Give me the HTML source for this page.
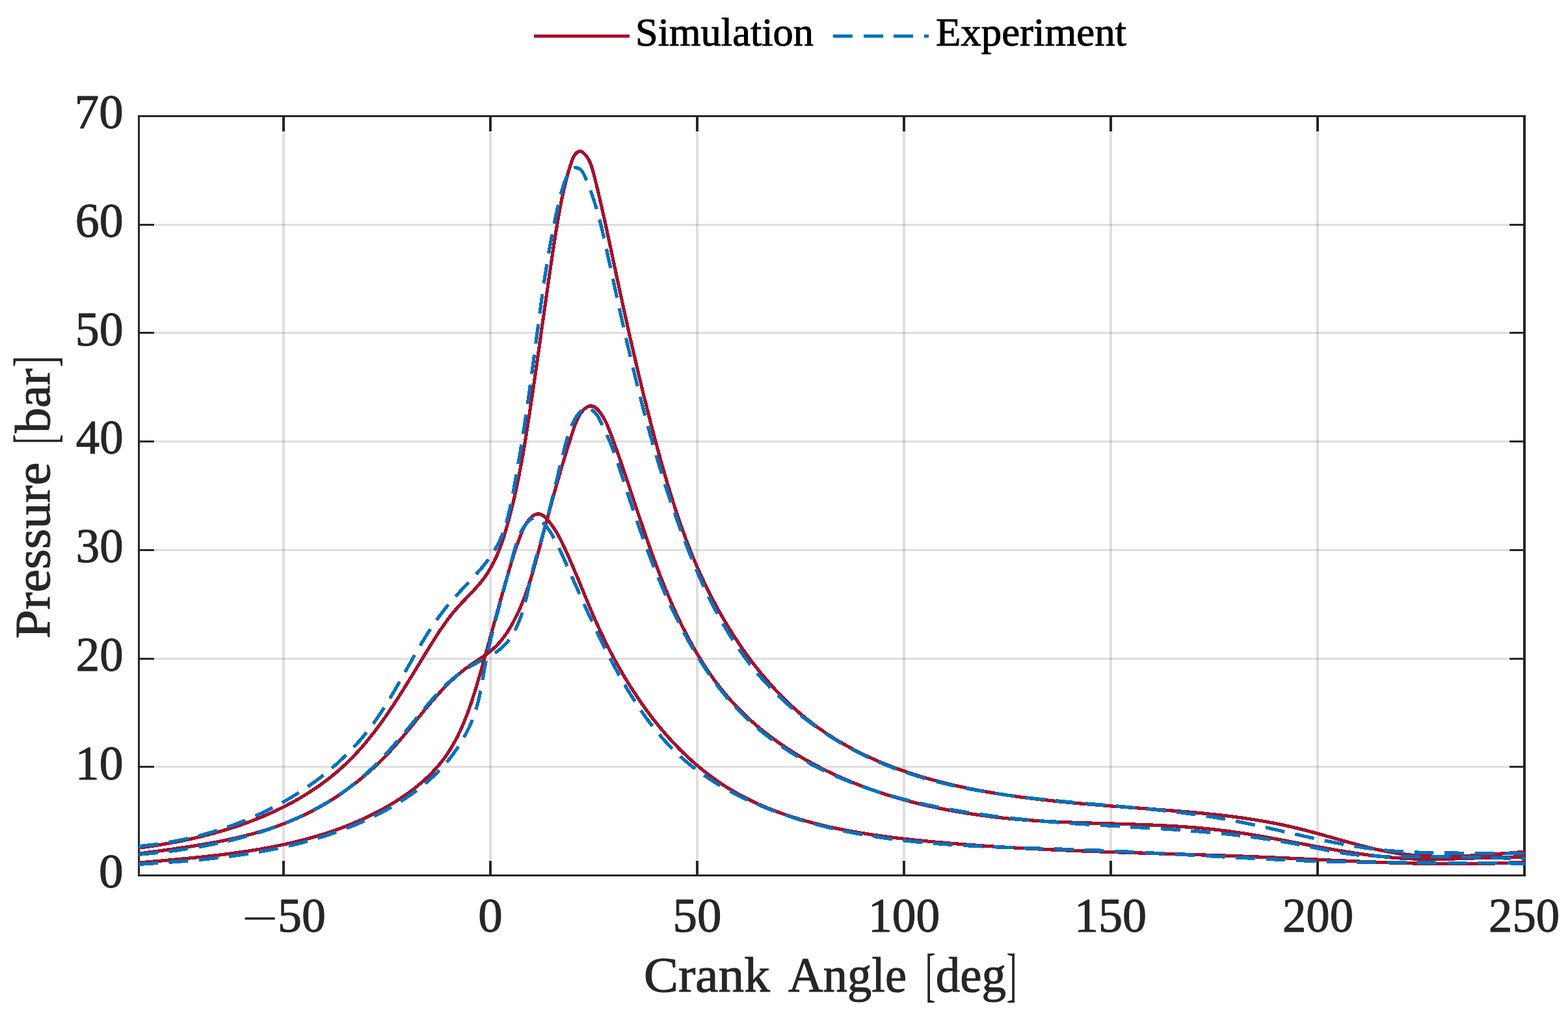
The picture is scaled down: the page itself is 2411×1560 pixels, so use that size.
<!DOCTYPE html>
<html lang="en"><head><meta charset="utf-8"><title>Pressure vs Crank Angle</title>
<style>
html,body{margin:0;padding:0;background:#fff;}
body{width:2411px;height:1560px;overflow:hidden;}
svg{display:block;}
text{font-family:'Liberation Serif', 'DejaVu Serif', serif;}
.tk{font-size:73.4px;fill:#262626;stroke:#262626;stroke-width:1.1px;stroke-linejoin:round;}
.mn{stroke:none;}
.br{font-size:90.6px;stroke:none;}
.lb{font-size:77px;fill:#262626;stroke:#262626;stroke-width:1.1px;stroke-linejoin:round;}
.lg{font-size:60.5px;fill:#000;stroke:#000;stroke-width:1.0px;stroke-linejoin:round;}
</style></head><body>
<svg width="2411" height="1560" viewBox="0 0 2411 1560">
<rect width="2411" height="1560" fill="#fff"/>
<defs><clipPath id="cp"><rect x="213" y="180" width="2132.2" height="1164"/></clipPath></defs>

<g fill="#dedede" shape-rendering="crispEdges">
<rect x="434" y="203" width="4" height="1119"/>
<rect x="752" y="203" width="4" height="1119"/>
<rect x="1070" y="203" width="4" height="1119"/>
<rect x="1388" y="203" width="4" height="1119"/>
<rect x="1706" y="203" width="4" height="1119"/>
<rect x="2024" y="203" width="4" height="1119"/>
<rect x="238" y="1177" width="2082" height="3"/>
<rect x="238" y="1011" width="2082" height="3"/>
<rect x="238" y="844" width="2082" height="3"/>
<rect x="238" y="677" width="2082" height="3"/>
<rect x="238" y="510" width="2082" height="3"/>
<rect x="238" y="344" width="2082" height="3"/>
</g>
<g fill="#eeeeee" shape-rendering="crispEdges">
<rect x="434" y="202" width="4" height="1"/>
<rect x="434" y="1322" width="4" height="1"/>
<rect x="752" y="202" width="4" height="1"/>
<rect x="752" y="1322" width="4" height="1"/>
<rect x="1070" y="202" width="4" height="1"/>
<rect x="1070" y="1322" width="4" height="1"/>
<rect x="1388" y="202" width="4" height="1"/>
<rect x="1388" y="1322" width="4" height="1"/>
<rect x="1706" y="202" width="4" height="1"/>
<rect x="1706" y="1322" width="4" height="1"/>
<rect x="2024" y="202" width="4" height="1"/>
<rect x="2024" y="1322" width="4" height="1"/>
<rect x="237" y="1177" width="1" height="3"/>
<rect x="2320" y="1177" width="1" height="3"/>
<rect x="237" y="1011" width="1" height="3"/>
<rect x="2320" y="1011" width="1" height="3"/>
<rect x="237" y="844" width="1" height="3"/>
<rect x="2320" y="844" width="1" height="3"/>
<rect x="237" y="677" width="1" height="3"/>
<rect x="2320" y="677" width="1" height="3"/>
<rect x="237" y="510" width="1" height="3"/>
<rect x="2320" y="510" width="1" height="3"/>
<rect x="237" y="344" width="1" height="3"/>
<rect x="2320" y="344" width="1" height="3"/>
</g>
<g fill="#c3c3c3" shape-rendering="crispEdges">
<rect x="434" y="1177" width="4" height="3"/>
<rect x="434" y="1011" width="4" height="3"/>
<rect x="434" y="844" width="4" height="3"/>
<rect x="434" y="677" width="4" height="3"/>
<rect x="434" y="510" width="4" height="3"/>
<rect x="434" y="344" width="4" height="3"/>
<rect x="752" y="1177" width="4" height="3"/>
<rect x="752" y="1011" width="4" height="3"/>
<rect x="752" y="844" width="4" height="3"/>
<rect x="752" y="677" width="4" height="3"/>
<rect x="752" y="510" width="4" height="3"/>
<rect x="752" y="344" width="4" height="3"/>
<rect x="1070" y="1177" width="4" height="3"/>
<rect x="1070" y="1011" width="4" height="3"/>
<rect x="1070" y="844" width="4" height="3"/>
<rect x="1070" y="677" width="4" height="3"/>
<rect x="1070" y="510" width="4" height="3"/>
<rect x="1070" y="344" width="4" height="3"/>
<rect x="1388" y="1177" width="4" height="3"/>
<rect x="1388" y="1011" width="4" height="3"/>
<rect x="1388" y="844" width="4" height="3"/>
<rect x="1388" y="677" width="4" height="3"/>
<rect x="1388" y="510" width="4" height="3"/>
<rect x="1388" y="344" width="4" height="3"/>
<rect x="1706" y="1177" width="4" height="3"/>
<rect x="1706" y="1011" width="4" height="3"/>
<rect x="1706" y="844" width="4" height="3"/>
<rect x="1706" y="677" width="4" height="3"/>
<rect x="1706" y="510" width="4" height="3"/>
<rect x="1706" y="344" width="4" height="3"/>
<rect x="2024" y="1177" width="4" height="3"/>
<rect x="2024" y="1011" width="4" height="3"/>
<rect x="2024" y="844" width="4" height="3"/>
<rect x="2024" y="677" width="4" height="3"/>
<rect x="2024" y="510" width="4" height="3"/>
<rect x="2024" y="344" width="4" height="3"/>
</g>
<g fill="#262626" shape-rendering="crispEdges">
<rect x="212" y="177" width="2134" height="3"/>
<rect x="212" y="1344" width="2134" height="3"/>
<rect x="212" y="177" width="3" height="1170"/>
<rect x="2342" y="177" width="4" height="1170"/>
<rect x="434" y="177" width="4" height="25"/>
<rect x="434" y="1323" width="4" height="24"/>
<rect x="752" y="177" width="4" height="25"/>
<rect x="752" y="1323" width="4" height="24"/>
<rect x="1070" y="177" width="4" height="25"/>
<rect x="1070" y="1323" width="4" height="24"/>
<rect x="1388" y="177" width="4" height="25"/>
<rect x="1388" y="1323" width="4" height="24"/>
<rect x="1706" y="177" width="4" height="25"/>
<rect x="1706" y="1323" width="4" height="24"/>
<rect x="2024" y="177" width="4" height="25"/>
<rect x="2024" y="1323" width="4" height="24"/>
<rect x="212" y="1177" width="25" height="3"/>
<rect x="2321" y="1177" width="25" height="3"/>
<rect x="212" y="1011" width="25" height="3"/>
<rect x="2321" y="1011" width="25" height="3"/>
<rect x="212" y="844" width="25" height="3"/>
<rect x="2321" y="844" width="25" height="3"/>
<rect x="212" y="677" width="25" height="3"/>
<rect x="2321" y="677" width="25" height="3"/>
<rect x="212" y="510" width="25" height="3"/>
<rect x="2321" y="510" width="25" height="3"/>
<rect x="212" y="344" width="25" height="3"/>
<rect x="2321" y="344" width="25" height="3"/>
</g>
<g clip-path="url(#cp)" fill="none" stroke-width="5.2" stroke-linejoin="round" stroke-linecap="butt" shape-rendering="crispEdges">
<path stroke="#a2142f" stroke-width="3.8000000000000003" shape-rendering="geometricPrecision" d="M178.6 1307.0 L181.0 1306.8 L183.4 1306.5 L185.8 1306.3 L188.3 1306.0 L190.7 1305.8 L193.1 1305.5 L195.6 1305.2 L198.0 1305.0 L200.5 1304.7 L202.9 1304.4 L205.4 1304.1 L207.8 1303.8 L210.3 1303.5 L212.7 1303.2 L215.2 1302.9 L217.6 1302.6 L220.1 1302.2 L222.6 1301.9 L225.0 1301.6 L227.5 1301.2 L229.9 1300.9 L232.4 1300.5 L234.9 1300.1 L237.3 1299.8 L239.8 1299.4 L242.3 1299.0 L244.7 1298.6 L247.2 1298.2 L249.7 1297.8 L252.2 1297.4 L254.6 1296.9 L257.1 1296.5 L259.6 1296.1 L262.0 1295.6 L264.5 1295.2 L267.0 1294.7 L269.4 1294.3 L271.9 1293.8 L274.4 1293.3 L276.8 1292.8 L279.3 1292.3 L281.8 1291.8 L284.2 1291.3 L286.7 1290.8 L289.2 1290.3 L291.6 1289.7 L294.1 1289.2 L296.6 1288.6 L299.0 1288.1 L301.5 1287.5 L303.9 1286.9 L306.4 1286.3 L308.8 1285.8 L311.3 1285.2 L313.7 1284.5 L316.2 1283.9 L318.6 1283.3 L321.1 1282.7 L323.5 1282.0 L325.9 1281.4 L328.4 1280.7 L330.8 1280.1 L333.2 1279.4 L335.7 1278.7 L338.1 1278.0 L340.5 1277.3 L342.9 1276.6 L345.3 1275.9 L347.7 1275.1 L350.1 1274.4 L352.6 1273.7 L355.0 1272.9 L357.3 1272.1 L359.7 1271.4 L362.1 1270.6 L364.5 1269.8 L366.9 1269.0 L369.3 1268.2 L371.6 1267.3 L374.0 1266.5 L376.4 1265.7 L378.7 1264.8 L381.1 1264.0 L383.4 1263.1 L385.8 1262.2 L388.1 1261.3 L390.5 1260.4 L392.8 1259.5 L395.1 1258.6 L397.4 1257.7 L399.8 1256.7 L402.1 1255.8 L404.4 1254.8 L406.7 1253.8 L409.0 1252.9 L411.3 1251.9 L413.5 1250.9 L415.8 1249.8 L418.1 1248.8 L420.3 1247.8 L422.6 1246.7 L424.9 1245.7 L427.1 1244.6 L429.3 1243.5 L431.6 1242.5 L433.8 1241.4 L436.0 1240.2 L438.2 1239.1 L440.4 1238.0 L442.6 1236.8 L444.8 1235.7 L447.0 1234.5 L449.2 1233.4 L451.4 1232.2 L453.5 1231.0 L455.7 1229.8 L457.8 1228.5 L460.0 1227.3 L462.1 1226.1 L464.2 1224.8 L466.3 1223.5 L468.4 1222.2 L470.5 1221.0 L472.6 1219.6 L474.7 1218.3 L476.8 1217.0 L478.8 1215.7 L480.9 1214.3 L482.9 1212.9 L485.0 1211.6 L487.0 1210.2 L489.0 1208.8 L491.0 1207.4 L493.0 1205.9 L495.0 1204.5 L497.0 1203.1 L499.0 1201.6 L501.0 1200.1 L502.9 1198.6 L504.9 1197.1 L506.8 1195.6 L508.7 1194.1 L510.6 1192.5 L512.5 1191.0 L514.4 1189.4 L516.3 1187.9 L518.2 1186.3 L520.1 1184.7 L521.9 1183.0 L523.8 1181.4 L525.6 1179.8 L527.4 1178.1 L529.2 1176.4 L531.0 1174.8 L532.8 1173.1 L534.6 1171.4 L536.4 1169.6 L538.1 1167.9 L539.9 1166.1 L541.6 1164.4 L543.3 1162.6 L545.0 1160.8 L546.7 1159.0 L548.4 1157.2 L550.1 1155.4 L551.8 1153.5 L553.4 1151.7 L555.1 1149.8 L556.7 1148.0 L558.3 1146.1 L560.0 1144.2 L561.6 1142.3 L563.2 1140.4 L564.8 1138.4 L566.4 1136.5 L567.9 1134.6 L569.5 1132.6 L571.1 1130.7 L572.6 1128.7 L574.1 1126.7 L575.7 1124.7 L577.2 1122.7 L578.7 1120.7 L580.2 1118.7 L581.7 1116.7 L583.2 1114.7 L584.7 1112.6 L586.2 1110.6 L587.7 1108.6 L589.1 1106.5 L590.6 1104.4 L592.1 1102.4 L593.5 1100.3 L595.0 1098.2 L596.4 1096.2 L597.8 1094.1 L599.2 1092.0 L600.7 1089.9 L602.1 1087.8 L603.5 1085.7 L604.9 1083.6 L606.3 1081.4 L607.7 1079.3 L609.1 1077.2 L610.4 1075.1 L611.8 1072.9 L613.2 1070.8 L614.5 1068.7 L615.9 1066.5 L617.3 1064.4 L618.6 1062.3 L620.0 1060.1 L621.3 1058.0 L622.7 1055.8 L624.0 1053.7 L625.3 1051.5 L626.7 1049.4 L628.0 1047.2 L629.3 1045.1 L630.7 1042.9 L632.0 1040.8 L633.3 1038.6 L634.6 1036.5 L635.9 1034.3 L637.2 1032.2 L638.6 1030.0 L639.9 1027.9 L641.2 1025.7 L642.5 1023.6 L643.8 1021.5 L645.1 1019.3 L646.4 1017.2 L647.7 1015.0 L649.0 1012.9 L650.3 1010.8 L651.6 1008.7 L652.9 1006.5 L654.2 1004.4 L655.5 1002.3 L656.8 1000.2 L658.1 998.1 L659.4 996.0 L660.7 993.9 L662.0 991.8 L663.3 989.7 L664.6 987.6 L665.9 985.6 L667.2 983.5 L668.5 981.4 L669.8 979.4 L671.1 977.3 L672.5 975.3 L673.8 973.2 L675.1 971.2 L676.5 969.2 L677.8 967.2 L679.2 965.2 L680.6 963.2 L682.0 961.2 L683.4 959.2 L684.8 957.2 L686.2 955.2 L687.7 953.2 L689.1 951.3 L690.6 949.3 L692.1 947.4 L693.6 945.5 L695.2 943.5 L696.7 941.6 L698.3 939.7 L699.9 937.8 L701.6 935.9 L703.2 934.1 L704.9 932.2 L706.6 930.3 L708.3 928.5 L710.0 926.6 L711.8 924.8 L713.5 922.9 L715.3 921.1 L717.0 919.3 L718.8 917.4 L720.6 915.6 L722.3 913.7 L724.1 911.9 L725.9 910.0 L727.6 908.2 L729.3 906.3 L731.1 904.4 L732.8 902.5 L734.4 900.6 L736.1 898.7 L737.7 896.8 L739.4 894.8 L740.9 892.9 L742.5 890.9 L744.0 888.9 L745.5 886.9 L746.9 884.8 L748.3 882.8 L749.7 880.7 L751.0 878.6 L752.3 876.5 L753.6 874.4 L754.8 872.2 L756.0 870.0 L757.2 867.9 L758.3 865.7 L759.5 863.4 L760.6 861.2 L761.6 859.0 L762.7 856.7 L763.7 854.5 L764.7 852.2 L765.6 849.9 L766.6 847.6 L767.5 845.3 L768.4 843.0 L769.3 840.6 L770.1 838.3 L771.0 835.9 L771.8 833.6 L772.6 831.2 L773.4 828.8 L774.2 826.5 L775.0 824.1 L775.7 821.7 L776.4 819.3 L777.2 816.9 L777.9 814.5 L778.6 812.1 L779.3 809.7 L780.0 807.3 L780.6 804.9 L781.3 802.5 L782.0 800.1 L782.6 797.6 L783.3 795.2 L783.9 792.8 L784.6 790.4 L785.2 788.0 L785.8 785.5 L786.4 783.1 L787.0 780.7 L787.6 778.3 L788.2 775.8 L788.8 773.4 L789.4 771.0 L789.9 768.5 L790.5 766.1 L791.1 763.7 L791.6 761.2 L792.2 758.8 L792.7 756.4 L793.2 753.9 L793.8 751.5 L794.3 749.1 L794.8 746.6 L795.3 744.2 L795.8 741.7 L796.3 739.3 L796.8 736.8 L797.3 734.4 L797.8 731.9 L798.3 729.5 L798.8 727.0 L799.2 724.6 L799.7 722.1 L800.2 719.7 L800.6 717.2 L801.1 714.8 L801.6 712.3 L802.0 709.9 L802.4 707.4 L802.9 705.0 L803.3 702.5 L803.8 700.1 L804.2 697.6 L804.6 695.2 L805.0 692.7 L805.5 690.3 L805.9 687.8 L806.3 685.3 L806.7 682.9 L807.1 680.4 L807.5 678.0 L807.9 675.5 L808.3 673.1 L808.7 670.6 L809.1 668.1 L809.5 665.7 L809.9 663.2 L810.3 660.8 L810.7 658.3 L811.1 655.8 L811.4 653.4 L811.8 650.9 L812.2 648.5 L812.6 646.0 L813.0 643.6 L813.3 641.1 L813.7 638.6 L814.1 636.2 L814.5 633.7 L814.8 631.3 L815.2 628.8 L815.6 626.4 L815.9 623.9 L816.3 621.4 L816.7 619.0 L817.0 616.5 L817.4 614.1 L817.8 611.6 L818.1 609.2 L818.5 606.7 L818.9 604.3 L819.2 601.8 L819.6 599.4 L819.9 596.9 L820.3 594.4 L820.7 592.0 L821.0 589.5 L821.4 587.1 L821.7 584.6 L822.1 582.2 L822.4 579.7 L822.8 577.3 L823.2 574.8 L823.5 572.4 L823.9 569.9 L824.2 567.4 L824.6 565.0 L824.9 562.5 L825.3 560.1 L825.6 557.6 L826.0 555.2 L826.3 552.7 L826.7 550.3 L827.0 547.8 L827.4 545.3 L827.7 542.9 L828.1 540.4 L828.4 538.0 L828.8 535.5 L829.1 533.1 L829.5 530.6 L829.8 528.1 L830.2 525.7 L830.5 523.2 L830.9 520.8 L831.2 518.3 L831.6 515.8 L831.9 513.4 L832.3 510.9 L832.6 508.5 L832.9 506.0 L833.3 503.5 L833.6 501.1 L834.0 498.6 L834.3 496.2 L834.7 493.7 L835.0 491.2 L835.4 488.8 L835.7 486.3 L836.1 483.8 L836.4 481.4 L836.8 478.9 L837.1 476.4 L837.5 474.0 L837.8 471.5 L838.2 469.0 L838.5 466.6 L838.9 464.1 L839.2 461.6 L839.6 459.1 L839.9 456.7 L840.3 454.2 L840.6 451.7 L841.0 449.2 L841.3 446.8 L841.7 444.3 L842.1 441.8 L842.4 439.3 L842.8 436.9 L843.1 434.4 L843.5 431.9 L843.8 429.4 L844.2 426.9 L844.6 424.5 L844.9 422.0 L845.3 419.5 L845.6 417.0 L846.0 414.5 L846.4 412.0 L846.7 409.5 L847.1 407.1 L847.5 404.6 L847.8 402.1 L848.2 399.6 L848.6 397.1 L848.9 394.6 L849.3 392.1 L849.7 389.6 L850.0 387.1 L850.4 384.6 L850.8 382.1 L851.2 379.6 L851.6 377.1 L851.9 374.6 L852.3 372.1 L852.7 369.6 L853.1 367.1 L853.5 364.6 L853.9 362.1 L854.3 359.7 L854.7 357.2 L855.1 354.7 L855.5 352.2 L855.9 349.7 L856.3 347.2 L856.7 344.7 L857.1 342.3 L857.5 339.8 L858.0 337.3 L858.4 334.8 L858.8 332.4 L859.3 329.9 L859.7 327.5 L860.2 325.0 L860.6 322.6 L861.1 320.1 L861.5 317.7 L862.0 315.3 L862.5 312.8 L863.0 310.4 L863.4 308.0 L863.9 305.6 L864.4 303.2 L864.9 300.8 L865.5 298.4 L866.0 296.0 L866.5 293.7 L867.0 291.3 L867.6 288.9 L868.1 286.6 L868.7 284.2 L869.3 281.9 L869.9 279.5 L870.5 277.2 L871.1 274.8 L871.7 272.5 L872.3 270.1 L873.0 267.7 L873.7 265.3 L874.4 262.9 L875.1 260.4 L875.9 258.0 L876.6 255.5 L877.4 253.0 L878.3 250.4 L879.1 247.9 L880.1 245.3 L881.1 242.9 L882.2 240.5 L883.6 238.3 L885.1 236.3 L886.8 234.6 L888.8 233.3 L890.9 232.7 L893.0 232.7 L895.0 233.4 L897.0 234.7 L898.8 236.5 L900.4 238.4 L901.9 240.3 L903.3 242.4 L904.6 244.5 L905.8 246.7 L906.9 248.9 L907.8 251.2 L908.8 253.5 L909.6 255.9 L910.4 258.3 L911.1 260.7 L911.8 263.2 L912.5 265.6 L913.1 268.1 L913.8 270.6 L914.4 273.0 L915.0 275.5 L915.6 278.0 L916.2 280.4 L916.8 282.9 L917.4 285.3 L918.0 287.8 L918.6 290.3 L919.2 292.7 L919.8 295.2 L920.4 297.6 L920.9 300.1 L921.5 302.5 L922.1 304.9 L922.7 307.4 L923.2 309.8 L923.8 312.3 L924.3 314.7 L924.9 317.1 L925.5 319.6 L926.0 322.0 L926.6 324.4 L927.1 326.9 L927.7 329.3 L928.2 331.7 L928.7 334.2 L929.3 336.6 L929.8 339.0 L930.3 341.4 L930.9 343.9 L931.4 346.3 L931.9 348.7 L932.5 351.1 L933.0 353.5 L933.5 356.0 L934.0 358.4 L934.6 360.8 L935.1 363.2 L935.6 365.6 L936.1 368.1 L936.7 370.5 L937.2 372.9 L937.7 375.3 L938.2 377.7 L938.7 380.2 L939.2 382.6 L939.8 385.0 L940.3 387.4 L940.8 389.9 L941.3 392.3 L941.8 394.7 L942.3 397.1 L942.8 399.5 L943.4 402.0 L943.9 404.4 L944.4 406.8 L944.9 409.3 L945.4 411.7 L946.0 414.1 L946.5 416.6 L947.0 419.0 L947.5 421.4 L948.0 423.9 L948.6 426.3 L949.1 428.7 L949.6 431.2 L950.1 433.6 L950.7 436.0 L951.2 438.5 L951.7 440.9 L952.2 443.4 L952.8 445.8 L953.3 448.2 L953.8 450.7 L954.4 453.1 L954.9 455.6 L955.4 458.0 L956.0 460.5 L956.5 462.9 L957.0 465.4 L957.6 467.8 L958.1 470.3 L958.6 472.7 L959.2 475.2 L959.7 477.6 L960.3 480.1 L960.8 482.5 L961.3 485.0 L961.9 487.4 L962.4 489.9 L963.0 492.3 L963.5 494.8 L964.1 497.2 L964.6 499.7 L965.2 502.1 L965.7 504.6 L966.3 507.0 L966.8 509.5 L967.4 511.9 L967.9 514.4 L968.5 516.8 L969.0 519.3 L969.6 521.8 L970.1 524.2 L970.7 526.7 L971.3 529.1 L971.8 531.6 L972.4 534.0 L973.0 536.5 L973.5 538.9 L974.1 541.4 L974.7 543.8 L975.2 546.3 L975.8 548.7 L976.4 551.2 L976.9 553.7 L977.5 556.1 L978.1 558.6 L978.7 561.0 L979.2 563.5 L979.8 565.9 L980.4 568.4 L981.0 570.8 L981.6 573.3 L982.1 575.7 L982.7 578.2 L983.3 580.6 L983.9 583.0 L984.5 585.5 L985.1 587.9 L985.7 590.4 L986.3 592.8 L986.9 595.3 L987.4 597.7 L988.0 600.2 L988.6 602.6 L989.2 605.0 L989.8 607.5 L990.4 609.9 L991.0 612.4 L991.7 614.8 L992.3 617.2 L992.9 619.7 L993.5 622.1 L994.1 624.6 L994.7 627.0 L995.3 629.4 L995.9 631.8 L996.5 634.3 L997.2 636.7 L997.8 639.1 L998.4 641.6 L999.0 644.0 L999.6 646.4 L1000.3 648.8 L1000.9 651.3 L1001.5 653.7 L1002.2 656.1 L1002.8 658.5 L1003.4 660.9 L1004.1 663.4 L1004.7 665.8 L1005.3 668.2 L1006.0 670.6 L1006.6 673.0 L1007.3 675.4 L1007.9 677.8 L1008.6 680.2 L1009.2 682.7 L1009.9 685.1 L1010.5 687.5 L1011.2 689.9 L1011.8 692.3 L1012.5 694.7 L1013.1 697.1 L1013.8 699.5 L1014.5 701.8 L1015.1 704.2 L1015.8 706.6 L1016.5 709.0 L1017.1 711.4 L1017.8 713.8 L1018.5 716.2 L1019.2 718.6 L1019.8 720.9 L1020.5 723.3 L1021.2 725.7 L1021.9 728.1 L1022.6 730.4 L1023.3 732.8 L1024.0 735.2 L1024.6 737.5 L1025.3 739.9 L1026.0 742.3 L1026.7 744.6 L1027.5 747.0 L1028.2 749.4 L1028.9 751.7 L1029.6 754.1 L1030.3 756.4 L1031.0 758.8 L1031.8 761.1 L1032.5 763.5 L1033.2 765.8 L1034.0 768.2 L1034.7 770.5 L1035.5 772.9 L1036.2 775.2 L1037.0 777.5 L1037.7 779.9 L1038.5 782.2 L1039.2 784.6 L1040.0 786.9 L1040.8 789.2 L1041.6 791.5 L1042.4 793.9 L1043.1 796.2 L1043.9 798.5 L1044.7 800.9 L1045.5 803.2 L1046.4 805.5 L1047.2 807.8 L1048.0 810.1 L1048.8 812.5 L1049.6 814.8 L1050.5 817.1 L1051.3 819.4 L1052.2 821.7 L1053.0 824.0 L1053.9 826.3 L1054.7 828.6 L1055.6 830.9 L1056.5 833.2 L1057.4 835.5 L1058.3 837.8 L1059.2 840.1 L1060.1 842.4 L1061.0 844.7 L1061.9 847.0 L1062.8 849.3 L1063.7 851.6 L1064.7 853.9 L1065.6 856.2 L1066.5 858.5 L1067.5 860.8 L1068.5 863.0 L1069.4 865.3 L1070.4 867.6 L1071.4 869.9 L1072.4 872.2 L1073.4 874.5 L1074.4 876.7 L1075.4 879.0 L1076.4 881.3 L1077.5 883.5 L1078.5 885.8 L1079.5 888.1 L1080.6 890.4 L1081.7 892.6 L1082.7 894.9 L1083.8 897.2 L1084.9 899.4 L1086.0 901.7 L1087.1 903.9 L1088.2 906.2 L1089.3 908.5 L1090.5 910.7 L1091.6 913.0 L1092.7 915.2 L1093.9 917.5 L1095.1 919.7 L1096.2 921.9 L1097.4 924.2 L1098.6 926.4 L1099.8 928.7 L1101.0 930.9 L1102.2 933.1 L1103.4 935.3 L1104.7 937.6 L1105.9 939.8 L1107.1 942.0 L1108.4 944.2 L1109.7 946.4 L1110.9 948.6 L1112.2 950.8 L1113.5 953.0 L1114.8 955.2 L1116.1 957.4 L1117.4 959.6 L1118.7 961.8 L1120.0 964.0 L1121.4 966.1 L1122.7 968.3 L1124.1 970.5 L1125.4 972.6 L1126.8 974.8 L1128.2 976.9 L1129.6 979.0 L1130.9 981.2 L1132.3 983.3 L1133.8 985.4 L1135.2 987.6 L1136.6 989.7 L1138.0 991.8 L1139.5 993.9 L1140.9 996.0 L1142.4 998.1 L1143.8 1000.1 L1145.3 1002.2 L1146.8 1004.3 L1148.3 1006.4 L1149.8 1008.4 L1151.3 1010.5 L1152.8 1012.5 L1154.3 1014.5 L1155.8 1016.6 L1157.4 1018.6 L1158.9 1020.6 L1160.4 1022.6 L1162.0 1024.6 L1163.6 1026.6 L1165.1 1028.6 L1166.7 1030.5 L1168.3 1032.5 L1169.9 1034.5 L1171.5 1036.4 L1173.1 1038.4 L1174.8 1040.3 L1176.4 1042.2 L1178.0 1044.1 L1179.7 1046.0 L1181.3 1047.9 L1183.0 1049.8 L1184.6 1051.7 L1186.3 1053.6 L1188.0 1055.4 L1189.7 1057.3 L1191.4 1059.1 L1193.1 1060.9 L1194.8 1062.8 L1196.5 1064.6 L1198.3 1066.4 L1200.0 1068.2 L1201.8 1069.9 L1203.5 1071.7 L1205.3 1073.5 L1207.0 1075.2 L1208.8 1077.0 L1210.6 1078.7 L1212.4 1080.4 L1214.2 1082.1 L1216.0 1083.8 L1217.8 1085.5 L1219.6 1087.2 L1221.5 1088.8 L1223.3 1090.5 L1225.1 1092.1 L1227.0 1093.7 L1228.8 1095.4 L1230.7 1097.0 L1232.6 1098.5 L1234.5 1100.1 L1236.4 1101.7 L1238.3 1103.2 L1240.2 1104.8 L1242.1 1106.3 L1244.0 1107.8 L1245.9 1109.3 L1247.8 1110.8 L1249.8 1112.3 L1251.7 1113.8 L1253.7 1115.2 L1255.7 1116.7 L1257.6 1118.1 L1259.6 1119.5 L1261.6 1120.9 L1263.6 1122.3 L1265.6 1123.7 L1267.6 1125.1 L1269.6 1126.4 L1271.6 1127.8 L1273.6 1129.1 L1275.7 1130.4 L1277.7 1131.7 L1279.8 1133.0 L1281.8 1134.3 L1283.9 1135.6 L1285.9 1136.9 L1288.0 1138.1 L1290.1 1139.4 L1292.2 1140.6 L1294.3 1141.8 L1296.4 1143.1 L1298.5 1144.3 L1300.6 1145.5 L1302.7 1146.6 L1304.8 1147.8 L1306.9 1149.0 L1309.1 1150.1 L1311.2 1151.3 L1313.4 1152.4 L1315.5 1153.5 L1317.7 1154.6 L1319.8 1155.7 L1322.0 1156.8 L1324.2 1157.9 L1326.3 1158.9 L1328.5 1160.0 L1330.7 1161.0 L1332.9 1162.1 L1335.1 1163.1 L1337.3 1164.1 L1339.5 1165.1 L1341.8 1166.1 L1344.0 1167.1 L1346.2 1168.1 L1348.5 1169.1 L1350.7 1170.0 L1352.9 1171.0 L1355.2 1171.9 L1357.5 1172.8 L1359.7 1173.8 L1362.0 1174.7 L1364.2 1175.6 L1366.5 1176.5 L1368.8 1177.4 L1371.1 1178.2 L1373.4 1179.1 L1375.7 1180.0 L1378.0 1180.8 L1380.3 1181.7 L1382.6 1182.5 L1384.9 1183.3 L1387.2 1184.1 L1389.5 1184.9 L1391.9 1185.7 L1394.2 1186.5 L1396.5 1187.3 L1398.9 1188.1 L1401.2 1188.8 L1403.6 1189.6 L1405.9 1190.4 L1408.3 1191.1 L1410.6 1191.8 L1413.0 1192.6 L1415.4 1193.3 L1417.7 1194.0 L1420.1 1194.7 L1422.5 1195.4 L1424.9 1196.1 L1427.3 1196.8 L1429.7 1197.4 L1432.1 1198.1 L1434.5 1198.7 L1436.9 1199.4 L1439.3 1200.0 L1441.7 1200.7 L1444.1 1201.3 L1446.5 1201.9 L1448.9 1202.5 L1451.4 1203.1 L1453.8 1203.7 L1456.2 1204.3 L1458.7 1204.9 L1461.1 1205.5 L1463.5 1206.1 L1466.0 1206.6 L1468.4 1207.2 L1470.9 1207.8 L1473.3 1208.3 L1475.8 1208.8 L1478.2 1209.4 L1480.7 1209.9 L1483.2 1210.4 L1485.6 1210.9 L1488.1 1211.5 L1490.6 1212.0 L1493.1 1212.5 L1495.5 1212.9 L1498.0 1213.4 L1500.5 1213.9 L1503.0 1214.4 L1505.5 1214.9 L1508.0 1215.3 L1510.4 1215.8 L1512.9 1216.2 L1515.4 1216.7 L1517.9 1217.1 L1520.4 1217.5 L1522.9 1218.0 L1525.4 1218.4 L1528.0 1218.8 L1530.5 1219.2 L1533.0 1219.6 L1535.5 1220.0 L1538.0 1220.4 L1540.5 1220.8 L1543.0 1221.2 L1545.6 1221.6 L1548.1 1222.0 L1550.6 1222.4 L1553.1 1222.7 L1555.7 1223.1 L1558.2 1223.5 L1560.7 1223.8 L1563.3 1224.2 L1565.8 1224.5 L1568.3 1224.9 L1570.9 1225.2 L1573.4 1225.5 L1575.9 1225.9 L1578.5 1226.2 L1581.0 1226.5 L1583.5 1226.8 L1586.1 1227.2 L1588.6 1227.5 L1591.2 1227.8 L1593.7 1228.1 L1596.3 1228.4 L1598.8 1228.7 L1601.4 1229.0 L1603.9 1229.3 L1606.5 1229.5 L1609.0 1229.8 L1611.6 1230.1 L1614.1 1230.4 L1616.7 1230.7 L1619.2 1230.9 L1621.8 1231.2 L1624.3 1231.5 L1626.9 1231.7 L1629.4 1232.0 L1632.0 1232.2 L1634.5 1232.5 L1637.1 1232.7 L1639.7 1233.0 L1642.2 1233.2 L1644.8 1233.5 L1647.3 1233.7 L1649.9 1234.0 L1652.4 1234.2 L1655.0 1234.4 L1657.5 1234.6 L1660.1 1234.9 L1662.6 1235.1 L1665.2 1235.3 L1667.7 1235.5 L1670.3 1235.8 L1672.9 1236.0 L1675.4 1236.2 L1678.0 1236.4 L1680.5 1236.6 L1683.1 1236.8 L1685.6 1237.0 L1688.2 1237.3 L1690.7 1237.5 L1693.3 1237.7 L1695.8 1237.9 L1698.3 1238.1 L1700.9 1238.3 L1703.4 1238.5 L1706.0 1238.7 L1708.5 1238.9 L1711.1 1239.1 L1713.6 1239.3 L1716.1 1239.5 L1718.7 1239.6 L1721.2 1239.8 L1723.8 1240.0 L1726.3 1240.2 L1728.8 1240.4 L1731.4 1240.6 L1733.9 1240.8 L1736.4 1241.0 L1738.9 1241.2 L1741.5 1241.4 L1744.0 1241.5 L1746.5 1241.7 L1749.0 1241.9 L1751.5 1242.1 L1754.1 1242.3 L1756.6 1242.5 L1759.1 1242.7 L1761.6 1242.8 L1764.1 1243.0 L1766.6 1243.2 L1769.1 1243.4 L1771.6 1243.6 L1774.1 1243.8 L1776.6 1244.0 L1779.1 1244.2 L1781.6 1244.4 L1784.1 1244.5 L1786.6 1244.7 L1789.1 1244.9 L1791.6 1245.1 L1794.1 1245.3 L1796.5 1245.5 L1799.0 1245.7 L1801.5 1245.9 L1804.0 1246.1 L1806.4 1246.3 L1808.9 1246.5 L1811.4 1246.7 L1813.8 1246.9 L1816.3 1247.1 L1818.7 1247.3 L1821.2 1247.5 L1823.6 1247.7 L1826.1 1247.9 L1828.5 1248.1 L1831.0 1248.4 L1833.4 1248.6 L1835.8 1248.8 L1838.3 1249.0 L1840.7 1249.2 L1843.1 1249.5 L1845.6 1249.7 L1848.0 1249.9 L1850.4 1250.1 L1852.8 1250.4 L1855.3 1250.6 L1857.7 1250.9 L1860.1 1251.1 L1862.5 1251.4 L1864.9 1251.6 L1867.3 1251.9 L1869.7 1252.1 L1872.1 1252.4 L1874.5 1252.6 L1876.9 1252.9 L1879.3 1253.2 L1881.8 1253.5 L1884.2 1253.7 L1886.6 1254.0 L1888.9 1254.3 L1891.3 1254.6 L1893.7 1254.9 L1896.1 1255.2 L1898.5 1255.5 L1900.9 1255.8 L1903.3 1256.2 L1905.7 1256.5 L1908.1 1256.8 L1910.5 1257.1 L1912.9 1257.5 L1915.3 1257.8 L1917.7 1258.2 L1920.1 1258.5 L1922.5 1258.9 L1924.9 1259.3 L1927.2 1259.6 L1929.6 1260.0 L1932.0 1260.4 L1934.4 1260.8 L1936.8 1261.2 L1939.2 1261.6 L1941.6 1262.0 L1944.0 1262.4 L1946.4 1262.8 L1948.8 1263.3 L1951.2 1263.7 L1953.6 1264.2 L1956.0 1264.6 L1958.4 1265.1 L1960.8 1265.5 L1963.2 1266.0 L1965.6 1266.5 L1968.0 1267.0 L1970.4 1267.5 L1972.8 1268.0 L1975.2 1268.5 L1977.6 1269.0 L1980.0 1269.5 L1982.4 1270.1 L1984.8 1270.6 L1987.2 1271.2 L1989.7 1271.8 L1992.1 1272.3 L1994.5 1272.9 L1996.9 1273.5 L1999.3 1274.1 L2001.8 1274.7 L2004.2 1275.3 L2006.6 1275.9 L2009.1 1276.6 L2011.5 1277.2 L2013.9 1277.9 L2016.4 1278.5 L2018.8 1279.2 L2021.2 1279.8 L2023.7 1280.5 L2026.1 1281.2 L2028.6 1281.9 L2031.0 1282.5 L2033.5 1283.2 L2035.9 1283.9 L2038.4 1284.6 L2040.8 1285.3 L2043.3 1286.0 L2045.8 1286.7 L2048.2 1287.4 L2050.7 1288.1 L2053.1 1288.8 L2055.6 1289.5 L2058.1 1290.2 L2060.5 1290.9 L2063.0 1291.6 L2065.5 1292.3 L2067.9 1293.0 L2070.4 1293.6 L2072.9 1294.3 L2075.3 1295.0 L2077.8 1295.7 L2080.3 1296.4 L2082.8 1297.0 L2085.2 1297.7 L2087.7 1298.3 L2090.2 1299.0 L2092.7 1299.6 L2095.1 1300.3 L2097.6 1300.9 L2100.1 1301.5 L2102.6 1302.1 L2105.0 1302.7 L2107.5 1303.3 L2110.0 1303.9 L2112.5 1304.5 L2115.0 1305.1 L2117.4 1305.6 L2119.9 1306.2 L2122.4 1306.7 L2124.9 1307.2 L2127.4 1307.7 L2129.9 1308.2 L2132.3 1308.7 L2134.8 1309.2 L2137.3 1309.6 L2139.8 1310.1 L2142.3 1310.5 L2144.7 1310.9 L2147.2 1311.3 L2149.7 1311.7 L2152.2 1312.0 L2154.7 1312.4 L2157.1 1312.7 L2159.6 1313.0 L2162.1 1313.3 L2164.6 1313.6 L2167.1 1313.9 L2169.5 1314.1 L2172.0 1314.3 L2174.5 1314.6 L2177.0 1314.8 L2179.5 1315.0 L2181.9 1315.1 L2184.4 1315.3 L2186.9 1315.5 L2189.4 1315.6 L2191.9 1315.7 L2194.3 1315.8 L2196.8 1315.9 L2199.3 1316.0 L2201.8 1316.1 L2204.3 1316.2 L2206.7 1316.2 L2209.2 1316.3 L2211.7 1316.3 L2214.2 1316.3 L2216.6 1316.4 L2219.1 1316.4 L2221.6 1316.3 L2224.1 1316.3 L2226.6 1316.3 L2229.0 1316.3 L2231.5 1316.2 L2234.0 1316.2 L2236.5 1316.1 L2239.0 1316.0 L2241.4 1316.0 L2243.9 1315.9 L2246.4 1315.8 L2248.9 1315.7 L2251.4 1315.6 L2253.9 1315.5 L2256.3 1315.4 L2258.8 1315.3 L2261.3 1315.1 L2263.8 1315.0 L2266.3 1314.9 L2268.8 1314.7 L2271.2 1314.6 L2273.7 1314.4 L2276.2 1314.3 L2278.7 1314.1 L2281.2 1313.9 L2283.7 1313.8 L2286.2 1313.6 L2288.7 1313.4 L2291.1 1313.3 L2293.6 1313.1 L2296.1 1312.9 L2298.6 1312.7 L2301.1 1312.5 L2303.6 1312.3 L2306.1 1312.2 L2308.6 1312.0 L2311.1 1311.8 L2313.6 1311.6 L2316.1 1311.4 L2318.6 1311.2 L2321.1 1311.1 L2323.6 1310.9 L2326.1 1310.7 L2328.6 1310.5 L2331.1 1310.3 L2333.6 1310.1 L2336.1 1310.0 L2338.6 1309.8 L2341.1 1309.6 L2343.6 1309.5 L2346.1 1309.3 L2348.6 1309.1 L2351.1 1309.0 L2353.6 1308.8 L2356.1 1308.7 L2358.6 1308.5 L2361.1 1308.4 L2363.6 1308.2 L2366.2 1308.1 L2368.7 1308.0 L2371.2 1307.9 L2373.7 1307.7 L2376.2 1307.6 L2378.7 1307.5 L2379.6 1307.5"/>
<path id="redA" stroke="#a2142f" d="M178.6 1307.0 L181.0 1306.8 L183.4 1306.5 L185.8 1306.3 L188.3 1306.0 L190.7 1305.8 L193.1 1305.5 L195.6 1305.2 L198.0 1305.0 L200.5 1304.7 L202.9 1304.4 L205.4 1304.1 L207.8 1303.8 L210.3 1303.5 L212.7 1303.2 L215.2 1302.9 L217.6 1302.6 L220.1 1302.2 L222.6 1301.9 L225.0 1301.6 L227.5 1301.2 L229.9 1300.9 L232.4 1300.5 L234.9 1300.1 L237.3 1299.8 L239.8 1299.4 L242.3 1299.0 L244.7 1298.6 L247.2 1298.2 L249.7 1297.8 L252.2 1297.4 L254.6 1296.9 L257.1 1296.5 L259.6 1296.1 L262.0 1295.6 L264.5 1295.2 L267.0 1294.7 L269.4 1294.3 L271.9 1293.8 L274.4 1293.3 L276.8 1292.8 L279.3 1292.3 L281.8 1291.8 L284.2 1291.3 L286.7 1290.8 L289.2 1290.3 L291.6 1289.7 L294.1 1289.2 L296.6 1288.6 L299.0 1288.1 L301.5 1287.5 L303.9 1286.9 L306.4 1286.3 L308.8 1285.8 L311.3 1285.2 L313.7 1284.5 L316.2 1283.9 L318.6 1283.3 L321.1 1282.7 L323.5 1282.0 L325.9 1281.4 L328.4 1280.7 L330.8 1280.1 L333.2 1279.4 L335.7 1278.7 L338.1 1278.0 L340.5 1277.3 L342.9 1276.6 L345.3 1275.9 L347.7 1275.1 L350.1 1274.4 L352.6 1273.7 L355.0 1272.9 L357.3 1272.1 L359.7 1271.4 L362.1 1270.6 L364.5 1269.8 L366.9 1269.0 L369.3 1268.2 L371.6 1267.3 L374.0 1266.5 L376.4 1265.7 L378.7 1264.8 L381.1 1264.0 L383.4 1263.1 L385.8 1262.2 L388.1 1261.3 L390.5 1260.4 L392.8 1259.5 L395.1 1258.6 L397.4 1257.7 L399.8 1256.7 L402.1 1255.8 L404.4 1254.8 L406.7 1253.8 L409.0 1252.9 L411.3 1251.9 L413.5 1250.9 L415.8 1249.8 L418.1 1248.8 L420.3 1247.8 L422.6 1246.7 L424.9 1245.7 L427.1 1244.6 L429.3 1243.5 L431.6 1242.5 L433.8 1241.4 L436.0 1240.2 L438.2 1239.1 L440.4 1238.0 L442.6 1236.8 L444.8 1235.7 L447.0 1234.5 L449.2 1233.4 L451.4 1232.2 L453.5 1231.0 L455.7 1229.8 L457.8 1228.5 L460.0 1227.3 L462.1 1226.1 L464.2 1224.8 L466.3 1223.5 L468.4 1222.2 L470.5 1221.0 L472.6 1219.6 L474.7 1218.3 L476.8 1217.0 L478.8 1215.7 L480.9 1214.3 L482.9 1212.9 L485.0 1211.6 L487.0 1210.2 L489.0 1208.8 L491.0 1207.4 L493.0 1205.9 L495.0 1204.5 L497.0 1203.1 L499.0 1201.6 L501.0 1200.1 L502.9 1198.6 L504.9 1197.1 L506.8 1195.6 L508.7 1194.1 L510.6 1192.5 L512.5 1191.0 L514.4 1189.4 L516.3 1187.9 L518.2 1186.3 L520.1 1184.7 L521.9 1183.0 L523.8 1181.4 L525.6 1179.8 L527.4 1178.1 L529.2 1176.4 L531.0 1174.8 L532.8 1173.1 L534.6 1171.4 L536.4 1169.6 L538.1 1167.9 L539.9 1166.1 L541.6 1164.4 L543.3 1162.6 L545.0 1160.8 L546.7 1159.0 L548.4 1157.2 L550.1 1155.4 L551.8 1153.5 L553.4 1151.7 L555.1 1149.8 L556.7 1148.0 L558.3 1146.1 L560.0 1144.2 L561.6 1142.3 L563.2 1140.4 L564.8 1138.4 L566.4 1136.5 L567.9 1134.6 L569.5 1132.6 L571.1 1130.7 L572.6 1128.7 L574.1 1126.7 L575.7 1124.7 L577.2 1122.7 L578.7 1120.7 L580.2 1118.7 L581.7 1116.7 L583.2 1114.7 L584.7 1112.6 L586.2 1110.6 L587.7 1108.6 L589.1 1106.5 L590.6 1104.4 L592.1 1102.4 L593.5 1100.3 L595.0 1098.2 L596.4 1096.2 L597.8 1094.1 L599.2 1092.0 L600.7 1089.9 L602.1 1087.8 L603.5 1085.7 L604.9 1083.6 L606.3 1081.4 L607.7 1079.3 L609.1 1077.2 L610.4 1075.1 L611.8 1072.9 L613.2 1070.8 L614.5 1068.7 L615.9 1066.5 L617.3 1064.4 L618.6 1062.3 L620.0 1060.1 L621.3 1058.0 L622.7 1055.8 L624.0 1053.7 L625.3 1051.5 L626.7 1049.4 L628.0 1047.2 L629.3 1045.1 L630.7 1042.9 L632.0 1040.8 L633.3 1038.6 L634.6 1036.5 L635.9 1034.3 L637.2 1032.2 L638.6 1030.0 L639.9 1027.9 L641.2 1025.7 L642.5 1023.6 L643.8 1021.5 L645.1 1019.3 L646.4 1017.2 L647.7 1015.0 L649.0 1012.9 L650.3 1010.8 L651.6 1008.7 L652.9 1006.5 L654.2 1004.4 L655.5 1002.3 L656.8 1000.2 L658.1 998.1 L659.4 996.0 L660.7 993.9 L662.0 991.8 L663.3 989.7 L664.6 987.6 L665.9 985.6 L667.2 983.5 L668.5 981.4 L669.8 979.4 L671.1 977.3 L672.5 975.3 L673.8 973.2 L675.1 971.2 L676.5 969.2 L677.8 967.2 L679.2 965.2 L680.6 963.2 L682.0 961.2 L683.4 959.2 L684.8 957.2 L686.2 955.2 L687.7 953.2 L689.1 951.3 L690.6 949.3 L692.1 947.4 L693.6 945.5 L695.2 943.5 L696.7 941.6 L698.3 939.7 L699.9 937.8 L701.6 935.9 L703.2 934.1 L704.9 932.2 L706.6 930.3 L708.3 928.5 L710.0 926.6 L711.8 924.8 L713.5 922.9 L715.3 921.1 L717.0 919.3 L718.8 917.4 L720.6 915.6 L722.3 913.7 L724.1 911.9 L725.9 910.0 L727.6 908.2 L729.3 906.3 L731.1 904.4 L732.8 902.5 L734.4 900.6 L736.1 898.7 L737.7 896.8 L739.4 894.8 L740.9 892.9 L742.5 890.9 L744.0 888.9 L745.5 886.9 L746.9 884.8 L748.3 882.8 L749.7 880.7 L751.0 878.6 L752.3 876.5 L753.6 874.4 L754.8 872.2 L756.0 870.0 L757.2 867.9 L758.3 865.7 L759.5 863.4 L760.6 861.2 L761.6 859.0 L762.7 856.7 L763.7 854.5 L764.7 852.2 L765.6 849.9 L766.6 847.6 L767.5 845.3 L768.4 843.0 L769.3 840.6 L770.1 838.3 L771.0 835.9 L771.8 833.6 L772.6 831.2 L773.4 828.8 L774.2 826.5 L775.0 824.1 L775.7 821.7 L776.4 819.3 L777.2 816.9 L777.9 814.5 L778.6 812.1 L779.3 809.7 L780.0 807.3 L780.6 804.9 L781.3 802.5 L782.0 800.1 L782.6 797.6 L783.3 795.2 L783.9 792.8 L784.6 790.4 L785.2 788.0 L785.8 785.5 L786.4 783.1 L787.0 780.7 L787.6 778.3 L788.2 775.8 L788.8 773.4 L789.4 771.0 L789.9 768.5 L790.5 766.1 L791.1 763.7 L791.6 761.2 L792.2 758.8 L792.7 756.4 L793.2 753.9 L793.8 751.5 L794.3 749.1 L794.8 746.6 L795.3 744.2 L795.8 741.7 L796.3 739.3 L796.8 736.8 L797.3 734.4 L797.8 731.9 L798.3 729.5 L798.8 727.0 L799.2 724.6 L799.7 722.1 L800.2 719.7 L800.6 717.2 L801.1 714.8 L801.6 712.3 L802.0 709.9 L802.4 707.4 L802.9 705.0 L803.3 702.5 L803.8 700.1 L804.2 697.6 L804.6 695.2 L805.0 692.7 L805.5 690.3 L805.9 687.8 L806.3 685.3 L806.7 682.9 L807.1 680.4 L807.5 678.0 L807.9 675.5 L808.3 673.1 L808.7 670.6 L809.1 668.1 L809.5 665.7 L809.9 663.2 L810.3 660.8 L810.7 658.3 L811.1 655.8 L811.4 653.4 L811.8 650.9 L812.2 648.5 L812.6 646.0 L813.0 643.6 L813.3 641.1 L813.7 638.6 L814.1 636.2 L814.5 633.7 L814.8 631.3 L815.2 628.8 L815.6 626.4 L815.9 623.9 L816.3 621.4 L816.7 619.0 L817.0 616.5 L817.4 614.1 L817.8 611.6 L818.1 609.2 L818.5 606.7 L818.9 604.3 L819.2 601.8 L819.6 599.4 L819.9 596.9 L820.3 594.4 L820.7 592.0 L821.0 589.5 L821.4 587.1 L821.7 584.6 L822.1 582.2 L822.4 579.7 L822.8 577.3 L823.2 574.8 L823.5 572.4 L823.9 569.9 L824.2 567.4 L824.6 565.0 L824.9 562.5 L825.3 560.1 L825.6 557.6 L826.0 555.2 L826.3 552.7 L826.7 550.3 L827.0 547.8 L827.4 545.3 L827.7 542.9 L828.1 540.4 L828.4 538.0 L828.8 535.5 L829.1 533.1 L829.5 530.6 L829.8 528.1 L830.2 525.7 L830.5 523.2 L830.9 520.8 L831.2 518.3 L831.6 515.8 L831.9 513.4 L832.3 510.9 L832.6 508.5 L832.9 506.0 L833.3 503.5 L833.6 501.1 L834.0 498.6 L834.3 496.2 L834.7 493.7 L835.0 491.2 L835.4 488.8 L835.7 486.3 L836.1 483.8 L836.4 481.4 L836.8 478.9 L837.1 476.4 L837.5 474.0 L837.8 471.5 L838.2 469.0 L838.5 466.6 L838.9 464.1 L839.2 461.6 L839.6 459.1 L839.9 456.7 L840.3 454.2 L840.6 451.7 L841.0 449.2 L841.3 446.8 L841.7 444.3 L842.1 441.8 L842.4 439.3 L842.8 436.9 L843.1 434.4 L843.5 431.9 L843.8 429.4 L844.2 426.9 L844.6 424.5 L844.9 422.0 L845.3 419.5 L845.6 417.0 L846.0 414.5 L846.4 412.0 L846.7 409.5 L847.1 407.1 L847.5 404.6 L847.8 402.1 L848.2 399.6 L848.6 397.1 L848.9 394.6 L849.3 392.1 L849.7 389.6 L850.0 387.1 L850.4 384.6 L850.8 382.1 L851.2 379.6 L851.6 377.1 L851.9 374.6 L852.3 372.1 L852.7 369.6 L853.1 367.1 L853.5 364.6 L853.9 362.1 L854.3 359.7 L854.7 357.2 L855.1 354.7 L855.5 352.2 L855.9 349.7 L856.3 347.2 L856.7 344.7 L857.1 342.3 L857.5 339.8 L858.0 337.3 L858.4 334.8 L858.8 332.4 L859.3 329.9 L859.7 327.5 L860.2 325.0 L860.6 322.6 L861.1 320.1 L861.5 317.7 L862.0 315.3 L862.5 312.8 L863.0 310.4 L863.4 308.0 L863.9 305.6 L864.4 303.2 L864.9 300.8 L865.5 298.4 L866.0 296.0 L866.5 293.7 L867.0 291.3 L867.6 288.9 L868.1 286.6 L868.7 284.2 L869.3 281.9 L869.9 279.5 L870.5 277.2 L871.1 274.8 L871.7 272.5 L872.3 270.1 L873.0 267.7 L873.7 265.3 L874.4 262.9 L875.1 260.4 L875.9 258.0 L876.6 255.5 L877.4 253.0 L878.3 250.4 L879.1 247.9 L880.1 245.3 L881.1 242.9 L882.2 240.5 L883.6 238.3 L885.1 236.3 L886.8 234.6 L888.8 233.3 L890.9 232.7 L893.0 232.7 L895.0 233.4 L897.0 234.7 L898.8 236.5 L900.4 238.4 L901.9 240.3 L903.3 242.4 L904.6 244.5 L905.8 246.7 L906.9 248.9 L907.8 251.2 L908.8 253.5 L909.6 255.9 L910.4 258.3 L911.1 260.7 L911.8 263.2 L912.5 265.6 L913.1 268.1 L913.8 270.6 L914.4 273.0 L915.0 275.5 L915.6 278.0 L916.2 280.4 L916.8 282.9 L917.4 285.3 L918.0 287.8 L918.6 290.3 L919.2 292.7 L919.8 295.2 L920.4 297.6 L920.9 300.1 L921.5 302.5 L922.1 304.9 L922.7 307.4 L923.2 309.8 L923.8 312.3 L924.3 314.7 L924.9 317.1 L925.5 319.6 L926.0 322.0 L926.6 324.4 L927.1 326.9 L927.7 329.3 L928.2 331.7 L928.7 334.2 L929.3 336.6 L929.8 339.0 L930.3 341.4 L930.9 343.9 L931.4 346.3 L931.9 348.7 L932.5 351.1 L933.0 353.5 L933.5 356.0 L934.0 358.4 L934.6 360.8 L935.1 363.2 L935.6 365.6 L936.1 368.1 L936.7 370.5 L937.2 372.9 L937.7 375.3 L938.2 377.7 L938.7 380.2 L939.2 382.6 L939.8 385.0 L940.3 387.4 L940.8 389.9 L941.3 392.3 L941.8 394.7 L942.3 397.1 L942.8 399.5 L943.4 402.0 L943.9 404.4 L944.4 406.8 L944.9 409.3 L945.4 411.7 L946.0 414.1 L946.5 416.6 L947.0 419.0 L947.5 421.4 L948.0 423.9 L948.6 426.3 L949.1 428.7 L949.6 431.2 L950.1 433.6 L950.7 436.0 L951.2 438.5 L951.7 440.9 L952.2 443.4 L952.8 445.8 L953.3 448.2 L953.8 450.7 L954.4 453.1 L954.9 455.6 L955.4 458.0 L956.0 460.5 L956.5 462.9 L957.0 465.4 L957.6 467.8 L958.1 470.3 L958.6 472.7 L959.2 475.2 L959.7 477.6 L960.3 480.1 L960.8 482.5 L961.3 485.0 L961.9 487.4 L962.4 489.9 L963.0 492.3 L963.5 494.8 L964.1 497.2 L964.6 499.7 L965.2 502.1 L965.7 504.6 L966.3 507.0 L966.8 509.5 L967.4 511.9 L967.9 514.4 L968.5 516.8 L969.0 519.3 L969.6 521.8 L970.1 524.2 L970.7 526.7 L971.3 529.1 L971.8 531.6 L972.4 534.0 L973.0 536.5 L973.5 538.9 L974.1 541.4 L974.7 543.8 L975.2 546.3 L975.8 548.7 L976.4 551.2 L976.9 553.7 L977.5 556.1 L978.1 558.6 L978.7 561.0 L979.2 563.5 L979.8 565.9 L980.4 568.4 L981.0 570.8 L981.6 573.3 L982.1 575.7 L982.7 578.2 L983.3 580.6 L983.9 583.0 L984.5 585.5 L985.1 587.9 L985.7 590.4 L986.3 592.8 L986.9 595.3 L987.4 597.7 L988.0 600.2 L988.6 602.6 L989.2 605.0 L989.8 607.5 L990.4 609.9 L991.0 612.4 L991.7 614.8 L992.3 617.2 L992.9 619.7 L993.5 622.1 L994.1 624.6 L994.7 627.0 L995.3 629.4 L995.9 631.8 L996.5 634.3 L997.2 636.7 L997.8 639.1 L998.4 641.6 L999.0 644.0 L999.6 646.4 L1000.3 648.8 L1000.9 651.3 L1001.5 653.7 L1002.2 656.1 L1002.8 658.5 L1003.4 660.9 L1004.1 663.4 L1004.7 665.8 L1005.3 668.2 L1006.0 670.6 L1006.6 673.0 L1007.3 675.4 L1007.9 677.8 L1008.6 680.2 L1009.2 682.7 L1009.9 685.1 L1010.5 687.5 L1011.2 689.9 L1011.8 692.3 L1012.5 694.7 L1013.1 697.1 L1013.8 699.5 L1014.5 701.8 L1015.1 704.2 L1015.8 706.6 L1016.5 709.0 L1017.1 711.4 L1017.8 713.8 L1018.5 716.2 L1019.2 718.6 L1019.8 720.9 L1020.5 723.3 L1021.2 725.7 L1021.9 728.1 L1022.6 730.4 L1023.3 732.8 L1024.0 735.2 L1024.6 737.5 L1025.3 739.9 L1026.0 742.3 L1026.7 744.6 L1027.5 747.0 L1028.2 749.4 L1028.9 751.7 L1029.6 754.1 L1030.3 756.4 L1031.0 758.8 L1031.8 761.1 L1032.5 763.5 L1033.2 765.8 L1034.0 768.2 L1034.7 770.5 L1035.5 772.9 L1036.2 775.2 L1037.0 777.5 L1037.7 779.9 L1038.5 782.2 L1039.2 784.6 L1040.0 786.9 L1040.8 789.2 L1041.6 791.5 L1042.4 793.9 L1043.1 796.2 L1043.9 798.5 L1044.7 800.9 L1045.5 803.2 L1046.4 805.5 L1047.2 807.8 L1048.0 810.1 L1048.8 812.5 L1049.6 814.8 L1050.5 817.1 L1051.3 819.4 L1052.2 821.7 L1053.0 824.0 L1053.9 826.3 L1054.7 828.6 L1055.6 830.9 L1056.5 833.2 L1057.4 835.5 L1058.3 837.8 L1059.2 840.1 L1060.1 842.4 L1061.0 844.7 L1061.9 847.0 L1062.8 849.3 L1063.7 851.6 L1064.7 853.9 L1065.6 856.2 L1066.5 858.5 L1067.5 860.8 L1068.5 863.0 L1069.4 865.3 L1070.4 867.6 L1071.4 869.9 L1072.4 872.2 L1073.4 874.5 L1074.4 876.7 L1075.4 879.0 L1076.4 881.3 L1077.5 883.5 L1078.5 885.8 L1079.5 888.1 L1080.6 890.4 L1081.7 892.6 L1082.7 894.9 L1083.8 897.2 L1084.9 899.4 L1086.0 901.7 L1087.1 903.9 L1088.2 906.2 L1089.3 908.5 L1090.5 910.7 L1091.6 913.0 L1092.7 915.2 L1093.9 917.5 L1095.1 919.7 L1096.2 921.9 L1097.4 924.2 L1098.6 926.4 L1099.8 928.7 L1101.0 930.9 L1102.2 933.1 L1103.4 935.3 L1104.7 937.6 L1105.9 939.8 L1107.1 942.0 L1108.4 944.2 L1109.7 946.4 L1110.9 948.6 L1112.2 950.8 L1113.5 953.0 L1114.8 955.2 L1116.1 957.4 L1117.4 959.6 L1118.7 961.8 L1120.0 964.0 L1121.4 966.1 L1122.7 968.3 L1124.1 970.5 L1125.4 972.6 L1126.8 974.8 L1128.2 976.9 L1129.6 979.0 L1130.9 981.2 L1132.3 983.3 L1133.8 985.4 L1135.2 987.6 L1136.6 989.7 L1138.0 991.8 L1139.5 993.9 L1140.9 996.0 L1142.4 998.1 L1143.8 1000.1 L1145.3 1002.2 L1146.8 1004.3 L1148.3 1006.4 L1149.8 1008.4 L1151.3 1010.5 L1152.8 1012.5 L1154.3 1014.5 L1155.8 1016.6 L1157.4 1018.6 L1158.9 1020.6 L1160.4 1022.6 L1162.0 1024.6 L1163.6 1026.6 L1165.1 1028.6 L1166.7 1030.5 L1168.3 1032.5 L1169.9 1034.5 L1171.5 1036.4 L1173.1 1038.4 L1174.8 1040.3 L1176.4 1042.2 L1178.0 1044.1 L1179.7 1046.0 L1181.3 1047.9 L1183.0 1049.8 L1184.6 1051.7 L1186.3 1053.6 L1188.0 1055.4 L1189.7 1057.3 L1191.4 1059.1 L1193.1 1060.9 L1194.8 1062.8 L1196.5 1064.6 L1198.3 1066.4 L1200.0 1068.2 L1201.8 1069.9 L1203.5 1071.7 L1205.3 1073.5 L1207.0 1075.2 L1208.8 1077.0 L1210.6 1078.7 L1212.4 1080.4 L1214.2 1082.1 L1216.0 1083.8 L1217.8 1085.5 L1219.6 1087.2 L1221.5 1088.8 L1223.3 1090.5 L1225.1 1092.1 L1227.0 1093.7 L1228.8 1095.4 L1230.7 1097.0 L1232.6 1098.5 L1234.5 1100.1 L1236.4 1101.7 L1238.3 1103.2 L1240.2 1104.8 L1242.1 1106.3 L1244.0 1107.8 L1245.9 1109.3 L1247.8 1110.8 L1249.8 1112.3 L1251.7 1113.8 L1253.7 1115.2 L1255.7 1116.7 L1257.6 1118.1 L1259.6 1119.5 L1261.6 1120.9 L1263.6 1122.3 L1265.6 1123.7 L1267.6 1125.1 L1269.6 1126.4 L1271.6 1127.8 L1273.6 1129.1 L1275.7 1130.4 L1277.7 1131.7 L1279.8 1133.0 L1281.8 1134.3 L1283.9 1135.6 L1285.9 1136.9 L1288.0 1138.1 L1290.1 1139.4 L1292.2 1140.6 L1294.3 1141.8 L1296.4 1143.1 L1298.5 1144.3 L1300.6 1145.5 L1302.7 1146.6 L1304.8 1147.8 L1306.9 1149.0 L1309.1 1150.1 L1311.2 1151.3 L1313.4 1152.4 L1315.5 1153.5 L1317.7 1154.6 L1319.8 1155.7 L1322.0 1156.8 L1324.2 1157.9 L1326.3 1158.9 L1328.5 1160.0 L1330.7 1161.0 L1332.9 1162.1 L1335.1 1163.1 L1337.3 1164.1 L1339.5 1165.1 L1341.8 1166.1 L1344.0 1167.1 L1346.2 1168.1 L1348.5 1169.1 L1350.7 1170.0 L1352.9 1171.0 L1355.2 1171.9 L1357.5 1172.8 L1359.7 1173.8 L1362.0 1174.7 L1364.2 1175.6 L1366.5 1176.5 L1368.8 1177.4 L1371.1 1178.2 L1373.4 1179.1 L1375.7 1180.0 L1378.0 1180.8 L1380.3 1181.7 L1382.6 1182.5 L1384.9 1183.3 L1387.2 1184.1 L1389.5 1184.9 L1391.9 1185.7 L1394.2 1186.5 L1396.5 1187.3 L1398.9 1188.1 L1401.2 1188.8 L1403.6 1189.6 L1405.9 1190.4 L1408.3 1191.1 L1410.6 1191.8 L1413.0 1192.6 L1415.4 1193.3 L1417.7 1194.0 L1420.1 1194.7 L1422.5 1195.4 L1424.9 1196.1 L1427.3 1196.8 L1429.7 1197.4 L1432.1 1198.1 L1434.5 1198.7 L1436.9 1199.4 L1439.3 1200.0 L1441.7 1200.7 L1444.1 1201.3 L1446.5 1201.9 L1448.9 1202.5 L1451.4 1203.1 L1453.8 1203.7 L1456.2 1204.3 L1458.7 1204.9 L1461.1 1205.5 L1463.5 1206.1 L1466.0 1206.6 L1468.4 1207.2 L1470.9 1207.8 L1473.3 1208.3 L1475.8 1208.8 L1478.2 1209.4 L1480.7 1209.9 L1483.2 1210.4 L1485.6 1210.9 L1488.1 1211.5 L1490.6 1212.0 L1493.1 1212.5 L1495.5 1212.9 L1498.0 1213.4 L1500.5 1213.9 L1503.0 1214.4 L1505.5 1214.9 L1508.0 1215.3 L1510.4 1215.8 L1512.9 1216.2 L1515.4 1216.7 L1517.9 1217.1 L1520.4 1217.5 L1522.9 1218.0 L1525.4 1218.4 L1528.0 1218.8 L1530.5 1219.2 L1533.0 1219.6 L1535.5 1220.0 L1538.0 1220.4 L1540.5 1220.8 L1543.0 1221.2 L1545.6 1221.6 L1548.1 1222.0 L1550.6 1222.4 L1553.1 1222.7 L1555.7 1223.1 L1558.2 1223.5 L1560.7 1223.8 L1563.3 1224.2 L1565.8 1224.5 L1568.3 1224.9 L1570.9 1225.2 L1573.4 1225.5 L1575.9 1225.9 L1578.5 1226.2 L1581.0 1226.5 L1583.5 1226.8 L1586.1 1227.2 L1588.6 1227.5 L1591.2 1227.8 L1593.7 1228.1 L1596.3 1228.4 L1598.8 1228.7 L1601.4 1229.0 L1603.9 1229.3 L1606.5 1229.5 L1609.0 1229.8 L1611.6 1230.1 L1614.1 1230.4 L1616.7 1230.7 L1619.2 1230.9 L1621.8 1231.2 L1624.3 1231.5 L1626.9 1231.7 L1629.4 1232.0 L1632.0 1232.2 L1634.5 1232.5 L1637.1 1232.7 L1639.7 1233.0 L1642.2 1233.2 L1644.8 1233.5 L1647.3 1233.7 L1649.9 1234.0 L1652.4 1234.2 L1655.0 1234.4 L1657.5 1234.6 L1660.1 1234.9 L1662.6 1235.1 L1665.2 1235.3 L1667.7 1235.5 L1670.3 1235.8 L1672.9 1236.0 L1675.4 1236.2 L1678.0 1236.4 L1680.5 1236.6 L1683.1 1236.8 L1685.6 1237.0 L1688.2 1237.3 L1690.7 1237.5 L1693.3 1237.7 L1695.8 1237.9 L1698.3 1238.1 L1700.9 1238.3 L1703.4 1238.5 L1706.0 1238.7 L1708.5 1238.9 L1711.1 1239.1 L1713.6 1239.3 L1716.1 1239.5 L1718.7 1239.6 L1721.2 1239.8 L1723.8 1240.0 L1726.3 1240.2 L1728.8 1240.4 L1731.4 1240.6 L1733.9 1240.8 L1736.4 1241.0 L1738.9 1241.2 L1741.5 1241.4 L1744.0 1241.5 L1746.5 1241.7 L1749.0 1241.9 L1751.5 1242.1 L1754.1 1242.3 L1756.6 1242.5 L1759.1 1242.7 L1761.6 1242.8 L1764.1 1243.0 L1766.6 1243.2 L1769.1 1243.4 L1771.6 1243.6 L1774.1 1243.8 L1776.6 1244.0 L1779.1 1244.2 L1781.6 1244.4 L1784.1 1244.5 L1786.6 1244.7 L1789.1 1244.9 L1791.6 1245.1 L1794.1 1245.3 L1796.5 1245.5 L1799.0 1245.7 L1801.5 1245.9 L1804.0 1246.1 L1806.4 1246.3 L1808.9 1246.5 L1811.4 1246.7 L1813.8 1246.9 L1816.3 1247.1 L1818.7 1247.3 L1821.2 1247.5 L1823.6 1247.7 L1826.1 1247.9 L1828.5 1248.1 L1831.0 1248.4 L1833.4 1248.6 L1835.8 1248.8 L1838.3 1249.0 L1840.7 1249.2 L1843.1 1249.5 L1845.6 1249.7 L1848.0 1249.9 L1850.4 1250.1 L1852.8 1250.4 L1855.3 1250.6 L1857.7 1250.9 L1860.1 1251.1 L1862.5 1251.4 L1864.9 1251.6 L1867.3 1251.9 L1869.7 1252.1 L1872.1 1252.4 L1874.5 1252.6 L1876.9 1252.9 L1879.3 1253.2 L1881.8 1253.5 L1884.2 1253.7 L1886.6 1254.0 L1888.9 1254.3 L1891.3 1254.6 L1893.7 1254.9 L1896.1 1255.2 L1898.5 1255.5 L1900.9 1255.8 L1903.3 1256.2 L1905.7 1256.5 L1908.1 1256.8 L1910.5 1257.1 L1912.9 1257.5 L1915.3 1257.8 L1917.7 1258.2 L1920.1 1258.5 L1922.5 1258.9 L1924.9 1259.3 L1927.2 1259.6 L1929.6 1260.0 L1932.0 1260.4 L1934.4 1260.8 L1936.8 1261.2 L1939.2 1261.6 L1941.6 1262.0 L1944.0 1262.4 L1946.4 1262.8 L1948.8 1263.3 L1951.2 1263.7 L1953.6 1264.2 L1956.0 1264.6 L1958.4 1265.1 L1960.8 1265.5 L1963.2 1266.0 L1965.6 1266.5 L1968.0 1267.0 L1970.4 1267.5 L1972.8 1268.0 L1975.2 1268.5 L1977.6 1269.0 L1980.0 1269.5 L1982.4 1270.1 L1984.8 1270.6 L1987.2 1271.2 L1989.7 1271.8 L1992.1 1272.3 L1994.5 1272.9 L1996.9 1273.5 L1999.3 1274.1 L2001.8 1274.7 L2004.2 1275.3 L2006.6 1275.9 L2009.1 1276.6 L2011.5 1277.2 L2013.9 1277.9 L2016.4 1278.5 L2018.8 1279.2 L2021.2 1279.8 L2023.7 1280.5 L2026.1 1281.2 L2028.6 1281.9 L2031.0 1282.5 L2033.5 1283.2 L2035.9 1283.9 L2038.4 1284.6 L2040.8 1285.3 L2043.3 1286.0 L2045.8 1286.7 L2048.2 1287.4 L2050.7 1288.1 L2053.1 1288.8 L2055.6 1289.5 L2058.1 1290.2 L2060.5 1290.9 L2063.0 1291.6 L2065.5 1292.3 L2067.9 1293.0 L2070.4 1293.6 L2072.9 1294.3 L2075.3 1295.0 L2077.8 1295.7 L2080.3 1296.4 L2082.8 1297.0 L2085.2 1297.7 L2087.7 1298.3 L2090.2 1299.0 L2092.7 1299.6 L2095.1 1300.3 L2097.6 1300.9 L2100.1 1301.5 L2102.6 1302.1 L2105.0 1302.7 L2107.5 1303.3 L2110.0 1303.9 L2112.5 1304.5 L2115.0 1305.1 L2117.4 1305.6 L2119.9 1306.2 L2122.4 1306.7 L2124.9 1307.2 L2127.4 1307.7 L2129.9 1308.2 L2132.3 1308.7 L2134.8 1309.2 L2137.3 1309.6 L2139.8 1310.1 L2142.3 1310.5 L2144.7 1310.9 L2147.2 1311.3 L2149.7 1311.7 L2152.2 1312.0 L2154.7 1312.4 L2157.1 1312.7 L2159.6 1313.0 L2162.1 1313.3 L2164.6 1313.6 L2167.1 1313.9 L2169.5 1314.1 L2172.0 1314.3 L2174.5 1314.6 L2177.0 1314.8 L2179.5 1315.0 L2181.9 1315.1 L2184.4 1315.3 L2186.9 1315.5 L2189.4 1315.6 L2191.9 1315.7 L2194.3 1315.8 L2196.8 1315.9 L2199.3 1316.0 L2201.8 1316.1 L2204.3 1316.2 L2206.7 1316.2 L2209.2 1316.3 L2211.7 1316.3 L2214.2 1316.3 L2216.6 1316.4 L2219.1 1316.4 L2221.6 1316.3 L2224.1 1316.3 L2226.6 1316.3 L2229.0 1316.3 L2231.5 1316.2 L2234.0 1316.2 L2236.5 1316.1 L2239.0 1316.0 L2241.4 1316.0 L2243.9 1315.9 L2246.4 1315.8 L2248.9 1315.7 L2251.4 1315.6 L2253.9 1315.5 L2256.3 1315.4 L2258.8 1315.3 L2261.3 1315.1 L2263.8 1315.0 L2266.3 1314.9 L2268.8 1314.7 L2271.2 1314.6 L2273.7 1314.4 L2276.2 1314.3 L2278.7 1314.1 L2281.2 1313.9 L2283.7 1313.8 L2286.2 1313.6 L2288.7 1313.4 L2291.1 1313.3 L2293.6 1313.1 L2296.1 1312.9 L2298.6 1312.7 L2301.1 1312.5 L2303.6 1312.3 L2306.1 1312.2 L2308.6 1312.0 L2311.1 1311.8 L2313.6 1311.6 L2316.1 1311.4 L2318.6 1311.2 L2321.1 1311.1 L2323.6 1310.9 L2326.1 1310.7 L2328.6 1310.5 L2331.1 1310.3 L2333.6 1310.1 L2336.1 1310.0 L2338.6 1309.8 L2341.1 1309.6 L2343.6 1309.5 L2346.1 1309.3 L2348.6 1309.1 L2351.1 1309.0 L2353.6 1308.8 L2356.1 1308.7 L2358.6 1308.5 L2361.1 1308.4 L2363.6 1308.2 L2366.2 1308.1 L2368.7 1308.0 L2371.2 1307.9 L2373.7 1307.7 L2376.2 1307.6 L2378.7 1307.5 L2379.6 1307.5"/>
<path stroke="#0072bd" stroke-width="3.8000000000000003" shape-rendering="geometricPrecision" d="M213.1 1300.7 L217.0 1300.3 L221.0 1299.9 L223.9 1299.5 L226.9 1299.2 L229.9 1298.8 L232.9 1298.5 L235.9 1298.1 L238.8 1297.7 L241.8 1297.3 L242.9 1297.1 M259.6 1294.4 L262.6 1293.9 L265.6 1293.4 L268.5 1292.8 L271.5 1292.2 L274.4 1291.6 L277.4 1291.0 L280.4 1290.4 L283.3 1289.8 L286.2 1289.1 L288.9 1288.5 M305.2 1284.6 L308.7 1283.7 L311.6 1282.9 L314.5 1282.1 L317.4 1281.3 L320.3 1280.5 L323.2 1279.6 L326.1 1278.8 L329.0 1277.9 L331.9 1277.0 L333.6 1276.5 M349.4 1271.2 L352.8 1270.0 L355.7 1269.0 L358.5 1268.0 L361.3 1267.0 L364.1 1265.9 L366.9 1264.8 L369.7 1263.7 L372.5 1262.6 L375.3 1261.5 L377.3 1260.7 M392.7 1254.1 L395.5 1252.9 L399.2 1251.2 L402.8 1249.5 L406.4 1247.8 L410.0 1246.1 L413.6 1244.3 L417.1 1242.5 L419.2 1241.4 M433.8 1233.6 L437.3 1231.7 L440.7 1229.7 L444.1 1227.7 L447.6 1225.7 L450.9 1223.6 L454.3 1221.5 L457.7 1219.4 L459.4 1218.3 M473.4 1209.0 L476.6 1206.8 L479.8 1204.5 L483.0 1202.2 L486.2 1199.8 L489.3 1197.5 L492.5 1195.1 L495.6 1192.6 L497.3 1191.3 M510.3 1180.6 L513.0 1178.2 L516.0 1175.6 L518.9 1173.0 L521.8 1170.3 L524.7 1167.6 L527.6 1164.9 L530.4 1162.2 L532.3 1160.4 M544.0 1148.3 L546.1 1146.0 L548.8 1143.1 L551.4 1140.1 L554.0 1137.2 L556.6 1134.2 L559.1 1131.2 L561.6 1128.1 L563.6 1125.7 M573.8 1112.3 L576.0 1109.3 L578.3 1106.1 L580.6 1102.8 L582.8 1099.6 L585.0 1096.3 L587.2 1093.0 L589.4 1089.6 L590.6 1087.7 M599.5 1073.4 L601.5 1070.1 L603.0 1067.5 L604.5 1065.0 L606.0 1062.4 L607.6 1059.8 L609.1 1057.2 L610.6 1054.5 L612.1 1051.9 L613.6 1049.3 L614.5 1047.6 M622.8 1032.9 L624.4 1030.0 L625.9 1027.4 L627.4 1024.8 L628.9 1022.1 L630.4 1019.5 L631.9 1016.9 L633.4 1014.2 L634.8 1011.6 L636.3 1009.0 L637.6 1006.8 M646.1 992.2 L648.0 989.0 L649.6 986.4 L651.1 983.9 L652.7 981.3 L654.3 978.7 L655.9 976.2 L657.5 973.6 L659.1 971.1 L660.7 968.6 L661.8 966.9 M671.3 953.0 L673.2 950.4 L675.5 947.2 L677.9 944.0 L680.3 940.8 L682.7 937.6 L685.2 934.5 L687.7 931.4 L689.4 929.4 M700.5 916.7 L702.8 914.1 L705.6 911.2 L708.3 908.2 L711.0 905.3 L713.7 902.4 L716.5 899.5 L719.2 896.6 L720.8 894.9 M732.2 882.5 L734.6 879.8 L737.2 876.8 L739.8 873.9 L742.3 870.9 L744.8 867.8 L747.2 864.8 L749.6 861.7 L751.0 859.7 M760.4 845.9 L762.0 843.1 L763.9 839.7 L765.8 836.3 L767.5 832.8 L769.1 829.3 L770.7 825.7 L772.2 822.0 L773.3 819.1 M778.6 803.2 L779.4 800.3 L780.2 797.4 L781.0 794.4 L781.7 791.5 L782.4 788.5 L783.1 785.6 L783.8 782.6 L784.4 779.6 L785.1 776.6 L785.5 774.8 M788.6 758.6 L789.2 755.6 L789.8 752.6 L790.3 749.6 L790.9 746.6 L791.4 743.6 L792.0 740.7 L792.5 737.7 L793.1 734.7 L793.6 731.7 L794.0 729.4 M796.9 712.9 L797.5 709.1 L798.2 705.1 L798.9 701.2 L799.5 697.3 L800.2 693.3 L800.8 689.4 L801.4 685.5 L801.8 683.5 M804.4 666.9 L805.0 663.0 L805.6 659.1 L806.2 655.2 L806.8 651.3 L807.4 647.4 L808.0 643.5 L808.5 639.6 L808.9 637.5 M811.3 620.9 L811.8 617.2 L812.3 613.3 L812.9 609.5 L813.4 605.6 L814.0 601.7 L814.5 597.7 L815.1 593.8 L815.4 591.3 M817.7 574.7 L818.1 571.4 L818.6 567.4 L819.2 563.5 L819.7 559.6 L820.2 555.7 L820.7 551.7 L821.2 547.8 L821.6 544.9 M823.8 528.1 L824.2 525.1 L824.7 521.1 L825.2 517.1 L825.6 514.2 L826.0 511.2 L826.4 508.2 L826.8 505.2 L827.2 502.3 L827.7 498.5 M829.9 481.8 L830.4 478.4 L830.8 475.4 L831.2 472.4 L831.6 469.4 L832.0 466.4 L832.4 463.4 L832.8 460.4 L833.2 457.5 L833.6 454.5 L834.0 452.2 M836.4 435.6 L836.8 432.6 L837.2 429.6 L837.7 426.6 L838.1 423.6 L838.6 420.7 L839.1 417.7 L839.5 414.7 L840.0 411.7 L840.5 408.7 L840.9 406.1 M843.6 389.5 L844.2 386.0 L844.7 383.0 L845.3 380.1 L846.0 376.1 L846.7 372.2 L847.4 368.3 L848.1 364.4 L848.9 360.2 M852.1 343.7 L852.9 340.0 L853.7 336.1 L854.5 332.2 L855.4 328.3 L856.2 324.5 L857.1 320.6 L857.9 316.7 L858.4 314.8 M862.3 298.8 L863.1 295.7 L864.2 291.8 L865.4 288.0 L866.3 285.1 L867.2 282.3 L868.3 279.4 L869.3 276.5 L870.5 273.6 L871.8 270.6 M882.5 257.9 L886.0 257.7 L889.0 258.5 L891.6 259.9 L894.5 262.6 L896.7 265.8 L898.1 268.5 L899.3 271.3 L900.5 274.1 L901.9 277.2 M908.0 292.9 L909.1 295.7 L910.1 298.6 L911.1 301.4 L912.0 304.3 L913.0 307.1 L913.9 310.0 L914.8 312.8 L915.7 315.7 L916.8 319.5 L917.3 321.2 M921.8 337.4 L922.7 340.7 L923.6 344.5 L924.6 348.4 L925.6 352.3 L926.5 356.2 L927.4 360.0 L928.3 363.9 L928.8 366.3 M932.5 382.7 L933.3 386.3 L934.1 390.2 L934.9 394.1 L935.8 398.0 L936.6 401.9 L937.5 405.8 L938.3 409.7 L938.8 412.0 M942.4 428.5 L943.2 432.1 L944.0 436.0 L944.9 439.9 L945.7 443.8 L946.6 447.7 L947.4 451.6 L948.3 455.5 L948.7 457.5 M952.3 473.8 L953.0 477.0 L953.9 480.9 L954.7 484.8 L955.6 488.7 L956.5 492.6 L957.4 496.5 L958.2 500.4 L958.8 503.0 M962.6 519.5 L963.3 522.8 L964.2 526.7 L965.1 530.6 L966.0 534.5 L967.0 538.4 L967.9 542.3 L968.8 546.2 L969.3 548.5 M973.2 564.9 L974.1 568.5 L975.0 572.4 L976.0 576.3 L976.9 580.2 L977.9 584.1 L978.9 588.0 L979.8 591.9 L980.3 593.8 M984.4 610.0 L985.2 613.2 L986.2 617.1 L987.2 620.9 L988.2 624.8 L989.2 628.7 L990.2 632.5 L991.2 636.4 L991.9 638.8 M996.2 655.0 L997.2 658.6 L998.3 662.5 L999.3 666.3 L1000.4 670.2 L1001.5 674.0 L1002.6 677.9 L1003.7 681.7 L1004.2 683.6 M1008.9 699.7 L1009.8 702.8 L1010.9 706.7 L1012.1 710.5 L1013.2 714.3 L1014.4 718.1 L1015.5 722.0 L1016.7 725.8 L1017.5 728.1 M1022.5 744.1 L1023.6 747.7 L1024.8 751.5 L1026.1 755.3 L1027.3 759.1 L1028.6 762.9 L1029.8 766.7 L1031.1 770.5 L1031.7 772.3 M1037.1 788.1 L1038.2 791.3 L1039.6 795.0 L1040.9 798.8 L1042.2 802.6 L1043.6 806.3 L1045.0 810.1 L1046.3 813.8 L1047.1 816.0 M1053.0 831.6 L1054.4 835.3 L1055.8 839.1 L1057.3 842.8 L1058.8 846.5 L1060.2 850.2 L1061.7 854.0 L1063.2 857.7 L1063.9 859.3 M1070.3 874.7 L1071.7 878.0 L1073.3 881.6 L1074.8 885.3 L1076.5 888.9 L1078.1 892.6 L1079.7 896.2 L1081.4 899.9 L1082.3 901.8 M1089.5 917.0 L1091.2 920.5 L1093.0 924.1 L1094.8 927.7 L1096.6 931.2 L1098.5 934.7 L1100.3 938.3 L1102.2 941.8 L1103.1 943.6 M1111.3 958.3 L1113.3 961.7 L1115.3 965.1 L1117.4 968.5 L1119.4 971.9 L1121.5 975.3 L1123.6 978.7 L1125.7 982.0 L1126.8 983.7 M1136.2 997.7 L1137.9 1000.2 L1140.2 1003.4 L1142.5 1006.6 L1144.8 1009.8 L1147.2 1013.0 L1149.6 1016.2 L1152.0 1019.4 L1153.8 1021.7 M1164.4 1034.7 L1166.5 1037.1 L1169.1 1040.1 L1171.1 1042.4 L1173.1 1044.6 L1175.1 1046.9 L1177.1 1049.1 L1179.2 1051.3 L1181.3 1053.5 L1183.3 1055.7 L1184.4 1056.8 M1196.2 1068.7 L1199.0 1071.3 L1201.2 1073.4 L1203.4 1075.4 L1205.6 1077.5 L1207.9 1079.5 L1210.1 1081.6 L1212.4 1083.6 L1214.7 1085.6 L1216.9 1087.6 L1218.3 1088.7 M1231.2 1099.4 L1234.1 1101.7 L1236.5 1103.6 L1238.9 1105.4 L1241.3 1107.3 L1243.7 1109.1 L1246.1 1110.9 L1248.6 1112.7 L1251.0 1114.5 L1253.5 1116.3 L1254.9 1117.3 M1268.8 1126.8 L1271.8 1128.8 L1274.3 1130.5 L1276.9 1132.1 L1279.4 1133.7 L1282.0 1135.3 L1284.6 1136.9 L1287.1 1138.5 L1289.7 1140.0 L1292.3 1141.6 L1294.0 1142.5 M1308.6 1150.8 L1311.5 1152.3 L1315.1 1154.2 L1318.6 1156.0 L1322.2 1157.8 L1325.7 1159.6 L1329.3 1161.3 L1332.9 1163.0 L1335.3 1164.2 M1350.6 1171.0 L1353.6 1172.3 L1357.3 1173.8 L1360.9 1175.3 L1364.6 1176.8 L1368.2 1178.2 L1371.9 1179.6 L1375.6 1181.0 L1378.3 1182.0 M1394.1 1187.6 L1397.9 1188.8 L1401.6 1190.1 L1405.3 1191.3 L1409.1 1192.4 L1412.9 1193.6 L1416.6 1194.7 L1420.4 1195.8 L1422.8 1196.5 M1439.2 1201.0 L1442.2 1201.8 L1446.1 1202.7 L1449.9 1203.7 L1453.7 1204.6 L1457.6 1205.5 L1461.4 1206.4 L1465.2 1207.3 L1468.2 1207.9 M1484.6 1211.4 L1488.5 1212.1 L1492.4 1212.9 L1496.3 1213.6 L1500.2 1214.3 L1504.1 1215.0 L1508.0 1215.7 L1511.9 1216.4 L1514.0 1216.7 M1530.5 1219.4 L1534.5 1220.0 L1538.4 1220.6 L1542.4 1221.2 L1546.3 1221.7 L1550.3 1222.3 L1554.2 1222.8 L1558.2 1223.3 L1560.0 1223.6 M1576.7 1225.7 L1580.1 1226.1 L1583.1 1226.4 L1586.0 1226.7 L1589.0 1227.1 L1592.0 1227.4 L1595.0 1227.8 L1598.0 1228.1 L1601.0 1228.4 L1604.0 1228.7 L1606.3 1229.0 M1623.0 1230.7 L1626.1 1230.9 L1629.1 1231.2 L1632.1 1231.5 L1635.1 1231.8 L1638.1 1232.1 L1641.1 1232.4 L1644.1 1232.6 L1647.1 1232.9 L1650.2 1233.2 L1653.0 1233.4 M1669.8 1234.9 L1673.3 1235.2 L1676.3 1235.5 L1679.3 1235.8 L1682.4 1236.0 L1685.4 1236.3 L1688.4 1236.5 L1691.4 1236.8 L1694.5 1237.0 L1697.5 1237.3 L1699.3 1237.5 M1715.9 1238.9 L1719.6 1239.2 L1722.7 1239.5 L1725.7 1239.7 L1728.7 1240.0 L1731.7 1240.3 L1734.7 1240.6 L1737.8 1240.8 L1740.8 1241.1 L1743.8 1241.4 L1745.6 1241.5 M1762.3 1243.1 L1765.9 1243.5 L1768.9 1243.8 L1772.0 1244.1 L1775.0 1244.4 L1778.0 1244.7 L1781.0 1245.0 L1784.0 1245.3 L1787.0 1245.6 L1790.0 1246.0 L1792.2 1246.2 M1809.0 1248.1 L1812.0 1248.5 L1815.0 1248.8 L1818.0 1249.2 L1821.0 1249.6 L1824.0 1250.0 L1827.0 1250.4 L1830.0 1250.7 L1833.0 1251.1 L1835.9 1251.5 L1838.3 1251.9 M1854.8 1254.3 L1857.8 1254.7 L1860.7 1255.2 L1863.7 1255.6 L1866.7 1256.1 L1869.6 1256.6 L1873.6 1257.3 L1877.5 1257.9 L1881.5 1258.6 L1884.0 1259.1 M1900.3 1262.1 L1904.0 1262.8 L1907.9 1263.6 L1911.8 1264.4 L1915.7 1265.2 L1919.6 1266.0 L1923.5 1266.8 L1927.4 1267.6 L1929.5 1268.1 M1945.9 1271.7 L1949.7 1272.5 L1953.6 1273.4 L1957.5 1274.3 L1961.4 1275.1 L1965.3 1276.0 L1969.1 1276.9 L1973.0 1277.8 L1975.0 1278.2 M1991.4 1282.0 L1995.3 1282.8 L1999.1 1283.7 L2003.0 1284.6 L2006.9 1285.5 L2010.7 1286.3 L2014.6 1287.2 L2018.5 1288.0 L2020.4 1288.4 M2036.8 1291.9 L2039.8 1292.5 L2043.7 1293.3 L2047.6 1294.1 L2051.4 1294.9 L2055.3 1295.6 L2059.2 1296.4 L2063.1 1297.1 L2066.1 1297.7 M2082.6 1300.6 L2086.5 1301.2 L2090.5 1301.8 L2094.4 1302.4 L2098.3 1303.0 L2102.2 1303.5 L2106.2 1304.1 L2110.1 1304.6 L2111.8 1304.8 M2128.3 1306.7 L2131.9 1307.1 L2135.8 1307.4 L2139.8 1307.8 L2143.8 1308.1 L2147.8 1308.4 L2150.8 1308.6 L2153.8 1308.8 L2156.8 1309.0 L2158.0 1309.1 M2174.8 1309.9 L2177.8 1310.0 L2180.8 1310.1 L2183.8 1310.2 L2186.9 1310.3 L2189.9 1310.4 L2192.9 1310.5 L2195.9 1310.6 L2198.9 1310.6 L2202.0 1310.7 L2204.4 1310.7 M2221.1 1311.0 L2224.1 1311.0 L2227.2 1311.0 L2230.2 1311.0 L2233.2 1311.0 L2236.2 1311.0 L2239.3 1311.0 L2242.3 1311.1 L2245.3 1311.1 L2248.3 1311.1 L2251.0 1311.1 M2267.8 1311.1 L2271.5 1311.1 L2274.5 1311.1 L2277.6 1311.1 L2280.6 1311.1 L2283.6 1311.1 L2286.6 1311.1 L2289.6 1311.1 L2292.6 1311.1 L2295.6 1311.1 L2297.6 1311.2 M2314.3 1311.4 L2317.6 1311.4 L2321.6 1311.5 L2325.6 1311.6 L2329.6 1311.7 L2333.6 1311.8 L2337.5 1312.0 L2341.5 1312.1 L2344.1 1312.2 M2360.9 1313.1 L2364.1 1313.3 L2368.1 1313.6 L2372.0 1313.9 L2375.9 1314.2 L2379.1 1314.5"/>
<path id="blueA" stroke="#0072bd" d="M213.1 1300.7 L217.0 1300.3 L221.0 1299.9 L223.9 1299.5 L226.9 1299.2 L229.9 1298.8 L232.9 1298.5 L235.9 1298.1 L238.8 1297.7 L241.8 1297.3 L242.9 1297.1 M259.6 1294.4 L262.6 1293.9 L265.6 1293.4 L268.5 1292.8 L271.5 1292.2 L274.4 1291.6 L277.4 1291.0 L280.4 1290.4 L283.3 1289.8 L286.2 1289.1 L288.9 1288.5 M305.2 1284.6 L308.7 1283.7 L311.6 1282.9 L314.5 1282.1 L317.4 1281.3 L320.3 1280.5 L323.2 1279.6 L326.1 1278.8 L329.0 1277.9 L331.9 1277.0 L333.6 1276.5 M349.4 1271.2 L352.8 1270.0 L355.7 1269.0 L358.5 1268.0 L361.3 1267.0 L364.1 1265.9 L366.9 1264.8 L369.7 1263.7 L372.5 1262.6 L375.3 1261.5 L377.3 1260.7 M392.7 1254.1 L395.5 1252.9 L399.2 1251.2 L402.8 1249.5 L406.4 1247.8 L410.0 1246.1 L413.6 1244.3 L417.1 1242.5 L419.2 1241.4 M433.8 1233.6 L437.3 1231.7 L440.7 1229.7 L444.1 1227.7 L447.6 1225.7 L450.9 1223.6 L454.3 1221.5 L457.7 1219.4 L459.4 1218.3 M473.4 1209.0 L476.6 1206.8 L479.8 1204.5 L483.0 1202.2 L486.2 1199.8 L489.3 1197.5 L492.5 1195.1 L495.6 1192.6 L497.3 1191.3 M510.3 1180.6 L513.0 1178.2 L516.0 1175.6 L518.9 1173.0 L521.8 1170.3 L524.7 1167.6 L527.6 1164.9 L530.4 1162.2 L532.3 1160.4 M544.0 1148.3 L546.1 1146.0 L548.8 1143.1 L551.4 1140.1 L554.0 1137.2 L556.6 1134.2 L559.1 1131.2 L561.6 1128.1 L563.6 1125.7 M573.8 1112.3 L576.0 1109.3 L578.3 1106.1 L580.6 1102.8 L582.8 1099.6 L585.0 1096.3 L587.2 1093.0 L589.4 1089.6 L590.6 1087.7 M599.5 1073.4 L601.5 1070.1 L603.0 1067.5 L604.5 1065.0 L606.0 1062.4 L607.6 1059.8 L609.1 1057.2 L610.6 1054.5 L612.1 1051.9 L613.6 1049.3 L614.5 1047.6 M622.8 1032.9 L624.4 1030.0 L625.9 1027.4 L627.4 1024.8 L628.9 1022.1 L630.4 1019.5 L631.9 1016.9 L633.4 1014.2 L634.8 1011.6 L636.3 1009.0 L637.6 1006.8 M646.1 992.2 L648.0 989.0 L649.6 986.4 L651.1 983.9 L652.7 981.3 L654.3 978.7 L655.9 976.2 L657.5 973.6 L659.1 971.1 L660.7 968.6 L661.8 966.9 M671.3 953.0 L673.2 950.4 L675.5 947.2 L677.9 944.0 L680.3 940.8 L682.7 937.6 L685.2 934.5 L687.7 931.4 L689.4 929.4 M700.5 916.7 L702.8 914.1 L705.6 911.2 L708.3 908.2 L711.0 905.3 L713.7 902.4 L716.5 899.5 L719.2 896.6 L720.8 894.9 M732.2 882.5 L734.6 879.8 L737.2 876.8 L739.8 873.9 L742.3 870.9 L744.8 867.8 L747.2 864.8 L749.6 861.7 L751.0 859.7 M760.4 845.9 L762.0 843.1 L763.9 839.7 L765.8 836.3 L767.5 832.8 L769.1 829.3 L770.7 825.7 L772.2 822.0 L773.3 819.1 M778.6 803.2 L779.4 800.3 L780.2 797.4 L781.0 794.4 L781.7 791.5 L782.4 788.5 L783.1 785.6 L783.8 782.6 L784.4 779.6 L785.1 776.6 L785.5 774.8 M788.6 758.6 L789.2 755.6 L789.8 752.6 L790.3 749.6 L790.9 746.6 L791.4 743.6 L792.0 740.7 L792.5 737.7 L793.1 734.7 L793.6 731.7 L794.0 729.4 M796.9 712.9 L797.5 709.1 L798.2 705.1 L798.9 701.2 L799.5 697.3 L800.2 693.3 L800.8 689.4 L801.4 685.5 L801.8 683.5 M804.4 666.9 L805.0 663.0 L805.6 659.1 L806.2 655.2 L806.8 651.3 L807.4 647.4 L808.0 643.5 L808.5 639.6 L808.9 637.5 M811.3 620.9 L811.8 617.2 L812.3 613.3 L812.9 609.5 L813.4 605.6 L814.0 601.7 L814.5 597.7 L815.1 593.8 L815.4 591.3 M817.7 574.7 L818.1 571.4 L818.6 567.4 L819.2 563.5 L819.7 559.6 L820.2 555.7 L820.7 551.7 L821.2 547.8 L821.6 544.9 M823.8 528.1 L824.2 525.1 L824.7 521.1 L825.2 517.1 L825.6 514.2 L826.0 511.2 L826.4 508.2 L826.8 505.2 L827.2 502.3 L827.7 498.5 M829.9 481.8 L830.4 478.4 L830.8 475.4 L831.2 472.4 L831.6 469.4 L832.0 466.4 L832.4 463.4 L832.8 460.4 L833.2 457.5 L833.6 454.5 L834.0 452.2 M836.4 435.6 L836.8 432.6 L837.2 429.6 L837.7 426.6 L838.1 423.6 L838.6 420.7 L839.1 417.7 L839.5 414.7 L840.0 411.7 L840.5 408.7 L840.9 406.1 M843.6 389.5 L844.2 386.0 L844.7 383.0 L845.3 380.1 L846.0 376.1 L846.7 372.2 L847.4 368.3 L848.1 364.4 L848.9 360.2 M852.1 343.7 L852.9 340.0 L853.7 336.1 L854.5 332.2 L855.4 328.3 L856.2 324.5 L857.1 320.6 L857.9 316.7 L858.4 314.8 M862.3 298.8 L863.1 295.7 L864.2 291.8 L865.4 288.0 L866.3 285.1 L867.2 282.3 L868.3 279.4 L869.3 276.5 L870.5 273.6 L871.8 270.6 M882.5 257.9 L886.0 257.7 L889.0 258.5 L891.6 259.9 L894.5 262.6 L896.7 265.8 L898.1 268.5 L899.3 271.3 L900.5 274.1 L901.9 277.2 M908.0 292.9 L909.1 295.7 L910.1 298.6 L911.1 301.4 L912.0 304.3 L913.0 307.1 L913.9 310.0 L914.8 312.8 L915.7 315.7 L916.8 319.5 L917.3 321.2 M921.8 337.4 L922.7 340.7 L923.6 344.5 L924.6 348.4 L925.6 352.3 L926.5 356.2 L927.4 360.0 L928.3 363.9 L928.8 366.3 M932.5 382.7 L933.3 386.3 L934.1 390.2 L934.9 394.1 L935.8 398.0 L936.6 401.9 L937.5 405.8 L938.3 409.7 L938.8 412.0 M942.4 428.5 L943.2 432.1 L944.0 436.0 L944.9 439.9 L945.7 443.8 L946.6 447.7 L947.4 451.6 L948.3 455.5 L948.7 457.5 M952.3 473.8 L953.0 477.0 L953.9 480.9 L954.7 484.8 L955.6 488.7 L956.5 492.6 L957.4 496.5 L958.2 500.4 L958.8 503.0 M962.6 519.5 L963.3 522.8 L964.2 526.7 L965.1 530.6 L966.0 534.5 L967.0 538.4 L967.9 542.3 L968.8 546.2 L969.3 548.5 M973.2 564.9 L974.1 568.5 L975.0 572.4 L976.0 576.3 L976.9 580.2 L977.9 584.1 L978.9 588.0 L979.8 591.9 L980.3 593.8 M984.4 610.0 L985.2 613.2 L986.2 617.1 L987.2 620.9 L988.2 624.8 L989.2 628.7 L990.2 632.5 L991.2 636.4 L991.9 638.8 M996.2 655.0 L997.2 658.6 L998.3 662.5 L999.3 666.3 L1000.4 670.2 L1001.5 674.0 L1002.6 677.9 L1003.7 681.7 L1004.2 683.6 M1008.9 699.7 L1009.8 702.8 L1010.9 706.7 L1012.1 710.5 L1013.2 714.3 L1014.4 718.1 L1015.5 722.0 L1016.7 725.8 L1017.5 728.1 M1022.5 744.1 L1023.6 747.7 L1024.8 751.5 L1026.1 755.3 L1027.3 759.1 L1028.6 762.9 L1029.8 766.7 L1031.1 770.5 L1031.7 772.3 M1037.1 788.1 L1038.2 791.3 L1039.6 795.0 L1040.9 798.8 L1042.2 802.6 L1043.6 806.3 L1045.0 810.1 L1046.3 813.8 L1047.1 816.0 M1053.0 831.6 L1054.4 835.3 L1055.8 839.1 L1057.3 842.8 L1058.8 846.5 L1060.2 850.2 L1061.7 854.0 L1063.2 857.7 L1063.9 859.3 M1070.3 874.7 L1071.7 878.0 L1073.3 881.6 L1074.8 885.3 L1076.5 888.9 L1078.1 892.6 L1079.7 896.2 L1081.4 899.9 L1082.3 901.8 M1089.5 917.0 L1091.2 920.5 L1093.0 924.1 L1094.8 927.7 L1096.6 931.2 L1098.5 934.7 L1100.3 938.3 L1102.2 941.8 L1103.1 943.6 M1111.3 958.3 L1113.3 961.7 L1115.3 965.1 L1117.4 968.5 L1119.4 971.9 L1121.5 975.3 L1123.6 978.7 L1125.7 982.0 L1126.8 983.7 M1136.2 997.7 L1137.9 1000.2 L1140.2 1003.4 L1142.5 1006.6 L1144.8 1009.8 L1147.2 1013.0 L1149.6 1016.2 L1152.0 1019.4 L1153.8 1021.7 M1164.4 1034.7 L1166.5 1037.1 L1169.1 1040.1 L1171.1 1042.4 L1173.1 1044.6 L1175.1 1046.9 L1177.1 1049.1 L1179.2 1051.3 L1181.3 1053.5 L1183.3 1055.7 L1184.4 1056.8 M1196.2 1068.7 L1199.0 1071.3 L1201.2 1073.4 L1203.4 1075.4 L1205.6 1077.5 L1207.9 1079.5 L1210.1 1081.6 L1212.4 1083.6 L1214.7 1085.6 L1216.9 1087.6 L1218.3 1088.7 M1231.2 1099.4 L1234.1 1101.7 L1236.5 1103.6 L1238.9 1105.4 L1241.3 1107.3 L1243.7 1109.1 L1246.1 1110.9 L1248.6 1112.7 L1251.0 1114.5 L1253.5 1116.3 L1254.9 1117.3 M1268.8 1126.8 L1271.8 1128.8 L1274.3 1130.5 L1276.9 1132.1 L1279.4 1133.7 L1282.0 1135.3 L1284.6 1136.9 L1287.1 1138.5 L1289.7 1140.0 L1292.3 1141.6 L1294.0 1142.5 M1308.6 1150.8 L1311.5 1152.3 L1315.1 1154.2 L1318.6 1156.0 L1322.2 1157.8 L1325.7 1159.6 L1329.3 1161.3 L1332.9 1163.0 L1335.3 1164.2 M1350.6 1171.0 L1353.6 1172.3 L1357.3 1173.8 L1360.9 1175.3 L1364.6 1176.8 L1368.2 1178.2 L1371.9 1179.6 L1375.6 1181.0 L1378.3 1182.0 M1394.1 1187.6 L1397.9 1188.8 L1401.6 1190.1 L1405.3 1191.3 L1409.1 1192.4 L1412.9 1193.6 L1416.6 1194.7 L1420.4 1195.8 L1422.8 1196.5 M1439.2 1201.0 L1442.2 1201.8 L1446.1 1202.7 L1449.9 1203.7 L1453.7 1204.6 L1457.6 1205.5 L1461.4 1206.4 L1465.2 1207.3 L1468.2 1207.9 M1484.6 1211.4 L1488.5 1212.1 L1492.4 1212.9 L1496.3 1213.6 L1500.2 1214.3 L1504.1 1215.0 L1508.0 1215.7 L1511.9 1216.4 L1514.0 1216.7 M1530.5 1219.4 L1534.5 1220.0 L1538.4 1220.6 L1542.4 1221.2 L1546.3 1221.7 L1550.3 1222.3 L1554.2 1222.8 L1558.2 1223.3 L1560.0 1223.6 M1576.7 1225.7 L1580.1 1226.1 L1583.1 1226.4 L1586.0 1226.7 L1589.0 1227.1 L1592.0 1227.4 L1595.0 1227.8 L1598.0 1228.1 L1601.0 1228.4 L1604.0 1228.7 L1606.3 1229.0 M1623.0 1230.7 L1626.1 1230.9 L1629.1 1231.2 L1632.1 1231.5 L1635.1 1231.8 L1638.1 1232.1 L1641.1 1232.4 L1644.1 1232.6 L1647.1 1232.9 L1650.2 1233.2 L1653.0 1233.4 M1669.8 1234.9 L1673.3 1235.2 L1676.3 1235.5 L1679.3 1235.8 L1682.4 1236.0 L1685.4 1236.3 L1688.4 1236.5 L1691.4 1236.8 L1694.5 1237.0 L1697.5 1237.3 L1699.3 1237.5 M1715.9 1238.9 L1719.6 1239.2 L1722.7 1239.5 L1725.7 1239.7 L1728.7 1240.0 L1731.7 1240.3 L1734.7 1240.6 L1737.8 1240.8 L1740.8 1241.1 L1743.8 1241.4 L1745.6 1241.5 M1762.3 1243.1 L1765.9 1243.5 L1768.9 1243.8 L1772.0 1244.1 L1775.0 1244.4 L1778.0 1244.7 L1781.0 1245.0 L1784.0 1245.3 L1787.0 1245.6 L1790.0 1246.0 L1792.2 1246.2 M1809.0 1248.1 L1812.0 1248.5 L1815.0 1248.8 L1818.0 1249.2 L1821.0 1249.6 L1824.0 1250.0 L1827.0 1250.4 L1830.0 1250.7 L1833.0 1251.1 L1835.9 1251.5 L1838.3 1251.9 M1854.8 1254.3 L1857.8 1254.7 L1860.7 1255.2 L1863.7 1255.6 L1866.7 1256.1 L1869.6 1256.6 L1873.6 1257.3 L1877.5 1257.9 L1881.5 1258.6 L1884.0 1259.1 M1900.3 1262.1 L1904.0 1262.8 L1907.9 1263.6 L1911.8 1264.4 L1915.7 1265.2 L1919.6 1266.0 L1923.5 1266.8 L1927.4 1267.6 L1929.5 1268.1 M1945.9 1271.7 L1949.7 1272.5 L1953.6 1273.4 L1957.5 1274.3 L1961.4 1275.1 L1965.3 1276.0 L1969.1 1276.9 L1973.0 1277.8 L1975.0 1278.2 M1991.4 1282.0 L1995.3 1282.8 L1999.1 1283.7 L2003.0 1284.6 L2006.9 1285.5 L2010.7 1286.3 L2014.6 1287.2 L2018.5 1288.0 L2020.4 1288.4 M2036.8 1291.9 L2039.8 1292.5 L2043.7 1293.3 L2047.6 1294.1 L2051.4 1294.9 L2055.3 1295.6 L2059.2 1296.4 L2063.1 1297.1 L2066.1 1297.7 M2082.6 1300.6 L2086.5 1301.2 L2090.5 1301.8 L2094.4 1302.4 L2098.3 1303.0 L2102.2 1303.5 L2106.2 1304.1 L2110.1 1304.6 L2111.8 1304.8 M2128.3 1306.7 L2131.9 1307.1 L2135.8 1307.4 L2139.8 1307.8 L2143.8 1308.1 L2147.8 1308.4 L2150.8 1308.6 L2153.8 1308.8 L2156.8 1309.0 L2158.0 1309.1 M2174.8 1309.9 L2177.8 1310.0 L2180.8 1310.1 L2183.8 1310.2 L2186.9 1310.3 L2189.9 1310.4 L2192.9 1310.5 L2195.9 1310.6 L2198.9 1310.6 L2202.0 1310.7 L2204.4 1310.7 M2221.1 1311.0 L2224.1 1311.0 L2227.2 1311.0 L2230.2 1311.0 L2233.2 1311.0 L2236.2 1311.0 L2239.3 1311.0 L2242.3 1311.1 L2245.3 1311.1 L2248.3 1311.1 L2251.0 1311.1 M2267.8 1311.1 L2271.5 1311.1 L2274.5 1311.1 L2277.6 1311.1 L2280.6 1311.1 L2283.6 1311.1 L2286.6 1311.1 L2289.6 1311.1 L2292.6 1311.1 L2295.6 1311.1 L2297.6 1311.2 M2314.3 1311.4 L2317.6 1311.4 L2321.6 1311.5 L2325.6 1311.6 L2329.6 1311.7 L2333.6 1311.8 L2337.5 1312.0 L2341.5 1312.1 L2344.1 1312.2 M2360.9 1313.1 L2364.1 1313.3 L2368.1 1313.6 L2372.0 1313.9 L2375.9 1314.2 L2379.1 1314.5"/>
<path stroke="#a2142f" stroke-width="3.8000000000000003" shape-rendering="geometricPrecision" d="M178.9 1317.0 L181.4 1316.7 L183.8 1316.3 L186.2 1315.9 L188.6 1315.6 L191.0 1315.2 L193.5 1314.9 L195.9 1314.6 L198.3 1314.2 L200.8 1313.9 L203.2 1313.5 L205.6 1313.2 L208.1 1312.9 L210.5 1312.5 L213.0 1312.2 L215.4 1311.8 L217.9 1311.5 L220.3 1311.2 L222.8 1310.8 L225.3 1310.5 L227.7 1310.2 L230.2 1309.8 L232.7 1309.5 L235.1 1309.2 L237.6 1308.8 L240.1 1308.5 L242.6 1308.2 L245.0 1307.8 L247.5 1307.5 L250.0 1307.2 L252.5 1306.8 L254.9 1306.5 L257.4 1306.1 L259.9 1305.8 L262.4 1305.4 L264.9 1305.1 L267.4 1304.7 L269.9 1304.4 L272.3 1304.0 L274.8 1303.7 L277.3 1303.3 L279.8 1302.9 L282.3 1302.6 L284.8 1302.2 L287.3 1301.8 L289.8 1301.4 L292.3 1301.1 L294.7 1300.7 L297.2 1300.3 L299.7 1299.9 L302.2 1299.5 L304.7 1299.1 L307.2 1298.7 L309.7 1298.3 L312.2 1297.8 L314.6 1297.4 L317.1 1297.0 L319.6 1296.5 L322.1 1296.1 L324.6 1295.7 L327.0 1295.2 L329.5 1294.7 L332.0 1294.3 L334.5 1293.8 L336.9 1293.3 L339.4 1292.8 L341.9 1292.4 L344.3 1291.9 L346.8 1291.3 L349.3 1290.8 L351.7 1290.3 L354.2 1289.8 L356.6 1289.3 L359.1 1288.7 L361.6 1288.2 L364.0 1287.6 L366.4 1287.0 L368.9 1286.5 L371.3 1285.9 L373.8 1285.3 L376.2 1284.7 L378.6 1284.1 L381.1 1283.4 L383.5 1282.8 L385.9 1282.2 L388.3 1281.5 L390.7 1280.9 L393.1 1280.2 L395.5 1279.5 L397.9 1278.8 L400.3 1278.1 L402.7 1277.4 L405.1 1276.7 L407.5 1276.0 L409.9 1275.2 L412.3 1274.5 L414.6 1273.7 L417.0 1272.9 L419.4 1272.1 L421.7 1271.3 L424.1 1270.5 L426.4 1269.7 L428.8 1268.9 L431.1 1268.0 L433.4 1267.1 L435.8 1266.3 L438.1 1265.4 L440.4 1264.5 L442.7 1263.6 L445.0 1262.6 L447.3 1261.7 L449.6 1260.7 L451.9 1259.8 L454.2 1258.8 L456.5 1257.8 L458.7 1256.8 L461.0 1255.8 L463.3 1254.7 L465.5 1253.7 L467.8 1252.6 L470.0 1251.5 L472.2 1250.5 L474.5 1249.3 L476.7 1248.2 L478.9 1247.1 L481.1 1245.9 L483.3 1244.8 L485.5 1243.6 L487.7 1242.4 L489.9 1241.2 L492.0 1240.0 L494.2 1238.8 L496.4 1237.5 L498.5 1236.3 L500.7 1235.0 L502.8 1233.8 L504.9 1232.5 L507.1 1231.2 L509.2 1229.8 L511.3 1228.5 L513.4 1227.2 L515.5 1225.8 L517.6 1224.5 L519.7 1223.1 L521.7 1221.7 L523.8 1220.3 L525.8 1218.9 L527.9 1217.4 L529.9 1216.0 L532.0 1214.6 L534.0 1213.1 L536.0 1211.6 L538.0 1210.1 L540.0 1208.6 L542.0 1207.1 L544.0 1205.6 L546.0 1204.1 L547.9 1202.5 L549.9 1201.0 L551.9 1199.4 L553.8 1197.8 L555.7 1196.2 L557.7 1194.6 L559.6 1193.0 L561.5 1191.4 L563.4 1189.8 L565.3 1188.1 L567.2 1186.5 L569.0 1184.8 L570.9 1183.2 L572.8 1181.5 L574.6 1179.8 L576.4 1178.1 L578.3 1176.4 L580.1 1174.6 L581.9 1172.9 L583.7 1171.2 L585.5 1169.4 L587.3 1167.6 L589.1 1165.9 L590.8 1164.1 L592.6 1162.3 L594.3 1160.5 L596.1 1158.7 L597.8 1156.8 L599.5 1155.0 L601.2 1153.2 L602.9 1151.3 L604.6 1149.5 L606.3 1147.6 L607.9 1145.7 L609.6 1143.8 L611.3 1141.9 L612.9 1140.0 L614.5 1138.1 L616.2 1136.2 L617.8 1134.3 L619.4 1132.4 L621.0 1130.4 L622.6 1128.5 L624.2 1126.6 L625.8 1124.6 L627.4 1122.7 L629.0 1120.7 L630.6 1118.8 L632.2 1116.9 L633.8 1114.9 L635.4 1113.0 L636.9 1111.0 L638.5 1109.1 L640.1 1107.1 L641.7 1105.2 L643.2 1103.2 L644.8 1101.3 L646.4 1099.3 L648.0 1097.4 L649.5 1095.4 L651.1 1093.5 L652.7 1091.6 L654.3 1089.7 L655.9 1087.7 L657.5 1085.8 L659.1 1083.9 L660.7 1082.0 L662.3 1080.1 L663.9 1078.2 L665.5 1076.3 L667.1 1074.5 L668.8 1072.6 L670.4 1070.8 L672.1 1068.9 L673.7 1067.1 L675.4 1065.2 L677.0 1063.4 L678.7 1061.6 L680.4 1059.8 L682.1 1058.1 L683.8 1056.3 L685.5 1054.5 L687.2 1052.8 L689.0 1051.1 L690.7 1049.4 L692.5 1047.7 L694.3 1046.0 L696.1 1044.3 L697.9 1042.7 L699.7 1041.0 L701.5 1039.4 L703.4 1037.8 L705.2 1036.2 L707.1 1034.7 L709.0 1033.1 L710.9 1031.6 L712.8 1030.1 L714.7 1028.6 L716.7 1027.1 L718.7 1025.7 L720.7 1024.3 L722.7 1022.8 L724.7 1021.4 L726.7 1020.1 L728.7 1018.7 L730.8 1017.3 L732.8 1015.9 L734.9 1014.6 L736.9 1013.2 L738.9 1011.8 L740.9 1010.4 L743.0 1009.1 L745.0 1007.6 L746.9 1006.2 L748.9 1004.8 L750.8 1003.3 L752.8 1001.8 L754.7 1000.3 L756.5 998.7 L758.4 997.1 L760.2 995.5 L761.9 993.9 L763.7 992.2 L765.4 990.4 L767.0 988.6 L768.6 986.8 L770.2 984.9 L771.8 983.0 L773.3 981.1 L774.8 979.1 L776.2 977.1 L777.6 975.1 L779.0 973.1 L780.4 971.0 L781.7 968.9 L783.0 966.8 L784.3 964.7 L785.6 962.6 L786.8 960.4 L788.0 958.3 L789.2 956.1 L790.4 953.9 L791.5 951.7 L792.6 949.5 L793.7 947.3 L794.8 945.1 L795.9 942.9 L796.9 940.6 L798.0 938.4 L799.0 936.1 L800.0 933.9 L801.0 931.6 L801.9 929.3 L802.9 927.0 L803.8 924.7 L804.7 922.4 L805.6 920.1 L806.5 917.8 L807.3 915.5 L808.2 913.2 L809.0 910.8 L809.9 908.5 L810.7 906.1 L811.5 903.8 L812.3 901.4 L813.1 899.1 L813.8 896.7 L814.6 894.3 L815.3 891.9 L816.1 889.5 L816.8 887.2 L817.5 884.8 L818.3 882.4 L819.0 880.0 L819.7 877.6 L820.4 875.2 L821.1 872.7 L821.7 870.3 L822.4 867.9 L823.1 865.5 L823.8 863.1 L824.4 860.6 L825.1 858.2 L825.8 855.8 L826.4 853.4 L827.1 850.9 L827.7 848.5 L828.4 846.1 L829.0 843.7 L829.7 841.2 L830.3 838.8 L831.0 836.4 L831.6 833.9 L832.3 831.5 L832.9 829.1 L833.6 826.6 L834.2 824.2 L834.9 821.8 L835.5 819.3 L836.2 816.9 L836.8 814.5 L837.5 812.0 L838.1 809.6 L838.8 807.2 L839.4 804.7 L840.1 802.3 L840.7 799.9 L841.4 797.5 L842.1 795.0 L842.7 792.6 L843.4 790.2 L844.0 787.8 L844.7 785.3 L845.3 782.9 L846.0 780.5 L846.7 778.1 L847.3 775.7 L848.0 773.2 L848.7 770.8 L849.3 768.4 L850.0 766.0 L850.7 763.6 L851.3 761.2 L852.0 758.8 L852.7 756.4 L853.3 754.0 L854.0 751.5 L854.7 749.1 L855.4 746.7 L856.0 744.3 L856.7 742.0 L857.4 739.6 L858.1 737.2 L858.8 734.8 L859.5 732.4 L860.2 730.0 L860.8 727.6 L861.5 725.3 L862.2 722.9 L862.9 720.5 L863.6 718.1 L864.3 715.8 L865.0 713.4 L865.8 711.0 L866.5 708.7 L867.2 706.3 L867.9 704.0 L868.6 701.6 L869.3 699.3 L870.0 696.9 L870.8 694.6 L871.5 692.2 L872.2 689.9 L873.0 687.6 L873.7 685.2 L874.4 682.9 L875.2 680.5 L875.9 678.2 L876.7 675.8 L877.5 673.5 L878.2 671.1 L879.0 668.7 L879.8 666.3 L880.6 663.9 L881.4 661.5 L882.2 659.1 L883.0 656.6 L883.8 654.2 L884.7 651.8 L885.6 649.3 L886.6 647.0 L887.6 644.6 L888.7 642.3 L889.9 640.1 L891.2 637.9 L892.5 635.8 L894.0 633.8 L895.5 631.9 L897.2 630.1 L899.0 628.3 L900.9 626.8 L903.0 625.4 L905.1 624.5 L907.4 623.9 L909.6 623.9 L911.9 624.5 L914.0 625.4 L916.0 626.8 L918.0 628.4 L919.8 630.3 L921.5 632.3 L923.1 634.5 L924.6 636.6 L926.0 638.7 L927.4 640.9 L928.7 643.1 L929.9 645.4 L931.1 647.6 L932.2 649.8 L933.2 652.1 L934.2 654.4 L935.2 656.7 L936.1 659.0 L937.0 661.3 L937.9 663.6 L938.8 665.9 L939.7 668.3 L940.5 670.6 L941.4 672.9 L942.3 675.2 L943.1 677.6 L944.0 679.9 L944.8 682.2 L945.7 684.6 L946.5 686.9 L947.3 689.3 L948.2 691.6 L949.0 693.9 L949.8 696.3 L950.7 698.6 L951.5 701.0 L952.3 703.3 L953.1 705.7 L954.0 708.0 L954.8 710.4 L955.6 712.8 L956.4 715.1 L957.2 717.5 L958.0 719.8 L958.8 722.2 L959.6 724.6 L960.4 726.9 L961.2 729.3 L962.0 731.6 L962.8 734.0 L963.6 736.4 L964.4 738.7 L965.2 741.1 L966.0 743.5 L966.8 745.9 L967.6 748.2 L968.4 750.6 L969.2 753.0 L970.0 755.3 L970.8 757.7 L971.6 760.1 L972.4 762.5 L973.2 764.8 L973.9 767.2 L974.7 769.6 L975.5 772.0 L976.3 774.3 L977.1 776.7 L977.9 779.1 L978.7 781.5 L979.5 783.8 L980.3 786.2 L981.1 788.6 L981.9 791.0 L982.7 793.3 L983.5 795.7 L984.3 798.1 L985.1 800.5 L985.9 802.8 L986.7 805.2 L987.5 807.6 L988.3 809.9 L989.1 812.3 L989.9 814.7 L990.7 817.1 L991.5 819.4 L992.3 821.8 L993.1 824.2 L994.0 826.5 L994.8 828.9 L995.6 831.3 L996.4 833.6 L997.3 836.0 L998.1 838.4 L998.9 840.7 L999.8 843.1 L1000.6 845.4 L1001.5 847.8 L1002.3 850.1 L1003.1 852.5 L1004.0 854.9 L1004.9 857.2 L1005.7 859.6 L1006.6 861.9 L1007.4 864.3 L1008.3 866.6 L1009.2 868.9 L1010.1 871.3 L1010.9 873.6 L1011.8 876.0 L1012.7 878.3 L1013.6 880.6 L1014.5 883.0 L1015.4 885.3 L1016.3 887.6 L1017.2 890.0 L1018.2 892.3 L1019.1 894.6 L1020.0 896.9 L1020.9 899.3 L1021.9 901.6 L1022.8 903.9 L1023.8 906.2 L1024.7 908.5 L1025.7 910.8 L1026.6 913.1 L1027.6 915.4 L1028.6 917.7 L1029.6 920.0 L1030.6 922.3 L1031.5 924.6 L1032.5 926.9 L1033.6 929.2 L1034.6 931.5 L1035.6 933.8 L1036.6 936.1 L1037.6 938.3 L1038.7 940.6 L1039.7 942.9 L1040.8 945.1 L1041.8 947.4 L1042.9 949.7 L1044.0 951.9 L1045.0 954.2 L1046.1 956.4 L1047.2 958.7 L1048.3 960.9 L1049.4 963.2 L1050.5 965.4 L1051.7 967.6 L1052.8 969.8 L1053.9 972.1 L1055.1 974.3 L1056.2 976.5 L1057.4 978.7 L1058.6 980.9 L1059.8 983.1 L1060.9 985.3 L1062.1 987.5 L1063.3 989.7 L1064.5 991.9 L1065.8 994.0 L1067.0 996.2 L1068.2 998.4 L1069.5 1000.5 L1070.7 1002.7 L1072.0 1004.8 L1073.3 1007.0 L1074.6 1009.1 L1075.9 1011.2 L1077.2 1013.3 L1078.5 1015.5 L1079.8 1017.6 L1081.1 1019.7 L1082.5 1021.8 L1083.8 1023.8 L1085.2 1025.9 L1086.5 1028.0 L1087.9 1030.1 L1089.3 1032.1 L1090.7 1034.2 L1092.1 1036.2 L1093.5 1038.2 L1095.0 1040.2 L1096.4 1042.3 L1097.8 1044.3 L1099.3 1046.3 L1100.8 1048.3 L1102.3 1050.2 L1103.8 1052.2 L1105.3 1054.2 L1106.8 1056.1 L1108.3 1058.1 L1109.8 1060.0 L1111.4 1061.9 L1112.9 1063.8 L1114.5 1065.7 L1116.1 1067.6 L1117.7 1069.5 L1119.3 1071.4 L1120.9 1073.3 L1122.5 1075.1 L1124.2 1077.0 L1125.8 1078.8 L1127.5 1080.6 L1129.2 1082.4 L1130.9 1084.2 L1132.6 1086.0 L1134.3 1087.8 L1136.0 1089.6 L1137.7 1091.3 L1139.5 1093.1 L1141.2 1094.8 L1143.0 1096.6 L1144.8 1098.3 L1146.6 1100.0 L1148.4 1101.7 L1150.2 1103.4 L1152.0 1105.0 L1153.8 1106.7 L1155.6 1108.4 L1157.5 1110.0 L1159.4 1111.6 L1161.2 1113.3 L1163.1 1114.9 L1165.0 1116.5 L1166.9 1118.1 L1168.8 1119.7 L1170.7 1121.2 L1172.6 1122.8 L1174.6 1124.4 L1176.5 1125.9 L1178.5 1127.4 L1180.4 1128.9 L1182.4 1130.5 L1184.4 1132.0 L1186.4 1133.5 L1188.4 1134.9 L1190.4 1136.4 L1192.4 1137.9 L1194.4 1139.3 L1196.5 1140.8 L1198.5 1142.2 L1200.5 1143.6 L1202.6 1145.0 L1204.7 1146.4 L1206.7 1147.8 L1208.8 1149.2 L1210.9 1150.6 L1213.0 1152.0 L1215.1 1153.3 L1217.2 1154.6 L1219.3 1156.0 L1221.4 1157.3 L1223.5 1158.6 L1225.7 1159.9 L1227.8 1161.2 L1230.0 1162.5 L1232.1 1163.8 L1234.3 1165.0 L1236.4 1166.3 L1238.6 1167.6 L1240.8 1168.8 L1243.0 1170.0 L1245.2 1171.2 L1247.4 1172.4 L1249.6 1173.6 L1251.8 1174.8 L1254.0 1176.0 L1256.2 1177.2 L1258.4 1178.3 L1260.6 1179.5 L1262.9 1180.6 L1265.1 1181.8 L1267.3 1182.9 L1269.6 1184.0 L1271.8 1185.1 L1274.1 1186.2 L1276.4 1187.3 L1278.6 1188.4 L1280.9 1189.4 L1283.2 1190.5 L1285.4 1191.5 L1287.7 1192.6 L1290.0 1193.6 L1292.3 1194.6 L1294.6 1195.6 L1296.9 1196.6 L1299.2 1197.6 L1301.5 1198.6 L1303.8 1199.6 L1306.1 1200.5 L1308.4 1201.5 L1310.7 1202.5 L1313.0 1203.4 L1315.3 1204.3 L1317.7 1205.2 L1320.0 1206.2 L1322.3 1207.1 L1324.7 1208.0 L1327.0 1208.8 L1329.3 1209.7 L1331.7 1210.6 L1334.0 1211.4 L1336.4 1212.3 L1338.7 1213.1 L1341.1 1214.0 L1343.4 1214.8 L1345.8 1215.6 L1348.2 1216.4 L1350.5 1217.2 L1352.9 1218.0 L1355.3 1218.8 L1357.6 1219.6 L1360.0 1220.3 L1362.4 1221.1 L1364.8 1221.9 L1367.2 1222.6 L1369.6 1223.3 L1371.9 1224.1 L1374.3 1224.8 L1376.7 1225.5 L1379.1 1226.2 L1381.5 1226.9 L1383.9 1227.6 L1386.3 1228.3 L1388.7 1228.9 L1391.1 1229.6 L1393.6 1230.3 L1396.0 1230.9 L1398.4 1231.5 L1400.8 1232.2 L1403.2 1232.8 L1405.7 1233.4 L1408.1 1234.0 L1410.5 1234.6 L1412.9 1235.2 L1415.4 1235.8 L1417.8 1236.4 L1420.2 1237.0 L1422.7 1237.6 L1425.1 1238.1 L1427.5 1238.7 L1430.0 1239.2 L1432.4 1239.8 L1434.9 1240.3 L1437.3 1240.8 L1439.8 1241.3 L1442.2 1241.8 L1444.7 1242.3 L1447.1 1242.8 L1449.6 1243.3 L1452.0 1243.8 L1454.5 1244.3 L1457.0 1244.8 L1459.4 1245.2 L1461.9 1245.7 L1464.3 1246.1 L1466.8 1246.6 L1469.3 1247.0 L1471.7 1247.5 L1474.2 1247.9 L1476.7 1248.3 L1479.2 1248.7 L1481.6 1249.1 L1484.1 1249.5 L1486.6 1249.9 L1489.1 1250.3 L1491.5 1250.7 L1494.0 1251.0 L1496.5 1251.4 L1499.0 1251.8 L1501.5 1252.1 L1503.9 1252.5 L1506.4 1252.8 L1508.9 1253.2 L1511.4 1253.5 L1513.9 1253.8 L1516.4 1254.1 L1518.9 1254.5 L1521.4 1254.8 L1523.8 1255.1 L1526.3 1255.4 L1528.8 1255.7 L1531.3 1256.0 L1533.8 1256.2 L1536.3 1256.5 L1538.8 1256.8 L1541.3 1257.0 L1543.8 1257.3 L1546.3 1257.6 L1548.8 1257.8 L1551.3 1258.1 L1553.8 1258.3 L1556.3 1258.5 L1558.8 1258.8 L1561.3 1259.0 L1563.8 1259.2 L1566.3 1259.4 L1568.7 1259.6 L1571.2 1259.8 L1573.7 1260.0 L1576.2 1260.2 L1578.7 1260.4 L1581.2 1260.6 L1583.7 1260.8 L1586.2 1260.9 L1588.7 1261.1 L1591.2 1261.3 L1593.7 1261.4 L1596.2 1261.6 L1598.7 1261.7 L1601.2 1261.9 L1603.7 1262.0 L1606.2 1262.2 L1608.7 1262.3 L1611.2 1262.5 L1613.7 1262.6 L1616.2 1262.7 L1618.7 1262.8 L1621.2 1263.0 L1623.7 1263.1 L1626.2 1263.2 L1628.7 1263.3 L1631.2 1263.4 L1633.7 1263.5 L1636.2 1263.6 L1638.7 1263.7 L1641.2 1263.8 L1643.7 1263.9 L1646.2 1264.0 L1648.7 1264.1 L1651.2 1264.2 L1653.7 1264.3 L1656.2 1264.4 L1658.7 1264.5 L1661.2 1264.6 L1663.7 1264.6 L1666.2 1264.7 L1668.7 1264.8 L1671.2 1264.9 L1673.7 1265.0 L1676.2 1265.0 L1678.7 1265.1 L1681.2 1265.2 L1683.7 1265.3 L1686.2 1265.3 L1688.7 1265.4 L1691.2 1265.5 L1693.7 1265.6 L1696.2 1265.6 L1698.7 1265.7 L1701.2 1265.8 L1703.7 1265.8 L1706.2 1265.9 L1708.7 1266.0 L1711.2 1266.0 L1713.7 1266.1 L1716.2 1266.2 L1718.7 1266.3 L1721.2 1266.3 L1723.7 1266.4 L1726.2 1266.5 L1728.7 1266.6 L1731.2 1266.6 L1733.7 1266.7 L1736.2 1266.8 L1738.7 1266.9 L1741.2 1266.9 L1743.7 1267.0 L1746.2 1267.1 L1748.7 1267.2 L1751.2 1267.3 L1753.7 1267.4 L1756.2 1267.5 L1758.7 1267.6 L1761.2 1267.6 L1763.7 1267.7 L1766.1 1267.8 L1768.6 1267.9 L1771.1 1268.0 L1773.6 1268.2 L1776.1 1268.3 L1778.6 1268.4 L1781.1 1268.5 L1783.6 1268.6 L1786.1 1268.7 L1788.6 1268.9 L1791.1 1269.0 L1793.6 1269.1 L1796.1 1269.2 L1798.5 1269.4 L1801.0 1269.5 L1803.5 1269.7 L1806.0 1269.8 L1808.5 1270.0 L1811.0 1270.1 L1813.5 1270.3 L1816.0 1270.4 L1818.5 1270.6 L1820.9 1270.8 L1823.4 1271.0 L1825.9 1271.1 L1828.4 1271.3 L1830.9 1271.5 L1833.4 1271.7 L1835.9 1271.9 L1838.3 1272.1 L1840.8 1272.3 L1843.3 1272.5 L1845.8 1272.8 L1848.3 1273.0 L1850.8 1273.2 L1853.2 1273.5 L1855.7 1273.7 L1858.2 1273.9 L1860.7 1274.2 L1863.2 1274.5 L1865.6 1274.7 L1868.1 1275.0 L1870.6 1275.3 L1873.1 1275.6 L1875.6 1275.9 L1878.0 1276.2 L1880.5 1276.5 L1883.0 1276.8 L1885.5 1277.1 L1887.9 1277.4 L1890.4 1277.7 L1892.9 1278.1 L1895.4 1278.4 L1897.8 1278.8 L1900.3 1279.1 L1902.8 1279.5 L1905.3 1279.8 L1907.7 1280.2 L1910.2 1280.6 L1912.7 1281.0 L1915.1 1281.4 L1917.6 1281.7 L1920.1 1282.1 L1922.5 1282.5 L1925.0 1282.9 L1927.5 1283.4 L1930.0 1283.8 L1932.4 1284.2 L1934.9 1284.6 L1937.4 1285.0 L1939.8 1285.5 L1942.3 1285.9 L1944.8 1286.3 L1947.2 1286.8 L1949.7 1287.2 L1952.2 1287.6 L1954.6 1288.1 L1957.1 1288.5 L1959.6 1289.0 L1962.0 1289.4 L1964.5 1289.9 L1966.9 1290.3 L1969.4 1290.8 L1971.9 1291.3 L1974.3 1291.7 L1976.8 1292.2 L1979.3 1292.6 L1981.7 1293.1 L1984.2 1293.6 L1986.7 1294.0 L1989.1 1294.5 L1991.6 1295.0 L1994.1 1295.4 L1996.5 1295.9 L1999.0 1296.4 L2001.4 1296.8 L2003.9 1297.3 L2006.4 1297.7 L2008.8 1298.2 L2011.3 1298.7 L2013.8 1299.1 L2016.2 1299.6 L2018.7 1300.1 L2021.2 1300.5 L2023.6 1301.0 L2026.1 1301.4 L2028.5 1301.9 L2031.0 1302.3 L2033.5 1302.8 L2035.9 1303.2 L2038.4 1303.7 L2040.9 1304.1 L2043.3 1304.5 L2045.8 1305.0 L2048.3 1305.4 L2050.7 1305.8 L2053.2 1306.3 L2055.7 1306.7 L2058.1 1307.1 L2060.6 1307.5 L2063.1 1307.9 L2065.5 1308.3 L2068.0 1308.8 L2070.5 1309.2 L2072.9 1309.5 L2075.4 1309.9 L2077.9 1310.3 L2080.3 1310.7 L2082.8 1311.1 L2085.3 1311.4 L2087.7 1311.8 L2090.2 1312.2 L2092.7 1312.5 L2095.1 1312.9 L2097.6 1313.2 L2100.1 1313.5 L2102.6 1313.9 L2105.0 1314.2 L2107.5 1314.5 L2110.0 1314.8 L2112.5 1315.1 L2114.9 1315.4 L2117.4 1315.7 L2119.9 1316.0 L2122.4 1316.3 L2124.8 1316.5 L2127.3 1316.8 L2129.8 1317.0 L2132.3 1317.3 L2134.7 1317.5 L2137.2 1317.7 L2139.7 1318.0 L2142.2 1318.2 L2144.6 1318.4 L2147.1 1318.6 L2149.6 1318.7 L2152.1 1318.9 L2154.6 1319.1 L2157.1 1319.2 L2159.5 1319.4 L2162.0 1319.5 L2164.5 1319.6 L2167.0 1319.7 L2169.5 1319.8 L2172.0 1319.9 L2174.5 1320.0 L2176.9 1320.1 L2179.4 1320.2 L2181.9 1320.2 L2184.4 1320.3 L2186.9 1320.3 L2189.4 1320.4 L2191.9 1320.4 L2194.4 1320.4 L2196.9 1320.4 L2199.4 1320.4 L2201.8 1320.4 L2204.3 1320.4 L2206.8 1320.4 L2209.3 1320.4 L2211.8 1320.4 L2214.3 1320.4 L2216.8 1320.3 L2219.3 1320.3 L2221.8 1320.2 L2224.3 1320.2 L2226.8 1320.1 L2229.3 1320.1 L2231.8 1320.0 L2234.3 1320.0 L2236.8 1319.9 L2239.3 1319.8 L2241.8 1319.7 L2244.3 1319.7 L2246.8 1319.6 L2249.3 1319.5 L2251.8 1319.4 L2254.3 1319.3 L2256.8 1319.2 L2259.3 1319.2 L2261.8 1319.1 L2264.3 1319.0 L2266.8 1318.9 L2269.3 1318.8 L2271.8 1318.7 L2274.3 1318.6 L2276.8 1318.5 L2279.3 1318.4 L2281.8 1318.3 L2284.3 1318.2 L2286.8 1318.2 L2289.3 1318.1 L2291.8 1318.0 L2294.3 1317.9 L2296.8 1317.8 L2299.3 1317.7 L2301.8 1317.7 L2304.3 1317.6 L2306.8 1317.5 L2309.3 1317.4 L2311.8 1317.4 L2314.3 1317.3 L2316.8 1317.2 L2319.3 1317.2 L2321.8 1317.1 L2324.3 1317.1 L2326.8 1317.1 L2329.3 1317.0 L2331.8 1317.0 L2334.3 1317.0 L2336.8 1316.9 L2339.3 1316.9 L2341.8 1316.9 L2344.3 1316.9 L2346.8 1316.9 L2349.3 1316.9 L2351.8 1316.9 L2354.3 1317.0 L2356.8 1317.0 L2359.3 1317.0 L2361.8 1317.1 L2364.3 1317.1 L2366.8 1317.2 L2369.3 1317.3 L2371.8 1317.4 L2374.3 1317.5 L2376.8 1317.6 L2379.2 1317.7 L2379.5 1317.7"/>
<path id="redB" stroke="#a2142f" d="M178.9 1317.0 L181.4 1316.7 L183.8 1316.3 L186.2 1315.9 L188.6 1315.6 L191.0 1315.2 L193.5 1314.9 L195.9 1314.6 L198.3 1314.2 L200.8 1313.9 L203.2 1313.5 L205.6 1313.2 L208.1 1312.9 L210.5 1312.5 L213.0 1312.2 L215.4 1311.8 L217.9 1311.5 L220.3 1311.2 L222.8 1310.8 L225.3 1310.5 L227.7 1310.2 L230.2 1309.8 L232.7 1309.5 L235.1 1309.2 L237.6 1308.8 L240.1 1308.5 L242.6 1308.2 L245.0 1307.8 L247.5 1307.5 L250.0 1307.2 L252.5 1306.8 L254.9 1306.5 L257.4 1306.1 L259.9 1305.8 L262.4 1305.4 L264.9 1305.1 L267.4 1304.7 L269.9 1304.4 L272.3 1304.0 L274.8 1303.7 L277.3 1303.3 L279.8 1302.9 L282.3 1302.6 L284.8 1302.2 L287.3 1301.8 L289.8 1301.4 L292.3 1301.1 L294.7 1300.7 L297.2 1300.3 L299.7 1299.9 L302.2 1299.5 L304.7 1299.1 L307.2 1298.7 L309.7 1298.3 L312.2 1297.8 L314.6 1297.4 L317.1 1297.0 L319.6 1296.5 L322.1 1296.1 L324.6 1295.7 L327.0 1295.2 L329.5 1294.7 L332.0 1294.3 L334.5 1293.8 L336.9 1293.3 L339.4 1292.8 L341.9 1292.4 L344.3 1291.9 L346.8 1291.3 L349.3 1290.8 L351.7 1290.3 L354.2 1289.8 L356.6 1289.3 L359.1 1288.7 L361.6 1288.2 L364.0 1287.6 L366.4 1287.0 L368.9 1286.5 L371.3 1285.9 L373.8 1285.3 L376.2 1284.7 L378.6 1284.1 L381.1 1283.4 L383.5 1282.8 L385.9 1282.2 L388.3 1281.5 L390.7 1280.9 L393.1 1280.2 L395.5 1279.5 L397.9 1278.8 L400.3 1278.1 L402.7 1277.4 L405.1 1276.7 L407.5 1276.0 L409.9 1275.2 L412.3 1274.5 L414.6 1273.7 L417.0 1272.9 L419.4 1272.1 L421.7 1271.3 L424.1 1270.5 L426.4 1269.7 L428.8 1268.9 L431.1 1268.0 L433.4 1267.1 L435.8 1266.3 L438.1 1265.4 L440.4 1264.5 L442.7 1263.6 L445.0 1262.6 L447.3 1261.7 L449.6 1260.7 L451.9 1259.8 L454.2 1258.8 L456.5 1257.8 L458.7 1256.8 L461.0 1255.8 L463.3 1254.7 L465.5 1253.7 L467.8 1252.6 L470.0 1251.5 L472.2 1250.5 L474.5 1249.3 L476.7 1248.2 L478.9 1247.1 L481.1 1245.9 L483.3 1244.8 L485.5 1243.6 L487.7 1242.4 L489.9 1241.2 L492.0 1240.0 L494.2 1238.8 L496.4 1237.5 L498.5 1236.3 L500.7 1235.0 L502.8 1233.8 L504.9 1232.5 L507.1 1231.2 L509.2 1229.8 L511.3 1228.5 L513.4 1227.2 L515.5 1225.8 L517.6 1224.5 L519.7 1223.1 L521.7 1221.7 L523.8 1220.3 L525.8 1218.9 L527.9 1217.4 L529.9 1216.0 L532.0 1214.6 L534.0 1213.1 L536.0 1211.6 L538.0 1210.1 L540.0 1208.6 L542.0 1207.1 L544.0 1205.6 L546.0 1204.1 L547.9 1202.5 L549.9 1201.0 L551.9 1199.4 L553.8 1197.8 L555.7 1196.2 L557.7 1194.6 L559.6 1193.0 L561.5 1191.4 L563.4 1189.8 L565.3 1188.1 L567.2 1186.5 L569.0 1184.8 L570.9 1183.2 L572.8 1181.5 L574.6 1179.8 L576.4 1178.1 L578.3 1176.4 L580.1 1174.6 L581.9 1172.9 L583.7 1171.2 L585.5 1169.4 L587.3 1167.6 L589.1 1165.9 L590.8 1164.1 L592.6 1162.3 L594.3 1160.5 L596.1 1158.7 L597.8 1156.8 L599.5 1155.0 L601.2 1153.2 L602.9 1151.3 L604.6 1149.5 L606.3 1147.6 L607.9 1145.7 L609.6 1143.8 L611.3 1141.9 L612.9 1140.0 L614.5 1138.1 L616.2 1136.2 L617.8 1134.3 L619.4 1132.4 L621.0 1130.4 L622.6 1128.5 L624.2 1126.6 L625.8 1124.6 L627.4 1122.7 L629.0 1120.7 L630.6 1118.8 L632.2 1116.9 L633.8 1114.9 L635.4 1113.0 L636.9 1111.0 L638.5 1109.1 L640.1 1107.1 L641.7 1105.2 L643.2 1103.2 L644.8 1101.3 L646.4 1099.3 L648.0 1097.4 L649.5 1095.4 L651.1 1093.5 L652.7 1091.6 L654.3 1089.7 L655.9 1087.7 L657.5 1085.8 L659.1 1083.9 L660.7 1082.0 L662.3 1080.1 L663.9 1078.2 L665.5 1076.3 L667.1 1074.5 L668.8 1072.6 L670.4 1070.8 L672.1 1068.9 L673.7 1067.1 L675.4 1065.2 L677.0 1063.4 L678.7 1061.6 L680.4 1059.8 L682.1 1058.1 L683.8 1056.3 L685.5 1054.5 L687.2 1052.8 L689.0 1051.1 L690.7 1049.4 L692.5 1047.7 L694.3 1046.0 L696.1 1044.3 L697.9 1042.7 L699.7 1041.0 L701.5 1039.4 L703.4 1037.8 L705.2 1036.2 L707.1 1034.7 L709.0 1033.1 L710.9 1031.6 L712.8 1030.1 L714.7 1028.6 L716.7 1027.1 L718.7 1025.7 L720.7 1024.3 L722.7 1022.8 L724.7 1021.4 L726.7 1020.1 L728.7 1018.7 L730.8 1017.3 L732.8 1015.9 L734.9 1014.6 L736.9 1013.2 L738.9 1011.8 L740.9 1010.4 L743.0 1009.1 L745.0 1007.6 L746.9 1006.2 L748.9 1004.8 L750.8 1003.3 L752.8 1001.8 L754.7 1000.3 L756.5 998.7 L758.4 997.1 L760.2 995.5 L761.9 993.9 L763.7 992.2 L765.4 990.4 L767.0 988.6 L768.6 986.8 L770.2 984.9 L771.8 983.0 L773.3 981.1 L774.8 979.1 L776.2 977.1 L777.6 975.1 L779.0 973.1 L780.4 971.0 L781.7 968.9 L783.0 966.8 L784.3 964.7 L785.6 962.6 L786.8 960.4 L788.0 958.3 L789.2 956.1 L790.4 953.9 L791.5 951.7 L792.6 949.5 L793.7 947.3 L794.8 945.1 L795.9 942.9 L796.9 940.6 L798.0 938.4 L799.0 936.1 L800.0 933.9 L801.0 931.6 L801.9 929.3 L802.9 927.0 L803.8 924.7 L804.7 922.4 L805.6 920.1 L806.5 917.8 L807.3 915.5 L808.2 913.2 L809.0 910.8 L809.9 908.5 L810.7 906.1 L811.5 903.8 L812.3 901.4 L813.1 899.1 L813.8 896.7 L814.6 894.3 L815.3 891.9 L816.1 889.5 L816.8 887.2 L817.5 884.8 L818.3 882.4 L819.0 880.0 L819.7 877.6 L820.4 875.2 L821.1 872.7 L821.7 870.3 L822.4 867.9 L823.1 865.5 L823.8 863.1 L824.4 860.6 L825.1 858.2 L825.8 855.8 L826.4 853.4 L827.1 850.9 L827.7 848.5 L828.4 846.1 L829.0 843.7 L829.7 841.2 L830.3 838.8 L831.0 836.4 L831.6 833.9 L832.3 831.5 L832.9 829.1 L833.6 826.6 L834.2 824.2 L834.9 821.8 L835.5 819.3 L836.2 816.9 L836.8 814.5 L837.5 812.0 L838.1 809.6 L838.8 807.2 L839.4 804.7 L840.1 802.3 L840.7 799.9 L841.4 797.5 L842.1 795.0 L842.7 792.6 L843.4 790.2 L844.0 787.8 L844.7 785.3 L845.3 782.9 L846.0 780.5 L846.7 778.1 L847.3 775.7 L848.0 773.2 L848.7 770.8 L849.3 768.4 L850.0 766.0 L850.7 763.6 L851.3 761.2 L852.0 758.8 L852.7 756.4 L853.3 754.0 L854.0 751.5 L854.7 749.1 L855.4 746.7 L856.0 744.3 L856.7 742.0 L857.4 739.6 L858.1 737.2 L858.8 734.8 L859.5 732.4 L860.2 730.0 L860.8 727.6 L861.5 725.3 L862.2 722.9 L862.9 720.5 L863.6 718.1 L864.3 715.8 L865.0 713.4 L865.8 711.0 L866.5 708.7 L867.2 706.3 L867.9 704.0 L868.6 701.6 L869.3 699.3 L870.0 696.9 L870.8 694.6 L871.5 692.2 L872.2 689.9 L873.0 687.6 L873.7 685.2 L874.4 682.9 L875.2 680.5 L875.9 678.2 L876.7 675.8 L877.5 673.5 L878.2 671.1 L879.0 668.7 L879.8 666.3 L880.6 663.9 L881.4 661.5 L882.2 659.1 L883.0 656.6 L883.8 654.2 L884.7 651.8 L885.6 649.3 L886.6 647.0 L887.6 644.6 L888.7 642.3 L889.9 640.1 L891.2 637.9 L892.5 635.8 L894.0 633.8 L895.5 631.9 L897.2 630.1 L899.0 628.3 L900.9 626.8 L903.0 625.4 L905.1 624.5 L907.4 623.9 L909.6 623.9 L911.9 624.5 L914.0 625.4 L916.0 626.8 L918.0 628.4 L919.8 630.3 L921.5 632.3 L923.1 634.5 L924.6 636.6 L926.0 638.7 L927.4 640.9 L928.7 643.1 L929.9 645.4 L931.1 647.6 L932.2 649.8 L933.2 652.1 L934.2 654.4 L935.2 656.7 L936.1 659.0 L937.0 661.3 L937.9 663.6 L938.8 665.9 L939.7 668.3 L940.5 670.6 L941.4 672.9 L942.3 675.2 L943.1 677.6 L944.0 679.9 L944.8 682.2 L945.7 684.6 L946.5 686.9 L947.3 689.3 L948.2 691.6 L949.0 693.9 L949.8 696.3 L950.7 698.6 L951.5 701.0 L952.3 703.3 L953.1 705.7 L954.0 708.0 L954.8 710.4 L955.6 712.8 L956.4 715.1 L957.2 717.5 L958.0 719.8 L958.8 722.2 L959.6 724.6 L960.4 726.9 L961.2 729.3 L962.0 731.6 L962.8 734.0 L963.6 736.4 L964.4 738.7 L965.2 741.1 L966.0 743.5 L966.8 745.9 L967.6 748.2 L968.4 750.6 L969.2 753.0 L970.0 755.3 L970.8 757.7 L971.6 760.1 L972.4 762.5 L973.2 764.8 L973.9 767.2 L974.7 769.6 L975.5 772.0 L976.3 774.3 L977.1 776.7 L977.9 779.1 L978.7 781.5 L979.5 783.8 L980.3 786.2 L981.1 788.6 L981.9 791.0 L982.7 793.3 L983.5 795.7 L984.3 798.1 L985.1 800.5 L985.9 802.8 L986.7 805.2 L987.5 807.6 L988.3 809.9 L989.1 812.3 L989.9 814.7 L990.7 817.1 L991.5 819.4 L992.3 821.8 L993.1 824.2 L994.0 826.5 L994.8 828.9 L995.6 831.3 L996.4 833.6 L997.3 836.0 L998.1 838.4 L998.9 840.7 L999.8 843.1 L1000.6 845.4 L1001.5 847.8 L1002.3 850.1 L1003.1 852.5 L1004.0 854.9 L1004.9 857.2 L1005.7 859.6 L1006.6 861.9 L1007.4 864.3 L1008.3 866.6 L1009.2 868.9 L1010.1 871.3 L1010.9 873.6 L1011.8 876.0 L1012.7 878.3 L1013.6 880.6 L1014.5 883.0 L1015.4 885.3 L1016.3 887.6 L1017.2 890.0 L1018.2 892.3 L1019.1 894.6 L1020.0 896.9 L1020.9 899.3 L1021.9 901.6 L1022.8 903.9 L1023.8 906.2 L1024.7 908.5 L1025.7 910.8 L1026.6 913.1 L1027.6 915.4 L1028.6 917.7 L1029.6 920.0 L1030.6 922.3 L1031.5 924.6 L1032.5 926.9 L1033.6 929.2 L1034.6 931.5 L1035.6 933.8 L1036.6 936.1 L1037.6 938.3 L1038.7 940.6 L1039.7 942.9 L1040.8 945.1 L1041.8 947.4 L1042.9 949.7 L1044.0 951.9 L1045.0 954.2 L1046.1 956.4 L1047.2 958.7 L1048.3 960.9 L1049.4 963.2 L1050.5 965.4 L1051.7 967.6 L1052.8 969.8 L1053.9 972.1 L1055.1 974.3 L1056.2 976.5 L1057.4 978.7 L1058.6 980.9 L1059.8 983.1 L1060.9 985.3 L1062.1 987.5 L1063.3 989.7 L1064.5 991.9 L1065.8 994.0 L1067.0 996.2 L1068.2 998.4 L1069.5 1000.5 L1070.7 1002.7 L1072.0 1004.8 L1073.3 1007.0 L1074.6 1009.1 L1075.9 1011.2 L1077.2 1013.3 L1078.5 1015.5 L1079.8 1017.6 L1081.1 1019.7 L1082.5 1021.8 L1083.8 1023.8 L1085.2 1025.9 L1086.5 1028.0 L1087.9 1030.1 L1089.3 1032.1 L1090.7 1034.2 L1092.1 1036.2 L1093.5 1038.2 L1095.0 1040.2 L1096.4 1042.3 L1097.8 1044.3 L1099.3 1046.3 L1100.8 1048.3 L1102.3 1050.2 L1103.8 1052.2 L1105.3 1054.2 L1106.8 1056.1 L1108.3 1058.1 L1109.8 1060.0 L1111.4 1061.9 L1112.9 1063.8 L1114.5 1065.7 L1116.1 1067.6 L1117.7 1069.5 L1119.3 1071.4 L1120.9 1073.3 L1122.5 1075.1 L1124.2 1077.0 L1125.8 1078.8 L1127.5 1080.6 L1129.2 1082.4 L1130.9 1084.2 L1132.6 1086.0 L1134.3 1087.8 L1136.0 1089.6 L1137.7 1091.3 L1139.5 1093.1 L1141.2 1094.8 L1143.0 1096.6 L1144.8 1098.3 L1146.6 1100.0 L1148.4 1101.7 L1150.2 1103.4 L1152.0 1105.0 L1153.8 1106.7 L1155.6 1108.4 L1157.5 1110.0 L1159.4 1111.6 L1161.2 1113.3 L1163.1 1114.9 L1165.0 1116.5 L1166.9 1118.1 L1168.8 1119.7 L1170.7 1121.2 L1172.6 1122.8 L1174.6 1124.4 L1176.5 1125.9 L1178.5 1127.4 L1180.4 1128.9 L1182.4 1130.5 L1184.4 1132.0 L1186.4 1133.5 L1188.4 1134.9 L1190.4 1136.4 L1192.4 1137.9 L1194.4 1139.3 L1196.5 1140.8 L1198.5 1142.2 L1200.5 1143.6 L1202.6 1145.0 L1204.7 1146.4 L1206.7 1147.8 L1208.8 1149.2 L1210.9 1150.6 L1213.0 1152.0 L1215.1 1153.3 L1217.2 1154.6 L1219.3 1156.0 L1221.4 1157.3 L1223.5 1158.6 L1225.7 1159.9 L1227.8 1161.2 L1230.0 1162.5 L1232.1 1163.8 L1234.3 1165.0 L1236.4 1166.3 L1238.6 1167.6 L1240.8 1168.8 L1243.0 1170.0 L1245.2 1171.2 L1247.4 1172.4 L1249.6 1173.6 L1251.8 1174.8 L1254.0 1176.0 L1256.2 1177.2 L1258.4 1178.3 L1260.6 1179.5 L1262.9 1180.6 L1265.1 1181.8 L1267.3 1182.9 L1269.6 1184.0 L1271.8 1185.1 L1274.1 1186.2 L1276.4 1187.3 L1278.6 1188.4 L1280.9 1189.4 L1283.2 1190.5 L1285.4 1191.5 L1287.7 1192.6 L1290.0 1193.6 L1292.3 1194.6 L1294.6 1195.6 L1296.9 1196.6 L1299.2 1197.6 L1301.5 1198.6 L1303.8 1199.6 L1306.1 1200.5 L1308.4 1201.5 L1310.7 1202.5 L1313.0 1203.4 L1315.3 1204.3 L1317.7 1205.2 L1320.0 1206.2 L1322.3 1207.1 L1324.7 1208.0 L1327.0 1208.8 L1329.3 1209.7 L1331.7 1210.6 L1334.0 1211.4 L1336.4 1212.3 L1338.7 1213.1 L1341.1 1214.0 L1343.4 1214.8 L1345.8 1215.6 L1348.2 1216.4 L1350.5 1217.2 L1352.9 1218.0 L1355.3 1218.8 L1357.6 1219.6 L1360.0 1220.3 L1362.4 1221.1 L1364.8 1221.9 L1367.2 1222.6 L1369.6 1223.3 L1371.9 1224.1 L1374.3 1224.8 L1376.7 1225.5 L1379.1 1226.2 L1381.5 1226.9 L1383.9 1227.6 L1386.3 1228.3 L1388.7 1228.9 L1391.1 1229.6 L1393.6 1230.3 L1396.0 1230.9 L1398.4 1231.5 L1400.8 1232.2 L1403.2 1232.8 L1405.7 1233.4 L1408.1 1234.0 L1410.5 1234.6 L1412.9 1235.2 L1415.4 1235.8 L1417.8 1236.4 L1420.2 1237.0 L1422.7 1237.6 L1425.1 1238.1 L1427.5 1238.7 L1430.0 1239.2 L1432.4 1239.8 L1434.9 1240.3 L1437.3 1240.8 L1439.8 1241.3 L1442.2 1241.8 L1444.7 1242.3 L1447.1 1242.8 L1449.6 1243.3 L1452.0 1243.8 L1454.5 1244.3 L1457.0 1244.8 L1459.4 1245.2 L1461.9 1245.7 L1464.3 1246.1 L1466.8 1246.6 L1469.3 1247.0 L1471.7 1247.5 L1474.2 1247.9 L1476.7 1248.3 L1479.2 1248.7 L1481.6 1249.1 L1484.1 1249.5 L1486.6 1249.9 L1489.1 1250.3 L1491.5 1250.7 L1494.0 1251.0 L1496.5 1251.4 L1499.0 1251.8 L1501.5 1252.1 L1503.9 1252.5 L1506.4 1252.8 L1508.9 1253.2 L1511.4 1253.5 L1513.9 1253.8 L1516.4 1254.1 L1518.9 1254.5 L1521.4 1254.8 L1523.8 1255.1 L1526.3 1255.4 L1528.8 1255.7 L1531.3 1256.0 L1533.8 1256.2 L1536.3 1256.5 L1538.8 1256.8 L1541.3 1257.0 L1543.8 1257.3 L1546.3 1257.6 L1548.8 1257.8 L1551.3 1258.1 L1553.8 1258.3 L1556.3 1258.5 L1558.8 1258.8 L1561.3 1259.0 L1563.8 1259.2 L1566.3 1259.4 L1568.7 1259.6 L1571.2 1259.8 L1573.7 1260.0 L1576.2 1260.2 L1578.7 1260.4 L1581.2 1260.6 L1583.7 1260.8 L1586.2 1260.9 L1588.7 1261.1 L1591.2 1261.3 L1593.7 1261.4 L1596.2 1261.6 L1598.7 1261.7 L1601.2 1261.9 L1603.7 1262.0 L1606.2 1262.2 L1608.7 1262.3 L1611.2 1262.5 L1613.7 1262.6 L1616.2 1262.7 L1618.7 1262.8 L1621.2 1263.0 L1623.7 1263.1 L1626.2 1263.2 L1628.7 1263.3 L1631.2 1263.4 L1633.7 1263.5 L1636.2 1263.6 L1638.7 1263.7 L1641.2 1263.8 L1643.7 1263.9 L1646.2 1264.0 L1648.7 1264.1 L1651.2 1264.2 L1653.7 1264.3 L1656.2 1264.4 L1658.7 1264.5 L1661.2 1264.6 L1663.7 1264.6 L1666.2 1264.7 L1668.7 1264.8 L1671.2 1264.9 L1673.7 1265.0 L1676.2 1265.0 L1678.7 1265.1 L1681.2 1265.2 L1683.7 1265.3 L1686.2 1265.3 L1688.7 1265.4 L1691.2 1265.5 L1693.7 1265.6 L1696.2 1265.6 L1698.7 1265.7 L1701.2 1265.8 L1703.7 1265.8 L1706.2 1265.9 L1708.7 1266.0 L1711.2 1266.0 L1713.7 1266.1 L1716.2 1266.2 L1718.7 1266.3 L1721.2 1266.3 L1723.7 1266.4 L1726.2 1266.5 L1728.7 1266.6 L1731.2 1266.6 L1733.7 1266.7 L1736.2 1266.8 L1738.7 1266.9 L1741.2 1266.9 L1743.7 1267.0 L1746.2 1267.1 L1748.7 1267.2 L1751.2 1267.3 L1753.7 1267.4 L1756.2 1267.5 L1758.7 1267.6 L1761.2 1267.6 L1763.7 1267.7 L1766.1 1267.8 L1768.6 1267.9 L1771.1 1268.0 L1773.6 1268.2 L1776.1 1268.3 L1778.6 1268.4 L1781.1 1268.5 L1783.6 1268.6 L1786.1 1268.7 L1788.6 1268.9 L1791.1 1269.0 L1793.6 1269.1 L1796.1 1269.2 L1798.5 1269.4 L1801.0 1269.5 L1803.5 1269.7 L1806.0 1269.8 L1808.5 1270.0 L1811.0 1270.1 L1813.5 1270.3 L1816.0 1270.4 L1818.5 1270.6 L1820.9 1270.8 L1823.4 1271.0 L1825.9 1271.1 L1828.4 1271.3 L1830.9 1271.5 L1833.4 1271.7 L1835.9 1271.9 L1838.3 1272.1 L1840.8 1272.3 L1843.3 1272.5 L1845.8 1272.8 L1848.3 1273.0 L1850.8 1273.2 L1853.2 1273.5 L1855.7 1273.7 L1858.2 1273.9 L1860.7 1274.2 L1863.2 1274.5 L1865.6 1274.7 L1868.1 1275.0 L1870.6 1275.3 L1873.1 1275.6 L1875.6 1275.9 L1878.0 1276.2 L1880.5 1276.5 L1883.0 1276.8 L1885.5 1277.1 L1887.9 1277.4 L1890.4 1277.7 L1892.9 1278.1 L1895.4 1278.4 L1897.8 1278.8 L1900.3 1279.1 L1902.8 1279.5 L1905.3 1279.8 L1907.7 1280.2 L1910.2 1280.6 L1912.7 1281.0 L1915.1 1281.4 L1917.6 1281.7 L1920.1 1282.1 L1922.5 1282.5 L1925.0 1282.9 L1927.5 1283.4 L1930.0 1283.8 L1932.4 1284.2 L1934.9 1284.6 L1937.4 1285.0 L1939.8 1285.5 L1942.3 1285.9 L1944.8 1286.3 L1947.2 1286.8 L1949.7 1287.2 L1952.2 1287.6 L1954.6 1288.1 L1957.1 1288.5 L1959.6 1289.0 L1962.0 1289.4 L1964.5 1289.9 L1966.9 1290.3 L1969.4 1290.8 L1971.9 1291.3 L1974.3 1291.7 L1976.8 1292.2 L1979.3 1292.6 L1981.7 1293.1 L1984.2 1293.6 L1986.7 1294.0 L1989.1 1294.5 L1991.6 1295.0 L1994.1 1295.4 L1996.5 1295.9 L1999.0 1296.4 L2001.4 1296.8 L2003.9 1297.3 L2006.4 1297.7 L2008.8 1298.2 L2011.3 1298.7 L2013.8 1299.1 L2016.2 1299.6 L2018.7 1300.1 L2021.2 1300.5 L2023.6 1301.0 L2026.1 1301.4 L2028.5 1301.9 L2031.0 1302.3 L2033.5 1302.8 L2035.9 1303.2 L2038.4 1303.7 L2040.9 1304.1 L2043.3 1304.5 L2045.8 1305.0 L2048.3 1305.4 L2050.7 1305.8 L2053.2 1306.3 L2055.7 1306.7 L2058.1 1307.1 L2060.6 1307.5 L2063.1 1307.9 L2065.5 1308.3 L2068.0 1308.8 L2070.5 1309.2 L2072.9 1309.5 L2075.4 1309.9 L2077.9 1310.3 L2080.3 1310.7 L2082.8 1311.1 L2085.3 1311.4 L2087.7 1311.8 L2090.2 1312.2 L2092.7 1312.5 L2095.1 1312.9 L2097.6 1313.2 L2100.1 1313.5 L2102.6 1313.9 L2105.0 1314.2 L2107.5 1314.5 L2110.0 1314.8 L2112.5 1315.1 L2114.9 1315.4 L2117.4 1315.7 L2119.9 1316.0 L2122.4 1316.3 L2124.8 1316.5 L2127.3 1316.8 L2129.8 1317.0 L2132.3 1317.3 L2134.7 1317.5 L2137.2 1317.7 L2139.7 1318.0 L2142.2 1318.2 L2144.6 1318.4 L2147.1 1318.6 L2149.6 1318.7 L2152.1 1318.9 L2154.6 1319.1 L2157.1 1319.2 L2159.5 1319.4 L2162.0 1319.5 L2164.5 1319.6 L2167.0 1319.7 L2169.5 1319.8 L2172.0 1319.9 L2174.5 1320.0 L2176.9 1320.1 L2179.4 1320.2 L2181.9 1320.2 L2184.4 1320.3 L2186.9 1320.3 L2189.4 1320.4 L2191.9 1320.4 L2194.4 1320.4 L2196.9 1320.4 L2199.4 1320.4 L2201.8 1320.4 L2204.3 1320.4 L2206.8 1320.4 L2209.3 1320.4 L2211.8 1320.4 L2214.3 1320.4 L2216.8 1320.3 L2219.3 1320.3 L2221.8 1320.2 L2224.3 1320.2 L2226.8 1320.1 L2229.3 1320.1 L2231.8 1320.0 L2234.3 1320.0 L2236.8 1319.9 L2239.3 1319.8 L2241.8 1319.7 L2244.3 1319.7 L2246.8 1319.6 L2249.3 1319.5 L2251.8 1319.4 L2254.3 1319.3 L2256.8 1319.2 L2259.3 1319.2 L2261.8 1319.1 L2264.3 1319.0 L2266.8 1318.9 L2269.3 1318.8 L2271.8 1318.7 L2274.3 1318.6 L2276.8 1318.5 L2279.3 1318.4 L2281.8 1318.3 L2284.3 1318.2 L2286.8 1318.2 L2289.3 1318.1 L2291.8 1318.0 L2294.3 1317.9 L2296.8 1317.8 L2299.3 1317.7 L2301.8 1317.7 L2304.3 1317.6 L2306.8 1317.5 L2309.3 1317.4 L2311.8 1317.4 L2314.3 1317.3 L2316.8 1317.2 L2319.3 1317.2 L2321.8 1317.1 L2324.3 1317.1 L2326.8 1317.1 L2329.3 1317.0 L2331.8 1317.0 L2334.3 1317.0 L2336.8 1316.9 L2339.3 1316.9 L2341.8 1316.9 L2344.3 1316.9 L2346.8 1316.9 L2349.3 1316.9 L2351.8 1316.9 L2354.3 1317.0 L2356.8 1317.0 L2359.3 1317.0 L2361.8 1317.1 L2364.3 1317.1 L2366.8 1317.2 L2369.3 1317.3 L2371.8 1317.4 L2374.3 1317.5 L2376.8 1317.6 L2379.2 1317.7 L2379.5 1317.7"/>
<path stroke="#0072bd" stroke-width="3.8000000000000003" shape-rendering="geometricPrecision" d="M213.1 1313.3 L216.1 1313.1 L220.1 1312.7 L224.0 1312.4 L228.0 1312.0 L232.0 1311.6 L236.0 1311.2 L238.9 1310.9 L242.8 1310.5 M259.5 1308.6 L262.9 1308.2 L265.8 1307.8 L268.8 1307.4 L271.8 1307.0 L274.8 1306.6 L277.8 1306.1 L280.8 1305.7 L283.8 1305.3 L286.8 1304.8 L289.1 1304.5 M305.6 1301.7 L308.6 1301.2 L311.6 1300.7 L314.5 1300.1 L317.5 1299.6 L320.5 1299.0 L323.4 1298.4 L326.4 1297.8 L329.4 1297.2 L332.3 1296.6 L334.7 1296.1 M351.0 1292.5 L353.9 1291.8 L356.8 1291.1 L359.7 1290.4 L362.7 1289.6 L365.6 1288.9 L368.5 1288.1 L371.4 1287.3 L374.3 1286.6 L377.2 1285.8 L379.5 1285.1 M395.5 1280.4 L399.2 1279.2 L403.0 1278.0 L406.8 1276.7 L410.5 1275.5 L414.3 1274.2 L418.1 1272.8 L421.8 1271.5 L423.6 1270.8 M439.3 1264.8 L442.1 1263.6 L445.8 1262.1 L449.4 1260.5 L453.0 1259.0 L456.6 1257.4 L460.2 1255.7 L463.8 1254.1 L466.5 1252.8 M481.6 1245.3 L484.9 1243.5 L488.4 1241.6 L491.8 1239.7 L495.2 1237.8 L498.6 1235.8 L502.0 1233.9 L505.4 1231.8 L507.5 1230.5 M521.6 1221.4 L524.3 1219.6 L527.5 1217.3 L530.7 1215.1 L533.9 1212.8 L537.1 1210.4 L540.2 1208.0 L543.3 1205.6 L545.6 1203.8 M558.5 1193.1 L561.5 1190.4 L564.5 1187.8 L567.4 1185.1 L570.3 1182.4 L573.2 1179.6 L576.0 1176.8 L578.8 1174.0 L580.2 1172.6 M591.9 1160.5 L594.1 1158.1 L596.1 1155.9 L598.2 1153.7 L600.2 1151.4 L602.2 1149.2 L604.2 1146.9 L606.2 1144.6 L608.2 1142.4 L610.2 1140.1 L611.7 1138.3 M622.6 1125.5 L624.6 1123.1 L626.5 1120.8 L628.5 1118.5 L630.4 1116.1 L632.3 1113.8 L634.3 1111.4 L636.2 1109.1 L638.1 1106.8 L640.0 1104.4 L641.6 1102.5 M652.3 1089.5 L654.7 1086.6 L656.6 1084.3 L659.2 1081.2 L661.8 1078.2 L664.4 1075.2 L667.0 1072.2 L669.7 1069.3 L671.8 1067.0 M683.5 1054.9 L686.2 1052.2 L689.0 1049.6 L691.9 1046.9 L694.9 1044.3 L697.9 1041.8 L700.9 1039.3 L704.0 1036.9 L706.2 1035.3 M720.3 1025.9 L722.9 1024.3 L725.5 1022.8 L728.2 1021.4 L730.8 1020.0 L733.5 1018.6 L736.2 1017.2 L738.9 1015.8 L741.6 1014.4 L744.3 1013.1 L746.6 1011.8 M761.1 1003.4 L764.0 1001.5 L767.1 999.2 L770.2 996.8 L773.1 994.2 L775.8 991.5 L778.5 988.6 L781.0 985.6 L782.9 983.1 M791.8 968.8 L793.5 965.4 L794.8 962.7 L796.0 959.9 L797.2 957.2 L798.3 954.4 L799.4 951.6 L800.5 948.7 L801.8 945.0 L803.0 941.4 M807.6 925.3 L808.4 922.2 L809.4 918.4 L810.3 914.6 L811.2 910.8 L812.0 907.0 L812.9 903.2 L813.7 899.3 L814.4 896.3 M818.2 880.0 L819.1 876.3 L820.1 872.5 L821.1 868.7 L822.2 864.8 L823.2 861.0 L824.3 857.2 L825.4 853.3 L825.9 851.3 M830.6 835.3 L831.5 832.2 L832.4 829.3 L833.2 826.4 L834.0 823.5 L834.9 820.6 L835.7 817.8 L836.8 813.9 L837.8 810.1 L838.8 806.5 M843.2 789.9 L844.2 786.0 L845.2 782.1 L846.2 778.3 L847.1 774.4 L848.1 770.6 L849.0 766.7 L850.0 762.9 L850.5 760.9 M854.4 744.6 L855.3 740.7 L856.2 736.9 L857.1 733.0 L858.1 729.1 L859.0 725.3 L859.9 721.4 L860.9 717.6 L861.3 715.6 M865.3 699.3 L866.1 696.3 L867.0 692.5 L868.0 688.6 L869.0 684.8 L870.0 680.9 L871.1 677.0 L872.2 673.2 L873.0 670.5 M878.7 654.7 L880.0 651.6 L881.4 648.9 L882.8 646.2 L884.3 643.6 L885.9 641.0 L887.6 638.4 L889.5 635.9 L891.4 633.4 L894.2 630.6 M909.1 629.5 L911.6 631.2 L913.9 633.2 L916.0 635.4 L917.9 637.8 L919.6 640.4 L921.2 643.2 L922.6 646.0 L924.0 648.8 L925.4 651.6 L926.2 653.3 M933.3 668.5 L934.7 671.9 L936.3 675.5 L937.8 679.1 L939.2 682.7 L940.7 686.4 L942.1 690.1 L943.1 692.9 L944.3 696.2 M949.9 712.0 L950.9 714.9 L951.8 717.8 L952.8 720.7 L953.8 723.6 L954.7 726.5 L955.7 729.4 L956.6 732.4 L957.6 735.3 L958.5 738.2 L959.2 740.3 M964.4 756.3 L965.4 759.2 L966.7 763.0 L967.9 766.8 L969.2 770.6 L970.4 774.3 L971.7 778.1 L972.9 781.8 L973.9 784.6 M979.3 800.5 L980.5 804.1 L981.8 807.8 L983.1 811.5 L984.4 815.2 L985.7 818.8 L987.0 822.5 L988.3 826.2 L989.2 828.5 M995.0 844.3 L996.1 847.2 L997.4 850.8 L998.8 854.4 L1000.2 858.1 L1001.6 861.7 L1003.0 865.4 L1004.5 869.0 L1005.6 871.9 M1011.9 887.4 L1013.3 890.8 L1014.9 894.4 L1016.4 898.1 L1018.0 901.7 L1019.6 905.4 L1021.2 909.0 L1022.8 912.7 L1023.7 914.8 M1030.6 930.0 L1031.9 932.9 L1033.2 935.6 L1034.5 938.4 L1035.9 941.1 L1037.2 943.9 L1038.5 946.6 L1039.9 949.3 L1041.2 952.1 L1042.6 954.8 L1043.6 956.9 M1051.4 971.8 L1053.0 974.8 L1054.5 977.5 L1055.9 980.3 L1057.4 983.0 L1058.9 985.6 L1060.4 988.3 L1061.9 991.0 L1063.5 993.7 L1065.0 996.4 L1065.9 997.8 M1074.6 1012.2 L1076.2 1014.8 L1077.8 1017.4 L1079.5 1020.0 L1081.1 1022.6 L1082.8 1025.1 L1084.5 1027.7 L1086.2 1030.2 L1087.9 1032.7 L1089.7 1035.3 L1091.0 1037.3 M1100.9 1050.9 L1102.7 1053.4 L1104.6 1055.8 L1106.4 1058.2 L1108.3 1060.5 L1110.2 1062.9 L1112.1 1065.3 L1114.0 1067.6 L1115.9 1069.9 L1117.8 1072.2 L1119.6 1074.3 M1130.8 1086.8 L1133.1 1089.2 L1135.9 1092.1 L1138.6 1094.9 L1141.4 1097.7 L1144.2 1100.5 L1147.1 1103.2 L1149.9 1105.9 L1152.0 1107.8 M1164.6 1118.9 L1167.6 1121.4 L1170.6 1123.9 L1173.6 1126.4 L1176.7 1128.8 L1179.8 1131.2 L1182.9 1133.6 L1186.0 1135.9 L1188.0 1137.5 M1201.8 1147.2 L1204.3 1148.9 L1207.5 1151.0 L1210.8 1153.2 L1214.1 1155.3 L1217.4 1157.4 L1220.7 1159.4 L1224.1 1161.4 L1226.9 1163.1 M1241.4 1171.4 L1244.5 1173.0 L1247.9 1174.9 L1251.4 1176.7 L1254.9 1178.5 L1258.4 1180.3 L1261.9 1182.0 L1265.4 1183.7 L1268.0 1185.0 M1283.3 1192.0 L1287.0 1193.6 L1290.6 1195.1 L1294.2 1196.7 L1297.9 1198.2 L1301.6 1199.7 L1305.3 1201.1 L1308.9 1202.6 L1310.5 1203.2 M1326.0 1208.9 L1329.5 1210.2 L1333.3 1211.5 L1337.0 1212.8 L1340.8 1214.0 L1344.6 1215.3 L1347.5 1216.2 L1350.3 1217.1 L1353.7 1218.2 M1369.6 1222.9 L1372.5 1223.7 L1375.4 1224.6 L1378.3 1225.4 L1381.2 1226.2 L1384.1 1226.9 L1387.0 1227.7 L1389.9 1228.5 L1392.9 1229.3 L1395.8 1230.0 L1398.3 1230.6 M1414.7 1234.6 L1418.4 1235.4 L1421.4 1236.1 L1424.3 1236.7 L1427.3 1237.4 L1430.3 1238.0 L1433.3 1238.6 L1436.2 1239.3 L1439.2 1239.9 L1442.2 1240.5 L1443.7 1240.8 M1460.2 1243.9 L1464.1 1244.6 L1467.1 1245.2 L1470.1 1245.7 L1473.1 1246.2 L1476.1 1246.7 L1479.1 1247.2 L1482.1 1247.7 L1485.2 1248.2 L1488.2 1248.7 L1489.6 1248.9 M1506.1 1251.4 L1509.2 1251.8 L1512.2 1252.2 L1515.2 1252.7 L1518.3 1253.1 L1521.3 1253.5 L1524.3 1253.9 L1527.3 1254.2 L1530.3 1254.6 L1533.3 1255.0 L1535.7 1255.3 M1552.3 1257.2 L1555.3 1257.6 L1558.3 1257.9 L1561.4 1258.2 L1564.4 1258.5 L1567.4 1258.8 L1570.4 1259.1 L1573.4 1259.4 L1576.4 1259.7 L1579.3 1260.0 L1582.0 1260.3 M1598.7 1261.8 L1602.3 1262.1 L1605.3 1262.3 L1608.3 1262.6 L1611.3 1262.8 L1614.3 1263.1 L1618.3 1263.4 L1622.2 1263.7 L1626.2 1264.0 L1628.4 1264.2 M1645.2 1265.3 L1649.1 1265.6 L1653.1 1265.9 L1657.1 1266.1 L1661.1 1266.4 L1665.0 1266.7 L1669.0 1266.9 L1673.0 1267.2 L1675.0 1267.3 M1691.8 1268.3 L1695.8 1268.5 L1699.8 1268.8 L1703.8 1269.0 L1707.7 1269.2 L1711.7 1269.4 L1715.7 1269.7 L1719.6 1269.9 L1721.6 1270.0 M1738.4 1271.0 L1742.4 1271.2 L1746.4 1271.4 L1750.3 1271.6 L1754.3 1271.9 L1758.2 1272.1 L1762.2 1272.3 L1766.2 1272.6 L1768.2 1272.7 M1785.0 1273.7 L1788.9 1274.0 L1792.9 1274.2 L1796.8 1274.5 L1800.8 1274.8 L1804.7 1275.0 L1808.7 1275.3 L1812.7 1275.6 L1814.7 1275.7 M1831.4 1277.0 L1835.4 1277.3 L1839.3 1277.6 L1843.3 1277.9 L1847.3 1278.3 L1851.2 1278.6 L1855.2 1278.9 L1859.1 1279.3 L1861.1 1279.5 M1877.9 1281.1 L1880.9 1281.4 L1884.8 1281.8 L1888.8 1282.2 L1892.7 1282.6 L1896.7 1283.1 L1900.6 1283.5 L1904.6 1284.0 L1907.0 1284.2 M1923.4 1286.3 L1927.3 1286.8 L1931.3 1287.3 L1935.2 1287.8 L1939.2 1288.4 L1943.1 1289.0 L1947.1 1289.5 L1951.0 1290.1 L1952.9 1290.4 M1969.4 1293.1 L1972.8 1293.6 L1975.8 1294.1 L1978.7 1294.7 L1981.7 1295.2 L1984.7 1295.7 L1987.7 1296.3 L1990.6 1296.8 L1993.6 1297.4 L1996.6 1297.9 L1998.4 1298.3 M2014.7 1301.6 L2018.4 1302.3 L2021.3 1302.9 L2024.3 1303.5 L2027.3 1304.1 L2030.3 1304.8 L2033.2 1305.4 L2036.2 1305.9 L2039.2 1306.5 L2042.2 1307.1 L2043.9 1307.4 M2060.4 1310.4 L2064.0 1311.0 L2067.0 1311.4 L2069.9 1311.9 L2072.9 1312.3 L2075.9 1312.7 L2078.9 1313.1 L2081.9 1313.4 L2085.8 1313.9 L2090.3 1314.3 M2107.3 1315.5 L2110.7 1315.7 L2114.7 1315.8 L2118.7 1316.0 L2122.7 1316.1 L2126.6 1316.2 L2130.6 1316.3 L2134.6 1316.3 L2137.1 1316.4 M2153.9 1316.4 L2157.5 1316.4 L2161.5 1316.4 L2165.5 1316.4 L2169.5 1316.3 L2173.5 1316.3 L2177.5 1316.3 L2181.5 1316.3 L2183.7 1316.3 M2200.5 1316.3 L2204.5 1316.4 L2208.5 1316.4 L2212.5 1316.4 L2215.5 1316.5 L2218.5 1316.5 L2221.5 1316.6 L2224.5 1316.6 L2227.5 1316.7 L2230.3 1316.7 M2247.1 1317.1 L2250.5 1317.1 L2253.5 1317.2 L2256.5 1317.3 L2259.5 1317.4 L2262.5 1317.4 L2265.5 1317.5 L2268.5 1317.6 L2271.5 1317.7 L2274.5 1317.8 L2276.6 1317.8 M2293.3 1318.3 L2296.5 1318.4 L2299.5 1318.5 L2302.5 1318.6 L2305.5 1318.7 L2308.5 1318.8 L2311.5 1318.9 L2314.5 1318.9 L2317.5 1319.0 L2320.5 1319.1 L2322.8 1319.2 M2339.5 1319.7 L2343.5 1319.8 L2347.5 1319.9 L2351.5 1320.0 L2355.5 1320.1 L2359.5 1320.2 L2363.5 1320.3 L2367.5 1320.3 L2369.3 1320.4"/>
<path id="blueB" stroke="#0072bd" d="M213.1 1313.3 L216.1 1313.1 L220.1 1312.7 L224.0 1312.4 L228.0 1312.0 L232.0 1311.6 L236.0 1311.2 L238.9 1310.9 L242.8 1310.5 M259.5 1308.6 L262.9 1308.2 L265.8 1307.8 L268.8 1307.4 L271.8 1307.0 L274.8 1306.6 L277.8 1306.1 L280.8 1305.7 L283.8 1305.3 L286.8 1304.8 L289.1 1304.5 M305.6 1301.7 L308.6 1301.2 L311.6 1300.7 L314.5 1300.1 L317.5 1299.6 L320.5 1299.0 L323.4 1298.4 L326.4 1297.8 L329.4 1297.2 L332.3 1296.6 L334.7 1296.1 M351.0 1292.5 L353.9 1291.8 L356.8 1291.1 L359.7 1290.4 L362.7 1289.6 L365.6 1288.9 L368.5 1288.1 L371.4 1287.3 L374.3 1286.6 L377.2 1285.8 L379.5 1285.1 M395.5 1280.4 L399.2 1279.2 L403.0 1278.0 L406.8 1276.7 L410.5 1275.5 L414.3 1274.2 L418.1 1272.8 L421.8 1271.5 L423.6 1270.8 M439.3 1264.8 L442.1 1263.6 L445.8 1262.1 L449.4 1260.5 L453.0 1259.0 L456.6 1257.4 L460.2 1255.7 L463.8 1254.1 L466.5 1252.8 M481.6 1245.3 L484.9 1243.5 L488.4 1241.6 L491.8 1239.7 L495.2 1237.8 L498.6 1235.8 L502.0 1233.9 L505.4 1231.8 L507.5 1230.5 M521.6 1221.4 L524.3 1219.6 L527.5 1217.3 L530.7 1215.1 L533.9 1212.8 L537.1 1210.4 L540.2 1208.0 L543.3 1205.6 L545.6 1203.8 M558.5 1193.1 L561.5 1190.4 L564.5 1187.8 L567.4 1185.1 L570.3 1182.4 L573.2 1179.6 L576.0 1176.8 L578.8 1174.0 L580.2 1172.6 M591.9 1160.5 L594.1 1158.1 L596.1 1155.9 L598.2 1153.7 L600.2 1151.4 L602.2 1149.2 L604.2 1146.9 L606.2 1144.6 L608.2 1142.4 L610.2 1140.1 L611.7 1138.3 M622.6 1125.5 L624.6 1123.1 L626.5 1120.8 L628.5 1118.5 L630.4 1116.1 L632.3 1113.8 L634.3 1111.4 L636.2 1109.1 L638.1 1106.8 L640.0 1104.4 L641.6 1102.5 M652.3 1089.5 L654.7 1086.6 L656.6 1084.3 L659.2 1081.2 L661.8 1078.2 L664.4 1075.2 L667.0 1072.2 L669.7 1069.3 L671.8 1067.0 M683.5 1054.9 L686.2 1052.2 L689.0 1049.6 L691.9 1046.9 L694.9 1044.3 L697.9 1041.8 L700.9 1039.3 L704.0 1036.9 L706.2 1035.3 M720.3 1025.9 L722.9 1024.3 L725.5 1022.8 L728.2 1021.4 L730.8 1020.0 L733.5 1018.6 L736.2 1017.2 L738.9 1015.8 L741.6 1014.4 L744.3 1013.1 L746.6 1011.8 M761.1 1003.4 L764.0 1001.5 L767.1 999.2 L770.2 996.8 L773.1 994.2 L775.8 991.5 L778.5 988.6 L781.0 985.6 L782.9 983.1 M791.8 968.8 L793.5 965.4 L794.8 962.7 L796.0 959.9 L797.2 957.2 L798.3 954.4 L799.4 951.6 L800.5 948.7 L801.8 945.0 L803.0 941.4 M807.6 925.3 L808.4 922.2 L809.4 918.4 L810.3 914.6 L811.2 910.8 L812.0 907.0 L812.9 903.2 L813.7 899.3 L814.4 896.3 M818.2 880.0 L819.1 876.3 L820.1 872.5 L821.1 868.7 L822.2 864.8 L823.2 861.0 L824.3 857.2 L825.4 853.3 L825.9 851.3 M830.6 835.3 L831.5 832.2 L832.4 829.3 L833.2 826.4 L834.0 823.5 L834.9 820.6 L835.7 817.8 L836.8 813.9 L837.8 810.1 L838.8 806.5 M843.2 789.9 L844.2 786.0 L845.2 782.1 L846.2 778.3 L847.1 774.4 L848.1 770.6 L849.0 766.7 L850.0 762.9 L850.5 760.9 M854.4 744.6 L855.3 740.7 L856.2 736.9 L857.1 733.0 L858.1 729.1 L859.0 725.3 L859.9 721.4 L860.9 717.6 L861.3 715.6 M865.3 699.3 L866.1 696.3 L867.0 692.5 L868.0 688.6 L869.0 684.8 L870.0 680.9 L871.1 677.0 L872.2 673.2 L873.0 670.5 M878.7 654.7 L880.0 651.6 L881.4 648.9 L882.8 646.2 L884.3 643.6 L885.9 641.0 L887.6 638.4 L889.5 635.9 L891.4 633.4 L894.2 630.6 M909.1 629.5 L911.6 631.2 L913.9 633.2 L916.0 635.4 L917.9 637.8 L919.6 640.4 L921.2 643.2 L922.6 646.0 L924.0 648.8 L925.4 651.6 L926.2 653.3 M933.3 668.5 L934.7 671.9 L936.3 675.5 L937.8 679.1 L939.2 682.7 L940.7 686.4 L942.1 690.1 L943.1 692.9 L944.3 696.2 M949.9 712.0 L950.9 714.9 L951.8 717.8 L952.8 720.7 L953.8 723.6 L954.7 726.5 L955.7 729.4 L956.6 732.4 L957.6 735.3 L958.5 738.2 L959.2 740.3 M964.4 756.3 L965.4 759.2 L966.7 763.0 L967.9 766.8 L969.2 770.6 L970.4 774.3 L971.7 778.1 L972.9 781.8 L973.9 784.6 M979.3 800.5 L980.5 804.1 L981.8 807.8 L983.1 811.5 L984.4 815.2 L985.7 818.8 L987.0 822.5 L988.3 826.2 L989.2 828.5 M995.0 844.3 L996.1 847.2 L997.4 850.8 L998.8 854.4 L1000.2 858.1 L1001.6 861.7 L1003.0 865.4 L1004.5 869.0 L1005.6 871.9 M1011.9 887.4 L1013.3 890.8 L1014.9 894.4 L1016.4 898.1 L1018.0 901.7 L1019.6 905.4 L1021.2 909.0 L1022.8 912.7 L1023.7 914.8 M1030.6 930.0 L1031.9 932.9 L1033.2 935.6 L1034.5 938.4 L1035.9 941.1 L1037.2 943.9 L1038.5 946.6 L1039.9 949.3 L1041.2 952.1 L1042.6 954.8 L1043.6 956.9 M1051.4 971.8 L1053.0 974.8 L1054.5 977.5 L1055.9 980.3 L1057.4 983.0 L1058.9 985.6 L1060.4 988.3 L1061.9 991.0 L1063.5 993.7 L1065.0 996.4 L1065.9 997.8 M1074.6 1012.2 L1076.2 1014.8 L1077.8 1017.4 L1079.5 1020.0 L1081.1 1022.6 L1082.8 1025.1 L1084.5 1027.7 L1086.2 1030.2 L1087.9 1032.7 L1089.7 1035.3 L1091.0 1037.3 M1100.9 1050.9 L1102.7 1053.4 L1104.6 1055.8 L1106.4 1058.2 L1108.3 1060.5 L1110.2 1062.9 L1112.1 1065.3 L1114.0 1067.6 L1115.9 1069.9 L1117.8 1072.2 L1119.6 1074.3 M1130.8 1086.8 L1133.1 1089.2 L1135.9 1092.1 L1138.6 1094.9 L1141.4 1097.7 L1144.2 1100.5 L1147.1 1103.2 L1149.9 1105.9 L1152.0 1107.8 M1164.6 1118.9 L1167.6 1121.4 L1170.6 1123.9 L1173.6 1126.4 L1176.7 1128.8 L1179.8 1131.2 L1182.9 1133.6 L1186.0 1135.9 L1188.0 1137.5 M1201.8 1147.2 L1204.3 1148.9 L1207.5 1151.0 L1210.8 1153.2 L1214.1 1155.3 L1217.4 1157.4 L1220.7 1159.4 L1224.1 1161.4 L1226.9 1163.1 M1241.4 1171.4 L1244.5 1173.0 L1247.9 1174.9 L1251.4 1176.7 L1254.9 1178.5 L1258.4 1180.3 L1261.9 1182.0 L1265.4 1183.7 L1268.0 1185.0 M1283.3 1192.0 L1287.0 1193.6 L1290.6 1195.1 L1294.2 1196.7 L1297.9 1198.2 L1301.6 1199.7 L1305.3 1201.1 L1308.9 1202.6 L1310.5 1203.2 M1326.0 1208.9 L1329.5 1210.2 L1333.3 1211.5 L1337.0 1212.8 L1340.8 1214.0 L1344.6 1215.3 L1347.5 1216.2 L1350.3 1217.1 L1353.7 1218.2 M1369.6 1222.9 L1372.5 1223.7 L1375.4 1224.6 L1378.3 1225.4 L1381.2 1226.2 L1384.1 1226.9 L1387.0 1227.7 L1389.9 1228.5 L1392.9 1229.3 L1395.8 1230.0 L1398.3 1230.6 M1414.7 1234.6 L1418.4 1235.4 L1421.4 1236.1 L1424.3 1236.7 L1427.3 1237.4 L1430.3 1238.0 L1433.3 1238.6 L1436.2 1239.3 L1439.2 1239.9 L1442.2 1240.5 L1443.7 1240.8 M1460.2 1243.9 L1464.1 1244.6 L1467.1 1245.2 L1470.1 1245.7 L1473.1 1246.2 L1476.1 1246.7 L1479.1 1247.2 L1482.1 1247.7 L1485.2 1248.2 L1488.2 1248.7 L1489.6 1248.9 M1506.1 1251.4 L1509.2 1251.8 L1512.2 1252.2 L1515.2 1252.7 L1518.3 1253.1 L1521.3 1253.5 L1524.3 1253.9 L1527.3 1254.2 L1530.3 1254.6 L1533.3 1255.0 L1535.7 1255.3 M1552.3 1257.2 L1555.3 1257.6 L1558.3 1257.9 L1561.4 1258.2 L1564.4 1258.5 L1567.4 1258.8 L1570.4 1259.1 L1573.4 1259.4 L1576.4 1259.7 L1579.3 1260.0 L1582.0 1260.3 M1598.7 1261.8 L1602.3 1262.1 L1605.3 1262.3 L1608.3 1262.6 L1611.3 1262.8 L1614.3 1263.1 L1618.3 1263.4 L1622.2 1263.7 L1626.2 1264.0 L1628.4 1264.2 M1645.2 1265.3 L1649.1 1265.6 L1653.1 1265.9 L1657.1 1266.1 L1661.1 1266.4 L1665.0 1266.7 L1669.0 1266.9 L1673.0 1267.2 L1675.0 1267.3 M1691.8 1268.3 L1695.8 1268.5 L1699.8 1268.8 L1703.8 1269.0 L1707.7 1269.2 L1711.7 1269.4 L1715.7 1269.7 L1719.6 1269.9 L1721.6 1270.0 M1738.4 1271.0 L1742.4 1271.2 L1746.4 1271.4 L1750.3 1271.6 L1754.3 1271.9 L1758.2 1272.1 L1762.2 1272.3 L1766.2 1272.6 L1768.2 1272.7 M1785.0 1273.7 L1788.9 1274.0 L1792.9 1274.2 L1796.8 1274.5 L1800.8 1274.8 L1804.7 1275.0 L1808.7 1275.3 L1812.7 1275.6 L1814.7 1275.7 M1831.4 1277.0 L1835.4 1277.3 L1839.3 1277.6 L1843.3 1277.9 L1847.3 1278.3 L1851.2 1278.6 L1855.2 1278.9 L1859.1 1279.3 L1861.1 1279.5 M1877.9 1281.1 L1880.9 1281.4 L1884.8 1281.8 L1888.8 1282.2 L1892.7 1282.6 L1896.7 1283.1 L1900.6 1283.5 L1904.6 1284.0 L1907.0 1284.2 M1923.4 1286.3 L1927.3 1286.8 L1931.3 1287.3 L1935.2 1287.8 L1939.2 1288.4 L1943.1 1289.0 L1947.1 1289.5 L1951.0 1290.1 L1952.9 1290.4 M1969.4 1293.1 L1972.8 1293.6 L1975.8 1294.1 L1978.7 1294.7 L1981.7 1295.2 L1984.7 1295.7 L1987.7 1296.3 L1990.6 1296.8 L1993.6 1297.4 L1996.6 1297.9 L1998.4 1298.3 M2014.7 1301.6 L2018.4 1302.3 L2021.3 1302.9 L2024.3 1303.5 L2027.3 1304.1 L2030.3 1304.8 L2033.2 1305.4 L2036.2 1305.9 L2039.2 1306.5 L2042.2 1307.1 L2043.9 1307.4 M2060.4 1310.4 L2064.0 1311.0 L2067.0 1311.4 L2069.9 1311.9 L2072.9 1312.3 L2075.9 1312.7 L2078.9 1313.1 L2081.9 1313.4 L2085.8 1313.9 L2090.3 1314.3 M2107.3 1315.5 L2110.7 1315.7 L2114.7 1315.8 L2118.7 1316.0 L2122.7 1316.1 L2126.6 1316.2 L2130.6 1316.3 L2134.6 1316.3 L2137.1 1316.4 M2153.9 1316.4 L2157.5 1316.4 L2161.5 1316.4 L2165.5 1316.4 L2169.5 1316.3 L2173.5 1316.3 L2177.5 1316.3 L2181.5 1316.3 L2183.7 1316.3 M2200.5 1316.3 L2204.5 1316.4 L2208.5 1316.4 L2212.5 1316.4 L2215.5 1316.5 L2218.5 1316.5 L2221.5 1316.6 L2224.5 1316.6 L2227.5 1316.7 L2230.3 1316.7 M2247.1 1317.1 L2250.5 1317.1 L2253.5 1317.2 L2256.5 1317.3 L2259.5 1317.4 L2262.5 1317.4 L2265.5 1317.5 L2268.5 1317.6 L2271.5 1317.7 L2274.5 1317.8 L2276.6 1317.8 M2293.3 1318.3 L2296.5 1318.4 L2299.5 1318.5 L2302.5 1318.6 L2305.5 1318.7 L2308.5 1318.8 L2311.5 1318.9 L2314.5 1318.9 L2317.5 1319.0 L2320.5 1319.1 L2322.8 1319.2 M2339.5 1319.7 L2343.5 1319.8 L2347.5 1319.9 L2351.5 1320.0 L2355.5 1320.1 L2359.5 1320.2 L2363.5 1320.3 L2367.5 1320.3 L2369.3 1320.4"/>
<path stroke="#a2142f" stroke-width="3.8000000000000003" shape-rendering="geometricPrecision" d="M178.7 1329.3 L181.1 1329.0 L183.6 1328.8 L186.0 1328.6 L188.5 1328.3 L191.0 1328.1 L193.4 1327.9 L195.9 1327.6 L198.4 1327.4 L200.9 1327.2 L203.3 1326.9 L205.8 1326.7 L208.3 1326.5 L210.8 1326.3 L213.2 1326.0 L215.7 1325.8 L218.2 1325.6 L220.7 1325.4 L223.2 1325.2 L225.7 1324.9 L228.1 1324.7 L230.6 1324.5 L233.1 1324.3 L235.6 1324.1 L238.1 1323.8 L240.6 1323.6 L243.1 1323.4 L245.6 1323.2 L248.1 1323.0 L250.5 1322.7 L253.0 1322.5 L255.5 1322.3 L258.0 1322.1 L260.5 1321.9 L263.0 1321.6 L265.5 1321.4 L268.0 1321.2 L270.5 1320.9 L273.0 1320.7 L275.5 1320.5 L278.0 1320.3 L280.5 1320.0 L283.0 1319.8 L285.5 1319.5 L288.0 1319.3 L290.5 1319.1 L293.0 1318.8 L295.5 1318.6 L298.0 1318.3 L300.5 1318.1 L303.0 1317.8 L305.5 1317.6 L308.0 1317.3 L310.5 1317.1 L313.0 1316.8 L315.5 1316.5 L318.0 1316.3 L320.5 1316.0 L323.0 1315.7 L325.4 1315.4 L327.9 1315.1 L330.4 1314.9 L332.9 1314.6 L335.4 1314.3 L337.9 1314.0 L340.4 1313.7 L342.9 1313.4 L345.4 1313.1 L347.9 1312.8 L350.4 1312.4 L352.8 1312.1 L355.3 1311.8 L357.8 1311.5 L360.3 1311.1 L362.8 1310.8 L365.3 1310.4 L367.7 1310.1 L370.2 1309.7 L372.7 1309.4 L375.2 1309.0 L377.7 1308.7 L380.1 1308.3 L382.6 1307.9 L385.1 1307.5 L387.5 1307.1 L390.0 1306.7 L392.5 1306.3 L394.9 1305.9 L397.4 1305.5 L399.9 1305.1 L402.3 1304.7 L404.8 1304.2 L407.3 1303.8 L409.7 1303.3 L412.2 1302.9 L414.6 1302.4 L417.1 1302.0 L419.5 1301.5 L422.0 1301.0 L424.4 1300.5 L426.8 1300.0 L429.3 1299.5 L431.7 1299.0 L434.2 1298.5 L436.6 1298.0 L439.0 1297.5 L441.5 1296.9 L443.9 1296.4 L446.3 1295.8 L448.7 1295.3 L451.1 1294.7 L453.6 1294.1 L456.0 1293.5 L458.4 1292.9 L460.8 1292.3 L463.2 1291.7 L465.6 1291.1 L468.0 1290.5 L470.4 1289.8 L472.8 1289.2 L475.2 1288.5 L477.6 1287.9 L480.0 1287.2 L482.4 1286.5 L484.8 1285.8 L487.1 1285.1 L489.5 1284.4 L491.9 1283.7 L494.2 1283.0 L496.6 1282.2 L499.0 1281.5 L501.3 1280.7 L503.7 1280.0 L506.1 1279.2 L508.4 1278.4 L510.7 1277.6 L513.1 1276.8 L515.4 1276.0 L517.8 1275.1 L520.1 1274.3 L522.4 1273.5 L524.8 1272.6 L527.1 1271.7 L529.4 1270.8 L531.7 1269.9 L534.0 1269.0 L536.3 1268.1 L538.6 1267.2 L540.9 1266.2 L543.2 1265.3 L545.5 1264.3 L547.8 1263.3 L550.1 1262.4 L552.4 1261.4 L554.7 1260.3 L556.9 1259.3 L559.2 1258.3 L561.5 1257.2 L563.7 1256.2 L566.0 1255.1 L568.2 1254.0 L570.5 1252.9 L572.7 1251.8 L574.9 1250.7 L577.2 1249.5 L579.4 1248.4 L581.6 1247.2 L583.9 1246.0 L586.1 1244.8 L588.3 1243.6 L590.5 1242.4 L592.7 1241.2 L594.9 1239.9 L597.1 1238.7 L599.2 1237.4 L601.4 1236.1 L603.6 1234.8 L605.7 1233.5 L607.9 1232.2 L610.0 1230.8 L612.1 1229.5 L614.3 1228.1 L616.4 1226.7 L618.5 1225.3 L620.6 1223.9 L622.6 1222.5 L624.7 1221.0 L626.8 1219.6 L628.8 1218.1 L630.8 1216.6 L632.8 1215.1 L634.8 1213.6 L636.8 1212.0 L638.8 1210.5 L640.8 1208.9 L642.7 1207.3 L644.6 1205.7 L646.5 1204.1 L648.4 1202.5 L650.3 1200.9 L652.2 1199.2 L654.0 1197.5 L655.8 1195.8 L657.7 1194.1 L659.4 1192.4 L661.2 1190.6 L663.0 1188.9 L664.7 1187.1 L666.4 1185.3 L668.1 1183.5 L669.7 1181.7 L671.4 1179.8 L673.0 1178.0 L674.6 1176.1 L676.2 1174.2 L677.8 1172.3 L679.3 1170.4 L680.8 1168.4 L682.3 1166.5 L683.7 1164.5 L685.2 1162.5 L686.6 1160.5 L688.0 1158.5 L689.3 1156.4 L690.7 1154.4 L692.0 1152.3 L693.3 1150.2 L694.6 1148.1 L695.8 1146.0 L697.0 1143.8 L698.3 1141.7 L699.4 1139.5 L700.6 1137.4 L701.8 1135.2 L702.9 1133.0 L704.0 1130.8 L705.1 1128.5 L706.2 1126.3 L707.3 1124.1 L708.3 1121.8 L709.3 1119.6 L710.4 1117.3 L711.3 1115.0 L712.3 1112.7 L713.3 1110.4 L714.2 1108.1 L715.2 1105.8 L716.1 1103.5 L717.0 1101.1 L717.9 1098.8 L718.8 1096.4 L719.7 1094.1 L720.5 1091.7 L721.4 1089.4 L722.2 1087.0 L723.0 1084.6 L723.9 1082.2 L724.7 1079.9 L725.5 1077.5 L726.3 1075.1 L727.0 1072.7 L727.8 1070.3 L728.6 1067.9 L729.3 1065.5 L730.1 1063.1 L730.8 1060.7 L731.5 1058.3 L732.3 1055.9 L733.0 1053.5 L733.7 1051.1 L734.4 1048.7 L735.1 1046.3 L735.8 1043.9 L736.5 1041.5 L737.2 1039.1 L737.9 1036.7 L738.6 1034.3 L739.3 1031.9 L740.0 1029.5 L740.6 1027.1 L741.3 1024.7 L742.0 1022.3 L742.7 1019.9 L743.3 1017.5 L744.0 1015.2 L744.7 1012.8 L745.3 1010.4 L746.0 1008.0 L746.7 1005.7 L747.3 1003.3 L748.0 1000.9 L748.7 998.5 L749.3 996.2 L750.0 993.8 L750.6 991.4 L751.3 989.0 L751.9 986.7 L752.6 984.3 L753.2 981.9 L753.9 979.6 L754.5 977.2 L755.2 974.8 L755.8 972.5 L756.5 970.1 L757.1 967.7 L757.8 965.4 L758.4 963.0 L759.1 960.7 L759.7 958.3 L760.4 955.9 L761.0 953.6 L761.7 951.2 L762.3 948.8 L763.0 946.5 L763.6 944.1 L764.3 941.7 L764.9 939.3 L765.6 937.0 L766.2 934.6 L766.9 932.2 L767.5 929.9 L768.2 927.5 L768.9 925.1 L769.5 922.7 L770.2 920.4 L770.8 918.0 L771.5 915.6 L772.2 913.2 L772.9 910.8 L773.5 908.4 L774.2 906.1 L774.9 903.7 L775.6 901.3 L776.2 898.9 L776.9 896.5 L777.6 894.1 L778.3 891.7 L779.0 889.3 L779.7 886.9 L780.4 884.5 L781.1 882.1 L781.8 879.7 L782.5 877.2 L783.3 874.8 L784.0 872.4 L784.7 870.0 L785.4 867.6 L786.2 865.2 L786.9 862.7 L787.6 860.3 L788.4 857.9 L789.2 855.5 L789.9 853.1 L790.7 850.7 L791.5 848.3 L792.2 845.9 L793.0 843.5 L793.8 841.2 L794.6 838.8 L795.5 836.4 L796.3 834.1 L797.1 831.7 L798.0 829.4 L798.8 827.1 L799.7 824.8 L800.6 822.5 L801.5 820.2 L802.4 817.9 L803.4 815.7 L804.4 813.5 L805.4 811.2 L806.6 809.1 L807.8 806.9 L809.1 804.7 L810.5 802.6 L812.0 800.5 L813.6 798.4 L815.4 796.4 L817.2 794.6 L819.2 792.9 L821.3 791.6 L823.5 790.6 L825.8 790.0 L828.1 789.9 L830.4 790.2 L832.6 791.0 L834.6 792.2 L836.6 793.7 L838.5 795.4 L840.3 797.3 L842.0 799.2 L843.7 801.1 L845.4 803.1 L847.0 805.1 L848.5 807.2 L850.0 809.2 L851.4 811.3 L852.8 813.4 L854.2 815.5 L855.5 817.7 L856.8 819.9 L858.0 822.0 L859.2 824.2 L860.4 826.5 L861.6 828.7 L862.7 830.9 L863.8 833.2 L864.9 835.4 L866.0 837.7 L867.1 840.0 L868.2 842.2 L869.2 844.5 L870.2 846.8 L871.3 849.1 L872.3 851.3 L873.3 853.6 L874.3 855.9 L875.4 858.2 L876.4 860.4 L877.3 862.7 L878.3 865.0 L879.3 867.3 L880.3 869.6 L881.3 871.8 L882.3 874.1 L883.2 876.4 L884.2 878.7 L885.1 881.0 L886.1 883.3 L887.1 885.6 L888.0 887.8 L889.0 890.1 L889.9 892.4 L890.8 894.7 L891.8 897.0 L892.7 899.3 L893.7 901.6 L894.6 903.8 L895.6 906.1 L896.5 908.4 L897.4 910.7 L898.4 913.0 L899.3 915.3 L900.3 917.6 L901.2 919.9 L902.2 922.1 L903.1 924.4 L904.1 926.7 L905.0 929.0 L906.0 931.3 L907.0 933.6 L907.9 935.8 L908.9 938.1 L909.9 940.4 L910.8 942.7 L911.8 945.0 L912.8 947.3 L913.8 949.5 L914.8 951.8 L915.8 954.1 L916.8 956.4 L917.9 958.6 L918.9 960.9 L919.9 963.2 L921.0 965.5 L922.0 967.7 L923.1 970.0 L924.1 972.3 L925.2 974.6 L926.3 976.8 L927.4 979.1 L928.5 981.4 L929.6 983.6 L930.7 985.9 L931.8 988.1 L932.9 990.4 L934.0 992.6 L935.2 994.9 L936.3 997.1 L937.5 999.4 L938.6 1001.6 L939.8 1003.9 L941.0 1006.1 L942.2 1008.4 L943.4 1010.6 L944.6 1012.8 L945.8 1015.0 L947.0 1017.3 L948.2 1019.5 L949.5 1021.7 L950.7 1023.9 L952.0 1026.1 L953.2 1028.3 L954.5 1030.5 L955.8 1032.7 L957.0 1034.9 L958.3 1037.1 L959.6 1039.3 L960.9 1041.5 L962.2 1043.6 L963.6 1045.8 L964.9 1048.0 L966.2 1050.1 L967.6 1052.3 L968.9 1054.4 L970.3 1056.6 L971.6 1058.7 L973.0 1060.9 L974.4 1063.0 L975.8 1065.1 L977.2 1067.2 L978.6 1069.3 L980.0 1071.4 L981.4 1073.5 L982.9 1075.6 L984.3 1077.7 L985.7 1079.8 L987.2 1081.9 L988.7 1083.9 L990.1 1086.0 L991.6 1088.0 L993.1 1090.1 L994.6 1092.1 L996.1 1094.2 L997.6 1096.2 L999.1 1098.2 L1000.6 1100.2 L1002.2 1102.2 L1003.7 1104.2 L1005.3 1106.2 L1006.8 1108.2 L1008.4 1110.1 L1009.9 1112.1 L1011.5 1114.0 L1013.1 1116.0 L1014.7 1117.9 L1016.3 1119.9 L1017.9 1121.8 L1019.6 1123.7 L1021.2 1125.6 L1022.8 1127.5 L1024.5 1129.4 L1026.1 1131.2 L1027.8 1133.1 L1029.5 1135.0 L1031.1 1136.8 L1032.8 1138.6 L1034.5 1140.5 L1036.2 1142.3 L1037.9 1144.1 L1039.6 1145.9 L1041.4 1147.7 L1043.1 1149.5 L1044.8 1151.2 L1046.6 1153.0 L1048.4 1154.7 L1050.1 1156.5 L1051.9 1158.2 L1053.7 1159.9 L1055.5 1161.6 L1057.3 1163.3 L1059.1 1165.0 L1060.9 1166.6 L1062.7 1168.3 L1064.6 1170.0 L1066.4 1171.6 L1068.2 1173.2 L1070.1 1174.8 L1072.0 1176.4 L1073.8 1178.0 L1075.7 1179.6 L1077.6 1181.1 L1079.5 1182.7 L1081.4 1184.2 L1083.3 1185.8 L1085.2 1187.3 L1087.2 1188.8 L1089.1 1190.3 L1091.1 1191.7 L1093.0 1193.2 L1095.0 1194.6 L1097.0 1196.1 L1098.9 1197.5 L1100.9 1198.9 L1102.9 1200.3 L1104.9 1201.7 L1106.9 1203.0 L1109.0 1204.4 L1111.0 1205.7 L1113.0 1207.1 L1115.1 1208.4 L1117.1 1209.7 L1119.2 1211.0 L1121.3 1212.2 L1123.3 1213.5 L1125.4 1214.7 L1127.5 1215.9 L1129.6 1217.2 L1131.7 1218.4 L1133.9 1219.6 L1136.0 1220.7 L1138.1 1221.9 L1140.3 1223.0 L1142.4 1224.2 L1144.6 1225.3 L1146.7 1226.4 L1148.9 1227.5 L1151.1 1228.6 L1153.2 1229.7 L1155.4 1230.8 L1157.6 1231.8 L1159.8 1232.8 L1162.0 1233.9 L1164.3 1234.9 L1166.5 1235.9 L1168.7 1236.9 L1170.9 1237.9 L1173.2 1238.8 L1175.4 1239.8 L1177.7 1240.7 L1180.0 1241.7 L1182.2 1242.6 L1184.5 1243.5 L1186.8 1244.4 L1189.1 1245.3 L1191.3 1246.2 L1193.6 1247.0 L1195.9 1247.9 L1198.3 1248.7 L1200.6 1249.6 L1202.9 1250.4 L1205.2 1251.2 L1207.5 1252.0 L1209.9 1252.8 L1212.2 1253.6 L1214.6 1254.4 L1216.9 1255.1 L1219.3 1255.9 L1221.6 1256.6 L1224.0 1257.4 L1226.4 1258.1 L1228.7 1258.8 L1231.1 1259.5 L1233.5 1260.2 L1235.9 1260.9 L1238.3 1261.6 L1240.7 1262.3 L1243.1 1262.9 L1245.5 1263.6 L1247.9 1264.2 L1250.3 1264.9 L1252.7 1265.5 L1255.2 1266.1 L1257.6 1266.7 L1260.0 1267.3 L1262.4 1267.9 L1264.9 1268.5 L1267.3 1269.1 L1269.8 1269.6 L1272.2 1270.2 L1274.7 1270.8 L1277.1 1271.3 L1279.6 1271.8 L1282.0 1272.4 L1284.5 1272.9 L1287.0 1273.4 L1289.5 1273.9 L1291.9 1274.4 L1294.4 1274.9 L1296.9 1275.4 L1299.4 1275.9 L1301.9 1276.3 L1304.3 1276.8 L1306.8 1277.3 L1309.3 1277.7 L1311.8 1278.2 L1314.3 1278.6 L1316.8 1279.0 L1319.3 1279.5 L1321.8 1279.9 L1324.3 1280.3 L1326.8 1280.7 L1329.4 1281.1 L1331.9 1281.5 L1334.4 1281.9 L1336.9 1282.3 L1339.4 1282.7 L1341.9 1283.1 L1344.5 1283.4 L1347.0 1283.8 L1349.5 1284.1 L1352.0 1284.5 L1354.6 1284.8 L1357.1 1285.2 L1359.6 1285.5 L1362.2 1285.9 L1364.7 1286.2 L1367.2 1286.5 L1369.8 1286.8 L1372.3 1287.2 L1374.8 1287.5 L1377.4 1287.8 L1379.9 1288.1 L1382.4 1288.4 L1385.0 1288.7 L1387.5 1289.0 L1390.0 1289.2 L1392.6 1289.5 L1395.1 1289.8 L1397.7 1290.1 L1400.2 1290.4 L1402.7 1290.6 L1405.3 1290.9 L1407.8 1291.2 L1410.4 1291.4 L1412.9 1291.7 L1415.4 1291.9 L1418.0 1292.2 L1420.5 1292.4 L1423.0 1292.7 L1425.6 1292.9 L1428.1 1293.2 L1430.6 1293.4 L1433.2 1293.6 L1435.7 1293.9 L1438.2 1294.1 L1440.8 1294.3 L1443.3 1294.5 L1445.8 1294.8 L1448.4 1295.0 L1450.9 1295.2 L1453.4 1295.4 L1455.9 1295.7 L1458.5 1295.9 L1461.0 1296.1 L1463.5 1296.3 L1466.0 1296.5 L1468.6 1296.7 L1471.1 1296.9 L1473.6 1297.1 L1476.1 1297.3 L1478.6 1297.5 L1481.2 1297.7 L1483.7 1297.9 L1486.2 1298.1 L1488.7 1298.3 L1491.2 1298.5 L1493.7 1298.7 L1496.2 1298.8 L1498.8 1299.0 L1501.3 1299.2 L1503.8 1299.4 L1506.3 1299.6 L1508.8 1299.7 L1511.3 1299.9 L1513.8 1300.1 L1516.3 1300.3 L1518.8 1300.4 L1521.3 1300.6 L1523.8 1300.8 L1526.3 1300.9 L1528.8 1301.1 L1531.3 1301.3 L1533.9 1301.4 L1536.4 1301.6 L1538.9 1301.7 L1541.4 1301.9 L1543.9 1302.0 L1546.4 1302.2 L1548.9 1302.3 L1551.3 1302.5 L1553.8 1302.6 L1556.3 1302.8 L1558.8 1302.9 L1561.3 1303.1 L1563.8 1303.2 L1566.3 1303.3 L1568.8 1303.5 L1571.3 1303.6 L1573.8 1303.8 L1576.3 1303.9 L1578.8 1304.0 L1581.3 1304.2 L1583.8 1304.3 L1586.3 1304.4 L1588.7 1304.5 L1591.2 1304.7 L1593.7 1304.8 L1596.2 1304.9 L1598.7 1305.0 L1601.2 1305.2 L1603.7 1305.3 L1606.2 1305.4 L1608.6 1305.5 L1611.1 1305.6 L1613.6 1305.8 L1616.1 1305.9 L1618.6 1306.0 L1621.1 1306.1 L1623.5 1306.2 L1626.0 1306.3 L1628.5 1306.4 L1631.0 1306.5 L1633.5 1306.7 L1636.0 1306.8 L1638.4 1306.9 L1640.9 1307.0 L1643.4 1307.1 L1645.9 1307.2 L1648.4 1307.3 L1650.8 1307.4 L1653.3 1307.5 L1655.8 1307.6 L1658.3 1307.7 L1660.8 1307.8 L1663.2 1307.9 L1665.7 1308.0 L1668.2 1308.1 L1670.7 1308.2 L1673.1 1308.3 L1675.6 1308.4 L1678.1 1308.4 L1680.6 1308.5 L1683.0 1308.6 L1685.5 1308.7 L1688.0 1308.8 L1690.5 1308.9 L1693.0 1309.0 L1695.4 1309.1 L1697.9 1309.2 L1700.4 1309.3 L1702.9 1309.3 L1705.3 1309.4 L1707.8 1309.5 L1710.3 1309.6 L1712.7 1309.7 L1715.2 1309.8 L1717.7 1309.8 L1720.2 1309.9 L1722.6 1310.0 L1725.1 1310.1 L1727.6 1310.2 L1730.1 1310.3 L1732.5 1310.3 L1735.0 1310.4 L1737.5 1310.5 L1740.0 1310.6 L1742.4 1310.7 L1744.9 1310.7 L1747.4 1310.8 L1749.8 1310.9 L1752.3 1311.0 L1754.8 1311.0 L1757.3 1311.1 L1759.7 1311.2 L1762.2 1311.3 L1764.7 1311.4 L1767.2 1311.4 L1769.6 1311.5 L1772.1 1311.6 L1774.6 1311.7 L1777.1 1311.7 L1779.5 1311.8 L1782.0 1311.9 L1784.5 1312.0 L1786.9 1312.0 L1789.4 1312.1 L1791.9 1312.2 L1794.4 1312.3 L1796.8 1312.3 L1799.3 1312.4 L1801.8 1312.5 L1804.3 1312.6 L1806.7 1312.6 L1809.2 1312.7 L1811.7 1312.8 L1814.2 1312.9 L1816.6 1313.0 L1819.1 1313.0 L1821.6 1313.1 L1824.1 1313.2 L1826.5 1313.3 L1829.0 1313.3 L1831.5 1313.4 L1834.0 1313.5 L1836.4 1313.6 L1838.9 1313.6 L1841.4 1313.7 L1843.9 1313.8 L1846.4 1313.9 L1848.8 1314.0 L1851.3 1314.0 L1853.8 1314.1 L1856.3 1314.2 L1858.7 1314.3 L1861.2 1314.4 L1863.7 1314.4 L1866.2 1314.5 L1868.7 1314.6 L1871.2 1314.7 L1873.6 1314.8 L1876.1 1314.9 L1878.6 1314.9 L1881.1 1315.0 L1883.6 1315.1 L1886.0 1315.2 L1888.5 1315.3 L1891.0 1315.4 L1893.5 1315.5 L1896.0 1315.5 L1898.5 1315.6 L1901.0 1315.7 L1903.4 1315.8 L1905.9 1315.9 L1908.4 1316.0 L1910.9 1316.1 L1913.4 1316.2 L1915.9 1316.3 L1918.4 1316.4 L1920.9 1316.5 L1923.3 1316.6 L1925.8 1316.7 L1928.3 1316.8 L1930.8 1316.9 L1933.3 1317.0 L1935.8 1317.1 L1938.3 1317.2 L1940.8 1317.3 L1943.3 1317.4 L1945.8 1317.5 L1948.3 1317.6 L1950.8 1317.7 L1953.3 1317.8 L1955.8 1317.9 L1958.3 1318.0 L1960.8 1318.1 L1963.3 1318.2 L1965.8 1318.3 L1968.3 1318.4 L1970.8 1318.5 L1973.3 1318.7 L1975.8 1318.8 L1978.3 1318.9 L1980.8 1319.0 L1983.3 1319.1 L1985.8 1319.2 L1988.3 1319.3 L1990.8 1319.5 L1993.3 1319.6 L1995.8 1319.7 L1998.3 1319.8 L2000.8 1319.9 L2003.3 1320.0 L2005.8 1320.2 L2008.3 1320.3 L2010.8 1320.4 L2013.3 1320.5 L2015.8 1320.6 L2018.3 1320.8 L2020.8 1320.9 L2023.4 1321.0 L2025.9 1321.1 L2028.4 1321.2 L2030.9 1321.4 L2033.4 1321.5 L2035.9 1321.6 L2038.4 1321.7 L2040.9 1321.8 L2043.4 1321.9 L2045.9 1322.1 L2048.5 1322.2 L2051.0 1322.3 L2053.5 1322.4 L2056.0 1322.5 L2058.5 1322.6 L2061.0 1322.8 L2063.5 1322.9 L2066.0 1323.0 L2068.6 1323.1 L2071.1 1323.2 L2073.6 1323.3 L2076.1 1323.4 L2078.6 1323.6 L2081.1 1323.7 L2083.6 1323.8 L2086.1 1323.9 L2088.7 1324.0 L2091.2 1324.1 L2093.7 1324.2 L2096.2 1324.3 L2098.7 1324.4 L2101.2 1324.5 L2103.7 1324.6 L2106.3 1324.7 L2108.8 1324.8 L2111.3 1324.9 L2113.8 1325.0 L2116.3 1325.1 L2118.8 1325.2 L2121.3 1325.3 L2123.9 1325.4 L2126.4 1325.5 L2128.9 1325.6 L2131.4 1325.7 L2133.9 1325.8 L2136.4 1325.9 L2138.9 1325.9 L2141.5 1326.0 L2144.0 1326.1 L2146.5 1326.2 L2149.0 1326.3 L2151.5 1326.3 L2154.0 1326.4 L2156.5 1326.5 L2159.0 1326.6 L2161.6 1326.6 L2164.1 1326.7 L2166.6 1326.8 L2169.1 1326.8 L2171.6 1326.9 L2174.1 1327.0 L2176.6 1327.0 L2179.1 1327.1 L2181.7 1327.1 L2184.2 1327.2 L2186.7 1327.2 L2189.2 1327.3 L2191.7 1327.3 L2194.2 1327.4 L2196.7 1327.4 L2199.2 1327.5 L2201.7 1327.5 L2204.2 1327.6 L2206.7 1327.6 L2209.2 1327.6 L2211.8 1327.6 L2214.3 1327.7 L2216.8 1327.7 L2219.3 1327.7 L2221.8 1327.7 L2224.3 1327.8 L2226.8 1327.8 L2229.3 1327.8 L2231.8 1327.8 L2234.3 1327.8 L2236.8 1327.8 L2239.3 1327.8 L2241.8 1327.8 L2244.3 1327.8 L2246.8 1327.8 L2249.3 1327.8 L2251.8 1327.8 L2254.3 1327.8 L2256.8 1327.7 L2259.3 1327.7 L2261.8 1327.7 L2264.3 1327.7 L2266.8 1327.6 L2269.3 1327.6 L2271.8 1327.6 L2274.3 1327.5 L2276.8 1327.5 L2279.3 1327.4 L2281.8 1327.4 L2284.3 1327.3 L2286.8 1327.3 L2289.2 1327.2 L2291.7 1327.1 L2294.2 1327.1 L2296.7 1327.0 L2299.2 1326.9 L2301.7 1326.8 L2304.2 1326.8 L2306.7 1326.7 L2309.2 1326.6 L2311.6 1326.5 L2314.1 1326.4 L2316.6 1326.3 L2319.1 1326.2 L2321.6 1326.1 L2324.1 1326.0 L2326.5 1325.9 L2329.0 1325.8 L2331.5 1325.6 L2334.0 1325.5 L2336.4 1325.4 L2338.9 1325.2 L2341.4 1325.1 L2343.9 1325.0 L2346.4 1324.8 L2348.8 1324.7 L2351.3 1324.5 L2353.8 1324.3 L2356.2 1324.2 L2358.7 1324.0 L2361.2 1323.8 L2363.6 1323.7 L2366.1 1323.5 L2368.6 1323.3 L2371.0 1323.1 L2373.5 1322.9 L2376.0 1322.7 L2378.4 1322.5 L2379.1 1322.5"/>
<path id="redC" stroke="#a2142f" d="M178.7 1329.3 L181.1 1329.0 L183.6 1328.8 L186.0 1328.6 L188.5 1328.3 L191.0 1328.1 L193.4 1327.9 L195.9 1327.6 L198.4 1327.4 L200.9 1327.2 L203.3 1326.9 L205.8 1326.7 L208.3 1326.5 L210.8 1326.3 L213.2 1326.0 L215.7 1325.8 L218.2 1325.6 L220.7 1325.4 L223.2 1325.2 L225.7 1324.9 L228.1 1324.7 L230.6 1324.5 L233.1 1324.3 L235.6 1324.1 L238.1 1323.8 L240.6 1323.6 L243.1 1323.4 L245.6 1323.2 L248.1 1323.0 L250.5 1322.7 L253.0 1322.5 L255.5 1322.3 L258.0 1322.1 L260.5 1321.9 L263.0 1321.6 L265.5 1321.4 L268.0 1321.2 L270.5 1320.9 L273.0 1320.7 L275.5 1320.5 L278.0 1320.3 L280.5 1320.0 L283.0 1319.8 L285.5 1319.5 L288.0 1319.3 L290.5 1319.1 L293.0 1318.8 L295.5 1318.6 L298.0 1318.3 L300.5 1318.1 L303.0 1317.8 L305.5 1317.6 L308.0 1317.3 L310.5 1317.1 L313.0 1316.8 L315.5 1316.5 L318.0 1316.3 L320.5 1316.0 L323.0 1315.7 L325.4 1315.4 L327.9 1315.1 L330.4 1314.9 L332.9 1314.6 L335.4 1314.3 L337.9 1314.0 L340.4 1313.7 L342.9 1313.4 L345.4 1313.1 L347.9 1312.8 L350.4 1312.4 L352.8 1312.1 L355.3 1311.8 L357.8 1311.5 L360.3 1311.1 L362.8 1310.8 L365.3 1310.4 L367.7 1310.1 L370.2 1309.7 L372.7 1309.4 L375.2 1309.0 L377.7 1308.7 L380.1 1308.3 L382.6 1307.9 L385.1 1307.5 L387.5 1307.1 L390.0 1306.7 L392.5 1306.3 L394.9 1305.9 L397.4 1305.5 L399.9 1305.1 L402.3 1304.7 L404.8 1304.2 L407.3 1303.8 L409.7 1303.3 L412.2 1302.9 L414.6 1302.4 L417.1 1302.0 L419.5 1301.5 L422.0 1301.0 L424.4 1300.5 L426.8 1300.0 L429.3 1299.5 L431.7 1299.0 L434.2 1298.5 L436.6 1298.0 L439.0 1297.5 L441.5 1296.9 L443.9 1296.4 L446.3 1295.8 L448.7 1295.3 L451.1 1294.7 L453.6 1294.1 L456.0 1293.5 L458.4 1292.9 L460.8 1292.3 L463.2 1291.7 L465.6 1291.1 L468.0 1290.5 L470.4 1289.8 L472.8 1289.2 L475.2 1288.5 L477.6 1287.9 L480.0 1287.2 L482.4 1286.5 L484.8 1285.8 L487.1 1285.1 L489.5 1284.4 L491.9 1283.7 L494.2 1283.0 L496.6 1282.2 L499.0 1281.5 L501.3 1280.7 L503.7 1280.0 L506.1 1279.2 L508.4 1278.4 L510.7 1277.6 L513.1 1276.8 L515.4 1276.0 L517.8 1275.1 L520.1 1274.3 L522.4 1273.5 L524.8 1272.6 L527.1 1271.7 L529.4 1270.8 L531.7 1269.9 L534.0 1269.0 L536.3 1268.1 L538.6 1267.2 L540.9 1266.2 L543.2 1265.3 L545.5 1264.3 L547.8 1263.3 L550.1 1262.4 L552.4 1261.4 L554.7 1260.3 L556.9 1259.3 L559.2 1258.3 L561.5 1257.2 L563.7 1256.2 L566.0 1255.1 L568.2 1254.0 L570.5 1252.9 L572.7 1251.8 L574.9 1250.7 L577.2 1249.5 L579.4 1248.4 L581.6 1247.2 L583.9 1246.0 L586.1 1244.8 L588.3 1243.6 L590.5 1242.4 L592.7 1241.2 L594.9 1239.9 L597.1 1238.7 L599.2 1237.4 L601.4 1236.1 L603.6 1234.8 L605.7 1233.5 L607.9 1232.2 L610.0 1230.8 L612.1 1229.5 L614.3 1228.1 L616.4 1226.7 L618.5 1225.3 L620.6 1223.9 L622.6 1222.5 L624.7 1221.0 L626.8 1219.6 L628.8 1218.1 L630.8 1216.6 L632.8 1215.1 L634.8 1213.6 L636.8 1212.0 L638.8 1210.5 L640.8 1208.9 L642.7 1207.3 L644.6 1205.7 L646.5 1204.1 L648.4 1202.5 L650.3 1200.9 L652.2 1199.2 L654.0 1197.5 L655.8 1195.8 L657.7 1194.1 L659.4 1192.4 L661.2 1190.6 L663.0 1188.9 L664.7 1187.1 L666.4 1185.3 L668.1 1183.5 L669.7 1181.7 L671.4 1179.8 L673.0 1178.0 L674.6 1176.1 L676.2 1174.2 L677.8 1172.3 L679.3 1170.4 L680.8 1168.4 L682.3 1166.5 L683.7 1164.5 L685.2 1162.5 L686.6 1160.5 L688.0 1158.5 L689.3 1156.4 L690.7 1154.4 L692.0 1152.3 L693.3 1150.2 L694.6 1148.1 L695.8 1146.0 L697.0 1143.8 L698.3 1141.7 L699.4 1139.5 L700.6 1137.4 L701.8 1135.2 L702.9 1133.0 L704.0 1130.8 L705.1 1128.5 L706.2 1126.3 L707.3 1124.1 L708.3 1121.8 L709.3 1119.6 L710.4 1117.3 L711.3 1115.0 L712.3 1112.7 L713.3 1110.4 L714.2 1108.1 L715.2 1105.8 L716.1 1103.5 L717.0 1101.1 L717.9 1098.8 L718.8 1096.4 L719.7 1094.1 L720.5 1091.7 L721.4 1089.4 L722.2 1087.0 L723.0 1084.6 L723.9 1082.2 L724.7 1079.9 L725.5 1077.5 L726.3 1075.1 L727.0 1072.7 L727.8 1070.3 L728.6 1067.9 L729.3 1065.5 L730.1 1063.1 L730.8 1060.7 L731.5 1058.3 L732.3 1055.9 L733.0 1053.5 L733.7 1051.1 L734.4 1048.7 L735.1 1046.3 L735.8 1043.9 L736.5 1041.5 L737.2 1039.1 L737.9 1036.7 L738.6 1034.3 L739.3 1031.9 L740.0 1029.5 L740.6 1027.1 L741.3 1024.7 L742.0 1022.3 L742.7 1019.9 L743.3 1017.5 L744.0 1015.2 L744.7 1012.8 L745.3 1010.4 L746.0 1008.0 L746.7 1005.7 L747.3 1003.3 L748.0 1000.9 L748.7 998.5 L749.3 996.2 L750.0 993.8 L750.6 991.4 L751.3 989.0 L751.9 986.7 L752.6 984.3 L753.2 981.9 L753.9 979.6 L754.5 977.2 L755.2 974.8 L755.8 972.5 L756.5 970.1 L757.1 967.7 L757.8 965.4 L758.4 963.0 L759.1 960.7 L759.7 958.3 L760.4 955.9 L761.0 953.6 L761.7 951.2 L762.3 948.8 L763.0 946.5 L763.6 944.1 L764.3 941.7 L764.9 939.3 L765.6 937.0 L766.2 934.6 L766.9 932.2 L767.5 929.9 L768.2 927.5 L768.9 925.1 L769.5 922.7 L770.2 920.4 L770.8 918.0 L771.5 915.6 L772.2 913.2 L772.9 910.8 L773.5 908.4 L774.2 906.1 L774.9 903.7 L775.6 901.3 L776.2 898.9 L776.9 896.5 L777.6 894.1 L778.3 891.7 L779.0 889.3 L779.7 886.9 L780.4 884.5 L781.1 882.1 L781.8 879.7 L782.5 877.2 L783.3 874.8 L784.0 872.4 L784.7 870.0 L785.4 867.6 L786.2 865.2 L786.9 862.7 L787.6 860.3 L788.4 857.9 L789.2 855.5 L789.9 853.1 L790.7 850.7 L791.5 848.3 L792.2 845.9 L793.0 843.5 L793.8 841.2 L794.6 838.8 L795.5 836.4 L796.3 834.1 L797.1 831.7 L798.0 829.4 L798.8 827.1 L799.7 824.8 L800.6 822.5 L801.5 820.2 L802.4 817.9 L803.4 815.7 L804.4 813.5 L805.4 811.2 L806.6 809.1 L807.8 806.9 L809.1 804.7 L810.5 802.6 L812.0 800.5 L813.6 798.4 L815.4 796.4 L817.2 794.6 L819.2 792.9 L821.3 791.6 L823.5 790.6 L825.8 790.0 L828.1 789.9 L830.4 790.2 L832.6 791.0 L834.6 792.2 L836.6 793.7 L838.5 795.4 L840.3 797.3 L842.0 799.2 L843.7 801.1 L845.4 803.1 L847.0 805.1 L848.5 807.2 L850.0 809.2 L851.4 811.3 L852.8 813.4 L854.2 815.5 L855.5 817.7 L856.8 819.9 L858.0 822.0 L859.2 824.2 L860.4 826.5 L861.6 828.7 L862.7 830.9 L863.8 833.2 L864.9 835.4 L866.0 837.7 L867.1 840.0 L868.2 842.2 L869.2 844.5 L870.2 846.8 L871.3 849.1 L872.3 851.3 L873.3 853.6 L874.3 855.9 L875.4 858.2 L876.4 860.4 L877.3 862.7 L878.3 865.0 L879.3 867.3 L880.3 869.6 L881.3 871.8 L882.3 874.1 L883.2 876.4 L884.2 878.7 L885.1 881.0 L886.1 883.3 L887.1 885.6 L888.0 887.8 L889.0 890.1 L889.9 892.4 L890.8 894.7 L891.8 897.0 L892.7 899.3 L893.7 901.6 L894.6 903.8 L895.6 906.1 L896.5 908.4 L897.4 910.7 L898.4 913.0 L899.3 915.3 L900.3 917.6 L901.2 919.9 L902.2 922.1 L903.1 924.4 L904.1 926.7 L905.0 929.0 L906.0 931.3 L907.0 933.6 L907.9 935.8 L908.9 938.1 L909.9 940.4 L910.8 942.7 L911.8 945.0 L912.8 947.3 L913.8 949.5 L914.8 951.8 L915.8 954.1 L916.8 956.4 L917.9 958.6 L918.9 960.9 L919.9 963.2 L921.0 965.5 L922.0 967.7 L923.1 970.0 L924.1 972.3 L925.2 974.6 L926.3 976.8 L927.4 979.1 L928.5 981.4 L929.6 983.6 L930.7 985.9 L931.8 988.1 L932.9 990.4 L934.0 992.6 L935.2 994.9 L936.3 997.1 L937.5 999.4 L938.6 1001.6 L939.8 1003.9 L941.0 1006.1 L942.2 1008.4 L943.4 1010.6 L944.6 1012.8 L945.8 1015.0 L947.0 1017.3 L948.2 1019.5 L949.5 1021.7 L950.7 1023.9 L952.0 1026.1 L953.2 1028.3 L954.5 1030.5 L955.8 1032.7 L957.0 1034.9 L958.3 1037.1 L959.6 1039.3 L960.9 1041.5 L962.2 1043.6 L963.6 1045.8 L964.9 1048.0 L966.2 1050.1 L967.6 1052.3 L968.9 1054.4 L970.3 1056.6 L971.6 1058.7 L973.0 1060.9 L974.4 1063.0 L975.8 1065.1 L977.2 1067.2 L978.6 1069.3 L980.0 1071.4 L981.4 1073.5 L982.9 1075.6 L984.3 1077.7 L985.7 1079.8 L987.2 1081.9 L988.7 1083.9 L990.1 1086.0 L991.6 1088.0 L993.1 1090.1 L994.6 1092.1 L996.1 1094.2 L997.6 1096.2 L999.1 1098.2 L1000.6 1100.2 L1002.2 1102.2 L1003.7 1104.2 L1005.3 1106.2 L1006.8 1108.2 L1008.4 1110.1 L1009.9 1112.1 L1011.5 1114.0 L1013.1 1116.0 L1014.7 1117.9 L1016.3 1119.9 L1017.9 1121.8 L1019.6 1123.7 L1021.2 1125.6 L1022.8 1127.5 L1024.5 1129.4 L1026.1 1131.2 L1027.8 1133.1 L1029.5 1135.0 L1031.1 1136.8 L1032.8 1138.6 L1034.5 1140.5 L1036.2 1142.3 L1037.9 1144.1 L1039.6 1145.9 L1041.4 1147.7 L1043.1 1149.5 L1044.8 1151.2 L1046.6 1153.0 L1048.4 1154.7 L1050.1 1156.5 L1051.9 1158.2 L1053.7 1159.9 L1055.5 1161.6 L1057.3 1163.3 L1059.1 1165.0 L1060.9 1166.6 L1062.7 1168.3 L1064.6 1170.0 L1066.4 1171.6 L1068.2 1173.2 L1070.1 1174.8 L1072.0 1176.4 L1073.8 1178.0 L1075.7 1179.6 L1077.6 1181.1 L1079.5 1182.7 L1081.4 1184.2 L1083.3 1185.8 L1085.2 1187.3 L1087.2 1188.8 L1089.1 1190.3 L1091.1 1191.7 L1093.0 1193.2 L1095.0 1194.6 L1097.0 1196.1 L1098.9 1197.5 L1100.9 1198.9 L1102.9 1200.3 L1104.9 1201.7 L1106.9 1203.0 L1109.0 1204.4 L1111.0 1205.7 L1113.0 1207.1 L1115.1 1208.4 L1117.1 1209.7 L1119.2 1211.0 L1121.3 1212.2 L1123.3 1213.5 L1125.4 1214.7 L1127.5 1215.9 L1129.6 1217.2 L1131.7 1218.4 L1133.9 1219.6 L1136.0 1220.7 L1138.1 1221.9 L1140.3 1223.0 L1142.4 1224.2 L1144.6 1225.3 L1146.7 1226.4 L1148.9 1227.5 L1151.1 1228.6 L1153.2 1229.7 L1155.4 1230.8 L1157.6 1231.8 L1159.8 1232.8 L1162.0 1233.9 L1164.3 1234.9 L1166.5 1235.9 L1168.7 1236.9 L1170.9 1237.9 L1173.2 1238.8 L1175.4 1239.8 L1177.7 1240.7 L1180.0 1241.7 L1182.2 1242.6 L1184.5 1243.5 L1186.8 1244.4 L1189.1 1245.3 L1191.3 1246.2 L1193.6 1247.0 L1195.9 1247.9 L1198.3 1248.7 L1200.6 1249.6 L1202.9 1250.4 L1205.2 1251.2 L1207.5 1252.0 L1209.9 1252.8 L1212.2 1253.6 L1214.6 1254.4 L1216.9 1255.1 L1219.3 1255.9 L1221.6 1256.6 L1224.0 1257.4 L1226.4 1258.1 L1228.7 1258.8 L1231.1 1259.5 L1233.5 1260.2 L1235.9 1260.9 L1238.3 1261.6 L1240.7 1262.3 L1243.1 1262.9 L1245.5 1263.6 L1247.9 1264.2 L1250.3 1264.9 L1252.7 1265.5 L1255.2 1266.1 L1257.6 1266.7 L1260.0 1267.3 L1262.4 1267.9 L1264.9 1268.5 L1267.3 1269.1 L1269.8 1269.6 L1272.2 1270.2 L1274.7 1270.8 L1277.1 1271.3 L1279.6 1271.8 L1282.0 1272.4 L1284.5 1272.9 L1287.0 1273.4 L1289.5 1273.9 L1291.9 1274.4 L1294.4 1274.9 L1296.9 1275.4 L1299.4 1275.9 L1301.9 1276.3 L1304.3 1276.8 L1306.8 1277.3 L1309.3 1277.7 L1311.8 1278.2 L1314.3 1278.6 L1316.8 1279.0 L1319.3 1279.5 L1321.8 1279.9 L1324.3 1280.3 L1326.8 1280.7 L1329.4 1281.1 L1331.9 1281.5 L1334.4 1281.9 L1336.9 1282.3 L1339.4 1282.7 L1341.9 1283.1 L1344.5 1283.4 L1347.0 1283.8 L1349.5 1284.1 L1352.0 1284.5 L1354.6 1284.8 L1357.1 1285.2 L1359.6 1285.5 L1362.2 1285.9 L1364.7 1286.2 L1367.2 1286.5 L1369.8 1286.8 L1372.3 1287.2 L1374.8 1287.5 L1377.4 1287.8 L1379.9 1288.1 L1382.4 1288.4 L1385.0 1288.7 L1387.5 1289.0 L1390.0 1289.2 L1392.6 1289.5 L1395.1 1289.8 L1397.7 1290.1 L1400.2 1290.4 L1402.7 1290.6 L1405.3 1290.9 L1407.8 1291.2 L1410.4 1291.4 L1412.9 1291.7 L1415.4 1291.9 L1418.0 1292.2 L1420.5 1292.4 L1423.0 1292.7 L1425.6 1292.9 L1428.1 1293.2 L1430.6 1293.4 L1433.2 1293.6 L1435.7 1293.9 L1438.2 1294.1 L1440.8 1294.3 L1443.3 1294.5 L1445.8 1294.8 L1448.4 1295.0 L1450.9 1295.2 L1453.4 1295.4 L1455.9 1295.7 L1458.5 1295.9 L1461.0 1296.1 L1463.5 1296.3 L1466.0 1296.5 L1468.6 1296.7 L1471.1 1296.9 L1473.6 1297.1 L1476.1 1297.3 L1478.6 1297.5 L1481.2 1297.7 L1483.7 1297.9 L1486.2 1298.1 L1488.7 1298.3 L1491.2 1298.5 L1493.7 1298.7 L1496.2 1298.8 L1498.8 1299.0 L1501.3 1299.2 L1503.8 1299.4 L1506.3 1299.6 L1508.8 1299.7 L1511.3 1299.9 L1513.8 1300.1 L1516.3 1300.3 L1518.8 1300.4 L1521.3 1300.6 L1523.8 1300.8 L1526.3 1300.9 L1528.8 1301.1 L1531.3 1301.3 L1533.9 1301.4 L1536.4 1301.6 L1538.9 1301.7 L1541.4 1301.9 L1543.9 1302.0 L1546.4 1302.2 L1548.9 1302.3 L1551.3 1302.5 L1553.8 1302.6 L1556.3 1302.8 L1558.8 1302.9 L1561.3 1303.1 L1563.8 1303.2 L1566.3 1303.3 L1568.8 1303.5 L1571.3 1303.6 L1573.8 1303.8 L1576.3 1303.9 L1578.8 1304.0 L1581.3 1304.2 L1583.8 1304.3 L1586.3 1304.4 L1588.7 1304.5 L1591.2 1304.7 L1593.7 1304.8 L1596.2 1304.9 L1598.7 1305.0 L1601.2 1305.2 L1603.7 1305.3 L1606.2 1305.4 L1608.6 1305.5 L1611.1 1305.6 L1613.6 1305.8 L1616.1 1305.9 L1618.6 1306.0 L1621.1 1306.1 L1623.5 1306.2 L1626.0 1306.3 L1628.5 1306.4 L1631.0 1306.5 L1633.5 1306.7 L1636.0 1306.8 L1638.4 1306.9 L1640.9 1307.0 L1643.4 1307.1 L1645.9 1307.2 L1648.4 1307.3 L1650.8 1307.4 L1653.3 1307.5 L1655.8 1307.6 L1658.3 1307.7 L1660.8 1307.8 L1663.2 1307.9 L1665.7 1308.0 L1668.2 1308.1 L1670.7 1308.2 L1673.1 1308.3 L1675.6 1308.4 L1678.1 1308.4 L1680.6 1308.5 L1683.0 1308.6 L1685.5 1308.7 L1688.0 1308.8 L1690.5 1308.9 L1693.0 1309.0 L1695.4 1309.1 L1697.9 1309.2 L1700.4 1309.3 L1702.9 1309.3 L1705.3 1309.4 L1707.8 1309.5 L1710.3 1309.6 L1712.7 1309.7 L1715.2 1309.8 L1717.7 1309.8 L1720.2 1309.9 L1722.6 1310.0 L1725.1 1310.1 L1727.6 1310.2 L1730.1 1310.3 L1732.5 1310.3 L1735.0 1310.4 L1737.5 1310.5 L1740.0 1310.6 L1742.4 1310.7 L1744.9 1310.7 L1747.4 1310.8 L1749.8 1310.9 L1752.3 1311.0 L1754.8 1311.0 L1757.3 1311.1 L1759.7 1311.2 L1762.2 1311.3 L1764.7 1311.4 L1767.2 1311.4 L1769.6 1311.5 L1772.1 1311.6 L1774.6 1311.7 L1777.1 1311.7 L1779.5 1311.8 L1782.0 1311.9 L1784.5 1312.0 L1786.9 1312.0 L1789.4 1312.1 L1791.9 1312.2 L1794.4 1312.3 L1796.8 1312.3 L1799.3 1312.4 L1801.8 1312.5 L1804.3 1312.6 L1806.7 1312.6 L1809.2 1312.7 L1811.7 1312.8 L1814.2 1312.9 L1816.6 1313.0 L1819.1 1313.0 L1821.6 1313.1 L1824.1 1313.2 L1826.5 1313.3 L1829.0 1313.3 L1831.5 1313.4 L1834.0 1313.5 L1836.4 1313.6 L1838.9 1313.6 L1841.4 1313.7 L1843.9 1313.8 L1846.4 1313.9 L1848.8 1314.0 L1851.3 1314.0 L1853.8 1314.1 L1856.3 1314.2 L1858.7 1314.3 L1861.2 1314.4 L1863.7 1314.4 L1866.2 1314.5 L1868.7 1314.6 L1871.2 1314.7 L1873.6 1314.8 L1876.1 1314.9 L1878.6 1314.9 L1881.1 1315.0 L1883.6 1315.1 L1886.0 1315.2 L1888.5 1315.3 L1891.0 1315.4 L1893.5 1315.5 L1896.0 1315.5 L1898.5 1315.6 L1901.0 1315.7 L1903.4 1315.8 L1905.9 1315.9 L1908.4 1316.0 L1910.9 1316.1 L1913.4 1316.2 L1915.9 1316.3 L1918.4 1316.4 L1920.9 1316.5 L1923.3 1316.6 L1925.8 1316.7 L1928.3 1316.8 L1930.8 1316.9 L1933.3 1317.0 L1935.8 1317.1 L1938.3 1317.2 L1940.8 1317.3 L1943.3 1317.4 L1945.8 1317.5 L1948.3 1317.6 L1950.8 1317.7 L1953.3 1317.8 L1955.8 1317.9 L1958.3 1318.0 L1960.8 1318.1 L1963.3 1318.2 L1965.8 1318.3 L1968.3 1318.4 L1970.8 1318.5 L1973.3 1318.7 L1975.8 1318.8 L1978.3 1318.9 L1980.8 1319.0 L1983.3 1319.1 L1985.8 1319.2 L1988.3 1319.3 L1990.8 1319.5 L1993.3 1319.6 L1995.8 1319.7 L1998.3 1319.8 L2000.8 1319.9 L2003.3 1320.0 L2005.8 1320.2 L2008.3 1320.3 L2010.8 1320.4 L2013.3 1320.5 L2015.8 1320.6 L2018.3 1320.8 L2020.8 1320.9 L2023.4 1321.0 L2025.9 1321.1 L2028.4 1321.2 L2030.9 1321.4 L2033.4 1321.5 L2035.9 1321.6 L2038.4 1321.7 L2040.9 1321.8 L2043.4 1321.9 L2045.9 1322.1 L2048.5 1322.2 L2051.0 1322.3 L2053.5 1322.4 L2056.0 1322.5 L2058.5 1322.6 L2061.0 1322.8 L2063.5 1322.9 L2066.0 1323.0 L2068.6 1323.1 L2071.1 1323.2 L2073.6 1323.3 L2076.1 1323.4 L2078.6 1323.6 L2081.1 1323.7 L2083.6 1323.8 L2086.1 1323.9 L2088.7 1324.0 L2091.2 1324.1 L2093.7 1324.2 L2096.2 1324.3 L2098.7 1324.4 L2101.2 1324.5 L2103.7 1324.6 L2106.3 1324.7 L2108.8 1324.8 L2111.3 1324.9 L2113.8 1325.0 L2116.3 1325.1 L2118.8 1325.2 L2121.3 1325.3 L2123.9 1325.4 L2126.4 1325.5 L2128.9 1325.6 L2131.4 1325.7 L2133.9 1325.8 L2136.4 1325.9 L2138.9 1325.9 L2141.5 1326.0 L2144.0 1326.1 L2146.5 1326.2 L2149.0 1326.3 L2151.5 1326.3 L2154.0 1326.4 L2156.5 1326.5 L2159.0 1326.6 L2161.6 1326.6 L2164.1 1326.7 L2166.6 1326.8 L2169.1 1326.8 L2171.6 1326.9 L2174.1 1327.0 L2176.6 1327.0 L2179.1 1327.1 L2181.7 1327.1 L2184.2 1327.2 L2186.7 1327.2 L2189.2 1327.3 L2191.7 1327.3 L2194.2 1327.4 L2196.7 1327.4 L2199.2 1327.5 L2201.7 1327.5 L2204.2 1327.6 L2206.7 1327.6 L2209.2 1327.6 L2211.8 1327.6 L2214.3 1327.7 L2216.8 1327.7 L2219.3 1327.7 L2221.8 1327.7 L2224.3 1327.8 L2226.8 1327.8 L2229.3 1327.8 L2231.8 1327.8 L2234.3 1327.8 L2236.8 1327.8 L2239.3 1327.8 L2241.8 1327.8 L2244.3 1327.8 L2246.8 1327.8 L2249.3 1327.8 L2251.8 1327.8 L2254.3 1327.8 L2256.8 1327.7 L2259.3 1327.7 L2261.8 1327.7 L2264.3 1327.7 L2266.8 1327.6 L2269.3 1327.6 L2271.8 1327.6 L2274.3 1327.5 L2276.8 1327.5 L2279.3 1327.4 L2281.8 1327.4 L2284.3 1327.3 L2286.8 1327.3 L2289.2 1327.2 L2291.7 1327.1 L2294.2 1327.1 L2296.7 1327.0 L2299.2 1326.9 L2301.7 1326.8 L2304.2 1326.8 L2306.7 1326.7 L2309.2 1326.6 L2311.6 1326.5 L2314.1 1326.4 L2316.6 1326.3 L2319.1 1326.2 L2321.6 1326.1 L2324.1 1326.0 L2326.5 1325.9 L2329.0 1325.8 L2331.5 1325.6 L2334.0 1325.5 L2336.4 1325.4 L2338.9 1325.2 L2341.4 1325.1 L2343.9 1325.0 L2346.4 1324.8 L2348.8 1324.7 L2351.3 1324.5 L2353.8 1324.3 L2356.2 1324.2 L2358.7 1324.0 L2361.2 1323.8 L2363.6 1323.7 L2366.1 1323.5 L2368.6 1323.3 L2371.0 1323.1 L2373.5 1322.9 L2376.0 1322.7 L2378.4 1322.5 L2379.1 1322.5"/>
<path stroke="#0072bd" stroke-width="3.8000000000000003" shape-rendering="geometricPrecision" d="M213.1 1328.3 L216.4 1328.1 L219.4 1328.0 L222.4 1327.8 L225.4 1327.6 L228.4 1327.4 L231.4 1327.2 L234.4 1327.0 L237.4 1326.8 L240.4 1326.7 L242.7 1326.5 M259.4 1325.4 L262.4 1325.1 L265.4 1324.9 L268.4 1324.7 L271.4 1324.5 L274.4 1324.2 L277.4 1324.0 L280.4 1323.8 L283.4 1323.5 L286.4 1323.3 L289.1 1323.0 M305.8 1321.5 L309.3 1321.2 L312.3 1320.9 L315.3 1320.6 L318.3 1320.3 L321.3 1320.0 L324.2 1319.7 L327.2 1319.3 L330.2 1319.0 L334.2 1318.6 L335.6 1318.4 M352.3 1316.4 L356.0 1315.9 L359.9 1315.3 L363.9 1314.8 L367.9 1314.2 L371.8 1313.7 L375.7 1313.1 L379.7 1312.5 L381.6 1312.2 M398.1 1309.4 L401.3 1308.9 L405.2 1308.2 L409.1 1307.4 L413.1 1306.7 L417.0 1305.9 L420.9 1305.1 L424.8 1304.4 L427.4 1303.8 M443.8 1300.2 L447.1 1299.4 L451.0 1298.5 L454.8 1297.5 L458.7 1296.6 L462.5 1295.6 L466.4 1294.6 L470.2 1293.5 L472.6 1292.9 M488.7 1288.2 L492.2 1287.1 L496.0 1286.0 L499.8 1284.7 L503.6 1283.5 L507.4 1282.2 L511.2 1281.0 L514.9 1279.7 L517.0 1278.9 M532.7 1273.1 L535.6 1272.0 L538.4 1270.9 L541.2 1269.8 L544.0 1268.6 L546.8 1267.5 L549.5 1266.3 L552.3 1265.1 L555.1 1263.9 L557.9 1262.7 L560.2 1261.6 M575.4 1254.5 L578.9 1252.8 L581.6 1251.4 L584.3 1250.1 L586.9 1248.7 L589.6 1247.2 L592.3 1245.8 L594.9 1244.4 L597.6 1242.9 L600.2 1241.4 L601.8 1240.5 M616.1 1231.8 L619.2 1229.9 L621.7 1228.3 L624.2 1226.6 L626.7 1224.9 L629.2 1223.2 L631.6 1221.5 L634.1 1219.7 L636.5 1218.0 L638.9 1216.2 L640.7 1214.9 M653.8 1204.4 L656.8 1201.8 L659.8 1199.2 L662.7 1196.5 L665.7 1193.8 L668.5 1191.1 L671.4 1188.3 L674.2 1185.5 L675.6 1184.0 M686.9 1171.5 L689.4 1168.5 L691.9 1165.4 L694.3 1162.2 L696.7 1159.1 L699.0 1155.9 L701.3 1152.6 L703.6 1149.3 L704.7 1147.6 M713.4 1133.3 L715.3 1129.8 L717.2 1126.3 L718.9 1122.8 L720.7 1119.3 L722.3 1115.7 L723.9 1112.1 L725.4 1108.5 L726.3 1106.4 M731.9 1090.6 L732.8 1087.3 L733.9 1083.6 L734.9 1079.8 L735.8 1076.1 L736.7 1072.3 L737.5 1068.5 L738.3 1064.7 L738.9 1061.7 M742.0 1045.1 L742.5 1041.9 L743.2 1038.1 L743.8 1034.2 L744.5 1030.4 L745.2 1026.6 L745.9 1022.8 L746.6 1019.0 L747.3 1015.8 M750.7 999.3 L751.4 996.3 L752.2 992.5 L753.1 988.7 L754.0 984.9 L754.9 981.2 L755.8 977.4 L756.7 973.6 L757.5 970.5 M761.7 954.3 L762.6 950.9 L763.6 947.1 L764.6 943.4 L765.6 939.6 L766.6 935.8 L767.7 932.0 L768.7 928.2 L769.4 925.5 M773.9 909.3 L774.7 906.2 L775.8 902.3 L776.8 898.5 L777.6 895.6 L778.4 892.7 L779.2 889.8 L780.0 886.8 L780.8 883.9 L781.7 880.6 M786.0 864.3 L786.8 861.4 L787.6 858.4 L788.3 855.4 L789.1 852.4 L789.9 849.5 L790.7 846.5 L791.5 843.5 L792.3 840.6 L793.2 837.7 L793.8 835.6 M799.9 819.8 L801.7 816.3 L803.6 812.9 L805.7 809.6 L808.0 806.5 L810.5 803.4 L813.2 800.5 L816.2 797.9 L819.9 795.9 M834.5 803.1 L836.5 805.3 L838.5 807.5 L840.5 809.8 L843.0 813.0 L845.2 816.2 L847.4 819.5 L849.4 822.9 L851.3 826.4 L851.8 827.3 M859.5 842.4 L860.8 845.1 L862.1 847.8 L863.4 850.5 L864.6 853.3 L865.9 856.0 L867.1 858.7 L868.3 861.5 L869.6 864.3 L870.8 867.0 L872.2 870.2 M879.0 885.7 L880.5 889.0 L881.7 891.8 L882.9 894.5 L884.6 898.2 L886.2 901.8 L887.8 905.5 L889.4 909.1 L891.1 912.9 M898.0 928.3 L899.6 931.9 L901.2 935.5 L902.9 939.1 L904.5 942.8 L906.2 946.4 L907.9 950.0 L909.5 953.6 L910.3 955.2 M917.4 970.3 L918.9 973.4 L920.6 977.0 L922.3 980.6 L924.1 984.2 L925.8 987.7 L927.6 991.3 L929.4 994.9 L930.4 996.9 M938.0 1011.8 L939.4 1014.4 L940.8 1017.1 L942.2 1019.8 L943.6 1022.4 L945.1 1025.1 L946.5 1027.7 L947.9 1030.3 L949.4 1033.0 L950.8 1035.6 L952.2 1038.0 M960.5 1052.5 L962.4 1055.7 L963.9 1058.3 L965.5 1060.9 L967.1 1063.5 L968.7 1066.1 L970.3 1068.6 L971.9 1071.2 L973.5 1073.8 L975.1 1076.3 L976.1 1077.9 M985.5 1091.9 L987.5 1094.7 L989.2 1097.2 L990.9 1099.6 L992.7 1102.1 L994.5 1104.5 L996.3 1106.9 L998.1 1109.3 L999.9 1111.7 L1001.7 1114.1 L1003.1 1115.9 M1013.7 1128.9 L1016.3 1131.9 L1018.9 1134.9 L1021.6 1137.9 L1024.3 1140.9 L1027.0 1143.8 L1029.7 1146.7 L1032.5 1149.5 L1033.8 1150.9 M1045.9 1162.5 L1048.3 1164.6 L1051.3 1167.2 L1054.3 1169.8 L1057.3 1172.4 L1060.4 1174.9 L1063.5 1177.4 L1066.6 1179.9 L1068.9 1181.7 M1082.5 1191.6 L1085.1 1193.3 L1088.4 1195.6 L1091.7 1197.8 L1095.1 1199.9 L1098.4 1202.1 L1101.8 1204.2 L1105.2 1206.2 L1107.6 1207.7 M1122.3 1215.9 L1125.3 1217.5 L1127.9 1218.9 L1130.6 1220.3 L1133.3 1221.7 L1136.0 1223.1 L1138.7 1224.4 L1141.4 1225.7 L1144.1 1227.0 L1146.8 1228.3 L1148.9 1229.3 M1164.2 1236.1 L1167.0 1237.3 L1169.8 1238.5 L1172.6 1239.6 L1175.4 1240.8 L1178.2 1241.9 L1181.0 1243.0 L1183.8 1244.1 L1186.6 1245.2 L1189.4 1246.2 L1191.9 1247.1 M1207.7 1252.7 L1211.2 1253.9 L1214.0 1254.9 L1217.8 1256.1 L1221.6 1257.3 L1225.4 1258.5 L1229.2 1259.7 L1233.1 1260.9 L1236.1 1261.8 M1252.2 1266.3 L1256.1 1267.4 L1259.9 1268.4 L1263.8 1269.4 L1267.6 1270.3 L1271.5 1271.3 L1275.3 1272.2 L1279.2 1273.1 L1280.7 1273.5 M1296.9 1277.0 L1300.6 1277.8 L1304.4 1278.6 L1308.3 1279.3 L1312.2 1280.1 L1316.1 1280.8 L1320.0 1281.6 L1324.0 1282.3 L1326.1 1282.6 M1342.6 1285.4 L1346.5 1286.0 L1350.4 1286.6 L1354.4 1287.2 L1358.3 1287.8 L1362.2 1288.3 L1366.2 1288.9 L1370.1 1289.4 L1372.0 1289.6 M1388.7 1291.7 L1391.9 1292.1 L1395.8 1292.5 L1399.8 1292.9 L1403.7 1293.3 L1407.7 1293.8 L1411.7 1294.2 L1415.7 1294.5 L1418.3 1294.8 M1435.0 1296.3 L1438.5 1296.5 L1442.5 1296.9 L1446.5 1297.2 L1450.5 1297.5 L1453.5 1297.7 L1456.5 1297.9 L1459.5 1298.1 L1462.5 1298.3 L1464.7 1298.5 M1481.5 1299.5 L1484.5 1299.6 L1487.5 1299.8 L1490.5 1300.0 L1493.5 1300.1 L1496.5 1300.3 L1499.5 1300.4 L1502.5 1300.6 L1505.5 1300.7 L1508.5 1300.9 L1511.1 1301.0 M1527.8 1301.7 L1531.6 1301.9 L1534.6 1302.0 L1537.6 1302.1 L1540.6 1302.2 L1543.6 1302.3 L1546.6 1302.4 L1549.6 1302.5 L1552.6 1302.6 L1555.7 1302.7 L1557.6 1302.8 M1574.4 1303.3 L1577.8 1303.4 L1580.8 1303.5 L1583.8 1303.6 L1586.8 1303.7 L1589.8 1303.8 L1592.8 1303.9 L1595.8 1304.0 L1598.9 1304.1 L1601.9 1304.2 L1604.2 1304.2 M1621.0 1304.7 L1624.0 1304.8 L1627.0 1304.9 L1630.0 1305.0 L1633.0 1305.1 L1636.0 1305.2 L1639.0 1305.3 L1642.1 1305.4 L1645.1 1305.5 L1648.1 1305.5 L1650.8 1305.6 M1667.5 1306.2 L1671.1 1306.3 L1674.2 1306.4 L1677.2 1306.6 L1680.2 1306.7 L1683.2 1306.8 L1686.2 1306.9 L1689.2 1307.0 L1692.2 1307.1 L1695.2 1307.3 L1697.3 1307.4 M1714.1 1308.1 L1717.2 1308.2 L1720.2 1308.4 L1723.2 1308.5 L1726.2 1308.7 L1729.2 1308.8 L1732.2 1308.9 L1735.2 1309.1 L1738.2 1309.2 L1741.2 1309.4 L1743.9 1309.5 M1760.6 1310.4 L1764.2 1310.5 L1768.1 1310.8 L1772.1 1311.0 L1776.1 1311.2 L1780.1 1311.4 L1784.1 1311.6 L1788.1 1311.8 L1790.5 1312.0 M1807.3 1312.9 L1811.0 1313.1 L1815.0 1313.3 L1819.0 1313.5 L1823.0 1313.7 L1827.0 1314.0 L1831.0 1314.2 L1834.9 1314.4 L1837.1 1314.5 M1853.9 1315.5 L1857.8 1315.7 L1861.8 1315.9 L1865.8 1316.1 L1869.8 1316.4 L1873.8 1316.6 L1877.8 1316.8 L1881.7 1317.0 L1883.5 1317.1 M1900.2 1318.0 L1903.6 1318.2 L1907.6 1318.4 L1911.6 1318.6 L1915.6 1318.8 L1919.6 1319.0 L1923.6 1319.2 L1927.5 1319.5 L1930.0 1319.6 M1946.8 1320.4 L1950.5 1320.6 L1954.4 1320.8 L1958.4 1320.9 L1962.4 1321.1 L1966.4 1321.3 L1970.4 1321.5 L1974.4 1321.7 L1976.3 1321.7 M1993.0 1322.4 L1996.3 1322.6 L2000.3 1322.7 L2004.3 1322.9 L2008.3 1323.0 L2012.3 1323.1 L2016.3 1323.3 L2020.2 1323.4 L2022.8 1323.5 M2039.6 1324.0 L2043.2 1324.1 L2047.2 1324.2 L2051.2 1324.3 L2055.2 1324.4 L2059.2 1324.5 L2063.2 1324.6 L2067.2 1324.7 L2069.4 1324.7 M2086.2 1325.0 L2089.2 1325.1 L2092.2 1325.1 L2095.2 1325.2 L2098.2 1325.2 L2101.2 1325.3 L2104.2 1325.3 L2107.2 1325.3 L2110.2 1325.4 L2113.2 1325.4 L2116.0 1325.4 M2132.8 1325.6 L2136.2 1325.7 L2139.2 1325.7 L2142.2 1325.7 L2145.2 1325.7 L2148.3 1325.7 L2151.3 1325.8 L2154.3 1325.8 L2157.3 1325.8 L2160.3 1325.8 L2162.6 1325.8 M2179.4 1325.9 L2183.3 1326.0 L2186.3 1326.0 L2189.3 1326.0 L2192.3 1326.0 L2195.3 1326.0 L2198.3 1326.0 L2201.3 1326.0 L2204.3 1326.0 L2207.3 1326.1 L2209.1 1326.1 M2225.9 1326.1 L2229.4 1326.1 L2232.4 1326.2 L2235.4 1326.2 L2238.4 1326.2 L2241.4 1326.2 L2244.4 1326.2 L2247.4 1326.2 L2250.4 1326.3 L2253.4 1326.3 L2255.5 1326.3 M2272.1 1326.4 L2275.4 1326.4 L2279.4 1326.4 L2283.4 1326.5 L2287.4 1326.5 L2291.4 1326.5 L2295.4 1326.6 L2299.4 1326.6 L2301.7 1326.6 M2318.3 1326.8 L2322.3 1326.9 L2326.3 1327.0 L2330.3 1327.0 L2334.3 1327.1 L2338.3 1327.2 L2342.3 1327.2 L2346.3 1327.3 L2348.1 1327.3 M2364.9 1327.7 L2368.2 1327.8 L2372.2 1327.9 L2376.2 1328.0 L2379.4 1328.1"/>
<path id="blueC" stroke="#0072bd" d="M213.1 1328.3 L216.4 1328.1 L219.4 1328.0 L222.4 1327.8 L225.4 1327.6 L228.4 1327.4 L231.4 1327.2 L234.4 1327.0 L237.4 1326.8 L240.4 1326.7 L242.7 1326.5 M259.4 1325.4 L262.4 1325.1 L265.4 1324.9 L268.4 1324.7 L271.4 1324.5 L274.4 1324.2 L277.4 1324.0 L280.4 1323.8 L283.4 1323.5 L286.4 1323.3 L289.1 1323.0 M305.8 1321.5 L309.3 1321.2 L312.3 1320.9 L315.3 1320.6 L318.3 1320.3 L321.3 1320.0 L324.2 1319.7 L327.2 1319.3 L330.2 1319.0 L334.2 1318.6 L335.6 1318.4 M352.3 1316.4 L356.0 1315.9 L359.9 1315.3 L363.9 1314.8 L367.9 1314.2 L371.8 1313.7 L375.7 1313.1 L379.7 1312.5 L381.6 1312.2 M398.1 1309.4 L401.3 1308.9 L405.2 1308.2 L409.1 1307.4 L413.1 1306.7 L417.0 1305.9 L420.9 1305.1 L424.8 1304.4 L427.4 1303.8 M443.8 1300.2 L447.1 1299.4 L451.0 1298.5 L454.8 1297.5 L458.7 1296.6 L462.5 1295.6 L466.4 1294.6 L470.2 1293.5 L472.6 1292.9 M488.7 1288.2 L492.2 1287.1 L496.0 1286.0 L499.8 1284.7 L503.6 1283.5 L507.4 1282.2 L511.2 1281.0 L514.9 1279.7 L517.0 1278.9 M532.7 1273.1 L535.6 1272.0 L538.4 1270.9 L541.2 1269.8 L544.0 1268.6 L546.8 1267.5 L549.5 1266.3 L552.3 1265.1 L555.1 1263.9 L557.9 1262.7 L560.2 1261.6 M575.4 1254.5 L578.9 1252.8 L581.6 1251.4 L584.3 1250.1 L586.9 1248.7 L589.6 1247.2 L592.3 1245.8 L594.9 1244.4 L597.6 1242.9 L600.2 1241.4 L601.8 1240.5 M616.1 1231.8 L619.2 1229.9 L621.7 1228.3 L624.2 1226.6 L626.7 1224.9 L629.2 1223.2 L631.6 1221.5 L634.1 1219.7 L636.5 1218.0 L638.9 1216.2 L640.7 1214.9 M653.8 1204.4 L656.8 1201.8 L659.8 1199.2 L662.7 1196.5 L665.7 1193.8 L668.5 1191.1 L671.4 1188.3 L674.2 1185.5 L675.6 1184.0 M686.9 1171.5 L689.4 1168.5 L691.9 1165.4 L694.3 1162.2 L696.7 1159.1 L699.0 1155.9 L701.3 1152.6 L703.6 1149.3 L704.7 1147.6 M713.4 1133.3 L715.3 1129.8 L717.2 1126.3 L718.9 1122.8 L720.7 1119.3 L722.3 1115.7 L723.9 1112.1 L725.4 1108.5 L726.3 1106.4 M731.9 1090.6 L732.8 1087.3 L733.9 1083.6 L734.9 1079.8 L735.8 1076.1 L736.7 1072.3 L737.5 1068.5 L738.3 1064.7 L738.9 1061.7 M742.0 1045.1 L742.5 1041.9 L743.2 1038.1 L743.8 1034.2 L744.5 1030.4 L745.2 1026.6 L745.9 1022.8 L746.6 1019.0 L747.3 1015.8 M750.7 999.3 L751.4 996.3 L752.2 992.5 L753.1 988.7 L754.0 984.9 L754.9 981.2 L755.8 977.4 L756.7 973.6 L757.5 970.5 M761.7 954.3 L762.6 950.9 L763.6 947.1 L764.6 943.4 L765.6 939.6 L766.6 935.8 L767.7 932.0 L768.7 928.2 L769.4 925.5 M773.9 909.3 L774.7 906.2 L775.8 902.3 L776.8 898.5 L777.6 895.6 L778.4 892.7 L779.2 889.8 L780.0 886.8 L780.8 883.9 L781.7 880.6 M786.0 864.3 L786.8 861.4 L787.6 858.4 L788.3 855.4 L789.1 852.4 L789.9 849.5 L790.7 846.5 L791.5 843.5 L792.3 840.6 L793.2 837.7 L793.8 835.6 M799.9 819.8 L801.7 816.3 L803.6 812.9 L805.7 809.6 L808.0 806.5 L810.5 803.4 L813.2 800.5 L816.2 797.9 L819.9 795.9 M834.5 803.1 L836.5 805.3 L838.5 807.5 L840.5 809.8 L843.0 813.0 L845.2 816.2 L847.4 819.5 L849.4 822.9 L851.3 826.4 L851.8 827.3 M859.5 842.4 L860.8 845.1 L862.1 847.8 L863.4 850.5 L864.6 853.3 L865.9 856.0 L867.1 858.7 L868.3 861.5 L869.6 864.3 L870.8 867.0 L872.2 870.2 M879.0 885.7 L880.5 889.0 L881.7 891.8 L882.9 894.5 L884.6 898.2 L886.2 901.8 L887.8 905.5 L889.4 909.1 L891.1 912.9 M898.0 928.3 L899.6 931.9 L901.2 935.5 L902.9 939.1 L904.5 942.8 L906.2 946.4 L907.9 950.0 L909.5 953.6 L910.3 955.2 M917.4 970.3 L918.9 973.4 L920.6 977.0 L922.3 980.6 L924.1 984.2 L925.8 987.7 L927.6 991.3 L929.4 994.9 L930.4 996.9 M938.0 1011.8 L939.4 1014.4 L940.8 1017.1 L942.2 1019.8 L943.6 1022.4 L945.1 1025.1 L946.5 1027.7 L947.9 1030.3 L949.4 1033.0 L950.8 1035.6 L952.2 1038.0 M960.5 1052.5 L962.4 1055.7 L963.9 1058.3 L965.5 1060.9 L967.1 1063.5 L968.7 1066.1 L970.3 1068.6 L971.9 1071.2 L973.5 1073.8 L975.1 1076.3 L976.1 1077.9 M985.5 1091.9 L987.5 1094.7 L989.2 1097.2 L990.9 1099.6 L992.7 1102.1 L994.5 1104.5 L996.3 1106.9 L998.1 1109.3 L999.9 1111.7 L1001.7 1114.1 L1003.1 1115.9 M1013.7 1128.9 L1016.3 1131.9 L1018.9 1134.9 L1021.6 1137.9 L1024.3 1140.9 L1027.0 1143.8 L1029.7 1146.7 L1032.5 1149.5 L1033.8 1150.9 M1045.9 1162.5 L1048.3 1164.6 L1051.3 1167.2 L1054.3 1169.8 L1057.3 1172.4 L1060.4 1174.9 L1063.5 1177.4 L1066.6 1179.9 L1068.9 1181.7 M1082.5 1191.6 L1085.1 1193.3 L1088.4 1195.6 L1091.7 1197.8 L1095.1 1199.9 L1098.4 1202.1 L1101.8 1204.2 L1105.2 1206.2 L1107.6 1207.7 M1122.3 1215.9 L1125.3 1217.5 L1127.9 1218.9 L1130.6 1220.3 L1133.3 1221.7 L1136.0 1223.1 L1138.7 1224.4 L1141.4 1225.7 L1144.1 1227.0 L1146.8 1228.3 L1148.9 1229.3 M1164.2 1236.1 L1167.0 1237.3 L1169.8 1238.5 L1172.6 1239.6 L1175.4 1240.8 L1178.2 1241.9 L1181.0 1243.0 L1183.8 1244.1 L1186.6 1245.2 L1189.4 1246.2 L1191.9 1247.1 M1207.7 1252.7 L1211.2 1253.9 L1214.0 1254.9 L1217.8 1256.1 L1221.6 1257.3 L1225.4 1258.5 L1229.2 1259.7 L1233.1 1260.9 L1236.1 1261.8 M1252.2 1266.3 L1256.1 1267.4 L1259.9 1268.4 L1263.8 1269.4 L1267.6 1270.3 L1271.5 1271.3 L1275.3 1272.2 L1279.2 1273.1 L1280.7 1273.5 M1296.9 1277.0 L1300.6 1277.8 L1304.4 1278.6 L1308.3 1279.3 L1312.2 1280.1 L1316.1 1280.8 L1320.0 1281.6 L1324.0 1282.3 L1326.1 1282.6 M1342.6 1285.4 L1346.5 1286.0 L1350.4 1286.6 L1354.4 1287.2 L1358.3 1287.8 L1362.2 1288.3 L1366.2 1288.9 L1370.1 1289.4 L1372.0 1289.6 M1388.7 1291.7 L1391.9 1292.1 L1395.8 1292.5 L1399.8 1292.9 L1403.7 1293.3 L1407.7 1293.8 L1411.7 1294.2 L1415.7 1294.5 L1418.3 1294.8 M1435.0 1296.3 L1438.5 1296.5 L1442.5 1296.9 L1446.5 1297.2 L1450.5 1297.5 L1453.5 1297.7 L1456.5 1297.9 L1459.5 1298.1 L1462.5 1298.3 L1464.7 1298.5 M1481.5 1299.5 L1484.5 1299.6 L1487.5 1299.8 L1490.5 1300.0 L1493.5 1300.1 L1496.5 1300.3 L1499.5 1300.4 L1502.5 1300.6 L1505.5 1300.7 L1508.5 1300.9 L1511.1 1301.0 M1527.8 1301.7 L1531.6 1301.9 L1534.6 1302.0 L1537.6 1302.1 L1540.6 1302.2 L1543.6 1302.3 L1546.6 1302.4 L1549.6 1302.5 L1552.6 1302.6 L1555.7 1302.7 L1557.6 1302.8 M1574.4 1303.3 L1577.8 1303.4 L1580.8 1303.5 L1583.8 1303.6 L1586.8 1303.7 L1589.8 1303.8 L1592.8 1303.9 L1595.8 1304.0 L1598.9 1304.1 L1601.9 1304.2 L1604.2 1304.2 M1621.0 1304.7 L1624.0 1304.8 L1627.0 1304.9 L1630.0 1305.0 L1633.0 1305.1 L1636.0 1305.2 L1639.0 1305.3 L1642.1 1305.4 L1645.1 1305.5 L1648.1 1305.5 L1650.8 1305.6 M1667.5 1306.2 L1671.1 1306.3 L1674.2 1306.4 L1677.2 1306.6 L1680.2 1306.7 L1683.2 1306.8 L1686.2 1306.9 L1689.2 1307.0 L1692.2 1307.1 L1695.2 1307.3 L1697.3 1307.4 M1714.1 1308.1 L1717.2 1308.2 L1720.2 1308.4 L1723.2 1308.5 L1726.2 1308.7 L1729.2 1308.8 L1732.2 1308.9 L1735.2 1309.1 L1738.2 1309.2 L1741.2 1309.4 L1743.9 1309.5 M1760.6 1310.4 L1764.2 1310.5 L1768.1 1310.8 L1772.1 1311.0 L1776.1 1311.2 L1780.1 1311.4 L1784.1 1311.6 L1788.1 1311.8 L1790.5 1312.0 M1807.3 1312.9 L1811.0 1313.1 L1815.0 1313.3 L1819.0 1313.5 L1823.0 1313.7 L1827.0 1314.0 L1831.0 1314.2 L1834.9 1314.4 L1837.1 1314.5 M1853.9 1315.5 L1857.8 1315.7 L1861.8 1315.9 L1865.8 1316.1 L1869.8 1316.4 L1873.8 1316.6 L1877.8 1316.8 L1881.7 1317.0 L1883.5 1317.1 M1900.2 1318.0 L1903.6 1318.2 L1907.6 1318.4 L1911.6 1318.6 L1915.6 1318.8 L1919.6 1319.0 L1923.6 1319.2 L1927.5 1319.5 L1930.0 1319.6 M1946.8 1320.4 L1950.5 1320.6 L1954.4 1320.8 L1958.4 1320.9 L1962.4 1321.1 L1966.4 1321.3 L1970.4 1321.5 L1974.4 1321.7 L1976.3 1321.7 M1993.0 1322.4 L1996.3 1322.6 L2000.3 1322.7 L2004.3 1322.9 L2008.3 1323.0 L2012.3 1323.1 L2016.3 1323.3 L2020.2 1323.4 L2022.8 1323.5 M2039.6 1324.0 L2043.2 1324.1 L2047.2 1324.2 L2051.2 1324.3 L2055.2 1324.4 L2059.2 1324.5 L2063.2 1324.6 L2067.2 1324.7 L2069.4 1324.7 M2086.2 1325.0 L2089.2 1325.1 L2092.2 1325.1 L2095.2 1325.2 L2098.2 1325.2 L2101.2 1325.3 L2104.2 1325.3 L2107.2 1325.3 L2110.2 1325.4 L2113.2 1325.4 L2116.0 1325.4 M2132.8 1325.6 L2136.2 1325.7 L2139.2 1325.7 L2142.2 1325.7 L2145.2 1325.7 L2148.3 1325.7 L2151.3 1325.8 L2154.3 1325.8 L2157.3 1325.8 L2160.3 1325.8 L2162.6 1325.8 M2179.4 1325.9 L2183.3 1326.0 L2186.3 1326.0 L2189.3 1326.0 L2192.3 1326.0 L2195.3 1326.0 L2198.3 1326.0 L2201.3 1326.0 L2204.3 1326.0 L2207.3 1326.1 L2209.1 1326.1 M2225.9 1326.1 L2229.4 1326.1 L2232.4 1326.2 L2235.4 1326.2 L2238.4 1326.2 L2241.4 1326.2 L2244.4 1326.2 L2247.4 1326.2 L2250.4 1326.3 L2253.4 1326.3 L2255.5 1326.3 M2272.1 1326.4 L2275.4 1326.4 L2279.4 1326.4 L2283.4 1326.5 L2287.4 1326.5 L2291.4 1326.5 L2295.4 1326.6 L2299.4 1326.6 L2301.7 1326.6 M2318.3 1326.8 L2322.3 1326.9 L2326.3 1327.0 L2330.3 1327.0 L2334.3 1327.1 L2338.3 1327.2 L2342.3 1327.2 L2346.3 1327.3 L2348.1 1327.3 M2364.9 1327.7 L2368.2 1327.8 L2372.2 1327.9 L2376.2 1328.0 L2379.4 1328.1"/>
</g>
<text class="tk" x="152.10" y="1364.30" textLength="37.62" lengthAdjust="spacingAndGlyphs">0</text>
<text class="tk" x="115.86" y="1197.59" textLength="73.73" lengthAdjust="spacingAndGlyphs">10</text>
<text class="tk" x="116.82" y="1030.87" textLength="72.74" lengthAdjust="spacingAndGlyphs">20</text>
<text class="tk" x="116.80" y="864.16" textLength="72.78" lengthAdjust="spacingAndGlyphs">30</text>
<text class="tk" x="116.84" y="697.44" textLength="72.79" lengthAdjust="spacingAndGlyphs">40</text>
<text class="tk" x="115.76" y="530.73" textLength="73.84" lengthAdjust="spacingAndGlyphs">50</text>
<text class="tk" x="115.76" y="364.01" textLength="73.77" lengthAdjust="spacingAndGlyphs">60</text>
<text class="tk" x="114.80" y="197.30" textLength="74.80" lengthAdjust="spacingAndGlyphs">70</text>
<text class="tk" y="1432.0"><tspan class="mn" x="371.48" dy="3.6" textLength="55.96" lengthAdjust="spacingAndGlyphs">−</tspan><tspan x="427.10" dy="-3.6" textLength="73.73" lengthAdjust="spacingAndGlyphs">50</tspan></text>
<text class="tk" x="735.29" y="1432.00" textLength="37.54" lengthAdjust="spacingAndGlyphs">0</text>
<text class="tk" x="1034.63" y="1432.00" textLength="74.88" lengthAdjust="spacingAndGlyphs">50</text>
<text class="tk" x="1335.02" y="1432.00" textLength="110.11" lengthAdjust="spacingAndGlyphs">100</text>
<text class="tk" x="1652.03" y="1432.00" textLength="111.17" lengthAdjust="spacingAndGlyphs">150</text>
<text class="tk" x="1972.00" y="1432.00" textLength="109.10" lengthAdjust="spacingAndGlyphs">200</text>
<text class="tk" x="2289.04" y="1432.00" textLength="109.10" lengthAdjust="spacingAndGlyphs">250</text>
<text class="lb" y="1523.60"><tspan id="t_xl_0" x="989.98" textLength="194.05" lengthAdjust="spacingAndGlyphs">Crank</tspan> <tspan id="t_xl_1" x="1212.00" textLength="181.98" lengthAdjust="spacingAndGlyphs">Angle</tspan> <tspan id="t_xl_2" class="br" x="1422.78" dy="5.6" textLength="15.88" lengthAdjust="spacingAndGlyphs">[</tspan><tspan id="t_xl_3" x="1438.83" dy="-5.6" textLength="108.28" lengthAdjust="spacingAndGlyphs">deg</tspan><tspan id="t_xl_4" class="br" x="1547.38" dy="5.6" textLength="16.01" lengthAdjust="spacingAndGlyphs">]</tspan></text>
<text class="lb" y="0.00" transform="translate(75.7 980.5) rotate(-90)"><tspan id="t_yl_0" x="-1.04" textLength="271.05" lengthAdjust="spacingAndGlyphs">Pressure</tspan> <tspan id="t_yl_1" class="br" x="297.85" dy="8.0" textLength="15.48" lengthAdjust="spacingAndGlyphs">[</tspan><tspan id="t_yl_2" x="314.96" dy="-8.0" textLength="99.06" lengthAdjust="spacingAndGlyphs">bar</tspan><tspan id="t_yl_3" class="br" x="416.35" dy="8.0" textLength="17.23" lengthAdjust="spacingAndGlyphs">]</tspan></text>
<rect x="821" y="53" width="147" height="5" fill="#a2142f" shape-rendering="crispEdges"/>
<text class="lg" y="70.00"><tspan id="t_l1_0" x="976.98" textLength="274.04" lengthAdjust="spacingAndGlyphs">Simulation</tspan></text>
<g fill="#0072bd" shape-rendering="crispEdges"><rect x="1281" y="53" width="30" height="5"/><rect x="1328" y="53" width="30" height="5"/><rect x="1374" y="53" width="30" height="5"/><rect x="1421" y="53" width="7" height="5"/></g>
<text class="lg" y="70.00"><tspan id="t_l2_0" x="1439.00" textLength="293.00" lengthAdjust="spacingAndGlyphs">Experiment</tspan></text>
</svg></body></html>
